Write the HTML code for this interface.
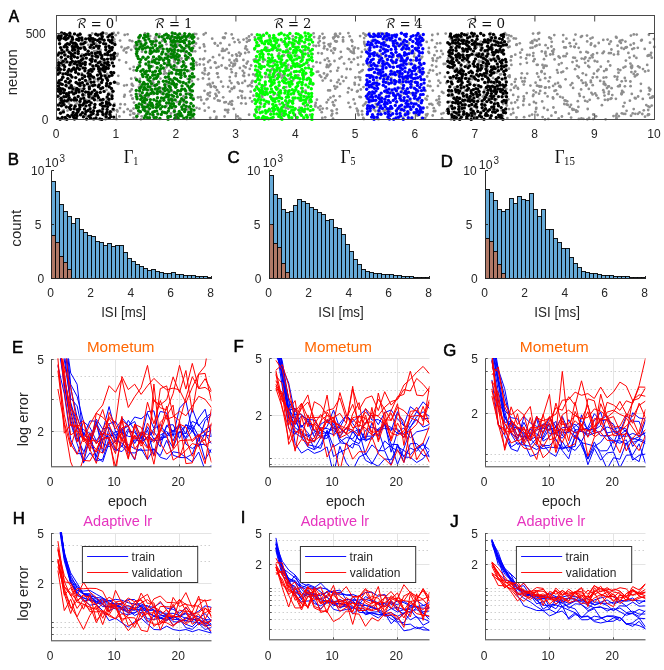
<!DOCTYPE html>
<html><head><meta charset="utf-8"><title>Figure</title>
<style>html,body{margin:0;padding:0;background:#fff;width:664px;height:670px;overflow:hidden}</style>
</head><body><svg width="664" height="670" viewBox="0 0 664 670" style="display:block"><g><g fill="#8e8e8e"><circle cx="430.3" cy="86.2" r="1.38"/><circle cx="593.0" cy="54.5" r="1.38"/><circle cx="520.4" cy="64.1" r="1.38"/><circle cx="191.2" cy="90.8" r="1.38"/><circle cx="236.0" cy="73.4" r="1.38"/><circle cx="578.9" cy="67.0" r="1.38"/><circle cx="59.6" cy="73.0" r="1.38"/><circle cx="547.6" cy="109.9" r="1.38"/><circle cx="533.1" cy="33.6" r="1.38"/><circle cx="336.3" cy="35.7" r="1.38"/><circle cx="237.7" cy="116.3" r="1.38"/><circle cx="223.0" cy="37.7" r="1.38"/><circle cx="208.9" cy="73.4" r="1.38"/><circle cx="322.7" cy="108.6" r="1.38"/><circle cx="358.2" cy="48.4" r="1.38"/><circle cx="387.5" cy="82.0" r="1.38"/><circle cx="651.8" cy="57.7" r="1.38"/><circle cx="530.5" cy="47.8" r="1.38"/><circle cx="428.6" cy="72.9" r="1.38"/><circle cx="647.9" cy="115.2" r="1.38"/><circle cx="185.3" cy="48.2" r="1.38"/><circle cx="152.3" cy="59.4" r="1.38"/><circle cx="422.8" cy="40.6" r="1.38"/><circle cx="82.8" cy="96.1" r="1.38"/><circle cx="77.8" cy="51.5" r="1.38"/><circle cx="364.4" cy="43.8" r="1.38"/><circle cx="335.3" cy="88.7" r="1.38"/><circle cx="605.0" cy="84.0" r="1.38"/><circle cx="432.8" cy="90.6" r="1.38"/><circle cx="363.9" cy="119.0" r="1.38"/><circle cx="353.6" cy="99.4" r="1.38"/><circle cx="204.5" cy="90.8" r="1.38"/><circle cx="63.6" cy="110.1" r="1.38"/><circle cx="171.6" cy="53.2" r="1.38"/><circle cx="470.3" cy="82.5" r="1.38"/><circle cx="176.5" cy="70.3" r="1.38"/><circle cx="277.5" cy="94.8" r="1.38"/><circle cx="58.7" cy="88.3" r="1.38"/><circle cx="552.9" cy="54.2" r="1.38"/><circle cx="148.9" cy="78.8" r="1.38"/><circle cx="216.5" cy="67.8" r="1.38"/><circle cx="582.9" cy="82.9" r="1.38"/><circle cx="361.4" cy="71.2" r="1.38"/><circle cx="563.1" cy="41.7" r="1.38"/><circle cx="439.1" cy="96.3" r="1.38"/><circle cx="500.1" cy="74.5" r="1.38"/><circle cx="111.2" cy="59.9" r="1.38"/><circle cx="380.1" cy="112.0" r="1.38"/><circle cx="360.1" cy="36.1" r="1.38"/><circle cx="577.6" cy="76.3" r="1.38"/><circle cx="272.5" cy="98.2" r="1.38"/><circle cx="414.2" cy="53.6" r="1.38"/><circle cx="91.9" cy="48.8" r="1.38"/><circle cx="288.3" cy="64.8" r="1.38"/><circle cx="249.7" cy="40.1" r="1.38"/><circle cx="146.3" cy="111.8" r="1.38"/><circle cx="544.7" cy="73.8" r="1.38"/><circle cx="283.4" cy="55.1" r="1.38"/><circle cx="641.8" cy="40.0" r="1.38"/><circle cx="409.3" cy="63.9" r="1.38"/><circle cx="418.3" cy="67.3" r="1.38"/><circle cx="438.0" cy="85.9" r="1.38"/><circle cx="461.0" cy="70.0" r="1.38"/><circle cx="146.7" cy="71.4" r="1.38"/><circle cx="319.8" cy="41.1" r="1.38"/><circle cx="199.8" cy="47.8" r="1.38"/><circle cx="297.2" cy="55.6" r="1.38"/><circle cx="114.3" cy="39.4" r="1.38"/><circle cx="635.3" cy="113.8" r="1.38"/><circle cx="185.1" cy="52.8" r="1.38"/><circle cx="458.2" cy="79.3" r="1.38"/><circle cx="236.2" cy="54.3" r="1.38"/><circle cx="579.2" cy="93.8" r="1.38"/><circle cx="452.5" cy="79.0" r="1.38"/><circle cx="135.2" cy="48.0" r="1.38"/><circle cx="561.9" cy="116.5" r="1.38"/><circle cx="621.6" cy="94.3" r="1.38"/><circle cx="597.0" cy="77.2" r="1.38"/><circle cx="397.2" cy="45.7" r="1.38"/><circle cx="143.5" cy="96.1" r="1.38"/><circle cx="171.6" cy="48.2" r="1.38"/><circle cx="611.4" cy="98.3" r="1.38"/><circle cx="386.8" cy="93.2" r="1.38"/><circle cx="164.5" cy="71.5" r="1.38"/><circle cx="585.2" cy="62.8" r="1.38"/><circle cx="440.2" cy="43.2" r="1.38"/><circle cx="397.2" cy="43.3" r="1.38"/><circle cx="281.5" cy="97.8" r="1.38"/><circle cx="302.3" cy="54.9" r="1.38"/><circle cx="199.7" cy="64.5" r="1.38"/><circle cx="79.3" cy="86.0" r="1.38"/><circle cx="580.5" cy="52.2" r="1.38"/><circle cx="336.2" cy="41.7" r="1.38"/><circle cx="384.0" cy="78.0" r="1.38"/><circle cx="249.2" cy="40.1" r="1.38"/><circle cx="505.8" cy="108.4" r="1.38"/><circle cx="71.6" cy="105.1" r="1.38"/><circle cx="279.1" cy="53.3" r="1.38"/><circle cx="74.6" cy="93.0" r="1.38"/><circle cx="130.0" cy="68.8" r="1.38"/><circle cx="634.9" cy="76.4" r="1.38"/><circle cx="449.8" cy="106.9" r="1.38"/><circle cx="312.6" cy="54.1" r="1.38"/><circle cx="369.7" cy="55.2" r="1.38"/><circle cx="578.4" cy="106.9" r="1.38"/><circle cx="262.3" cy="97.0" r="1.38"/><circle cx="409.5" cy="50.1" r="1.38"/><circle cx="465.3" cy="40.4" r="1.38"/><circle cx="269.0" cy="44.1" r="1.38"/><circle cx="366.9" cy="76.0" r="1.38"/><circle cx="514.1" cy="87.7" r="1.38"/><circle cx="600.2" cy="80.9" r="1.38"/><circle cx="146.8" cy="104.2" r="1.38"/><circle cx="614.7" cy="76.5" r="1.38"/><circle cx="59.6" cy="99.5" r="1.38"/><circle cx="506.8" cy="105.5" r="1.38"/><circle cx="541.2" cy="86.5" r="1.38"/><circle cx="138.3" cy="114.0" r="1.38"/><circle cx="307.0" cy="78.7" r="1.38"/><circle cx="544.0" cy="59.2" r="1.38"/><circle cx="65.0" cy="63.0" r="1.38"/><circle cx="432.3" cy="35.0" r="1.38"/><circle cx="530.7" cy="42.7" r="1.38"/><circle cx="363.3" cy="64.6" r="1.38"/><circle cx="490.6" cy="41.7" r="1.38"/><circle cx="191.9" cy="81.0" r="1.38"/><circle cx="175.2" cy="50.3" r="1.38"/><circle cx="273.6" cy="94.8" r="1.38"/><circle cx="163.8" cy="73.9" r="1.38"/><circle cx="263.4" cy="34.6" r="1.38"/><circle cx="623.5" cy="67.6" r="1.38"/><circle cx="399.4" cy="75.6" r="1.38"/><circle cx="259.9" cy="51.3" r="1.38"/><circle cx="218.9" cy="92.4" r="1.38"/><circle cx="625.8" cy="47.5" r="1.38"/><circle cx="322.3" cy="117.9" r="1.38"/><circle cx="642.8" cy="98.9" r="1.38"/><circle cx="364.8" cy="104.1" r="1.38"/><circle cx="368.2" cy="97.2" r="1.38"/><circle cx="592.6" cy="37.6" r="1.38"/><circle cx="500.7" cy="117.4" r="1.38"/><circle cx="403.7" cy="93.6" r="1.38"/><circle cx="311.6" cy="69.7" r="1.38"/><circle cx="581.7" cy="58.6" r="1.38"/><circle cx="302.7" cy="52.4" r="1.38"/><circle cx="608.3" cy="86.3" r="1.38"/><circle cx="97.6" cy="100.4" r="1.38"/><circle cx="313.6" cy="45.6" r="1.38"/><circle cx="367.2" cy="108.9" r="1.38"/><circle cx="625.2" cy="113.9" r="1.38"/><circle cx="206.6" cy="99.4" r="1.38"/><circle cx="538.5" cy="76.8" r="1.38"/><circle cx="461.0" cy="37.8" r="1.38"/><circle cx="485.3" cy="56.3" r="1.38"/><circle cx="433.0" cy="70.6" r="1.38"/><circle cx="637.5" cy="74.3" r="1.38"/><circle cx="255.4" cy="59.4" r="1.38"/><circle cx="294.7" cy="65.2" r="1.38"/><circle cx="177.8" cy="90.4" r="1.38"/><circle cx="86.8" cy="111.5" r="1.38"/><circle cx="183.8" cy="102.1" r="1.38"/><circle cx="603.9" cy="51.7" r="1.38"/><circle cx="558.9" cy="64.5" r="1.38"/><circle cx="123.7" cy="50.4" r="1.38"/><circle cx="417.6" cy="115.6" r="1.38"/><circle cx="343.1" cy="41.4" r="1.38"/><circle cx="412.1" cy="86.4" r="1.38"/><circle cx="450.7" cy="39.2" r="1.38"/><circle cx="239.9" cy="68.0" r="1.38"/><circle cx="631.4" cy="72.1" r="1.38"/><circle cx="335.1" cy="48.6" r="1.38"/><circle cx="432.1" cy="65.3" r="1.38"/><circle cx="436.4" cy="61.0" r="1.38"/><circle cx="166.5" cy="105.8" r="1.38"/><circle cx="93.5" cy="67.1" r="1.38"/><circle cx="302.6" cy="88.6" r="1.38"/><circle cx="513.4" cy="112.9" r="1.38"/><circle cx="544.0" cy="108.0" r="1.38"/><circle cx="493.0" cy="77.9" r="1.38"/><circle cx="124.2" cy="96.7" r="1.38"/><circle cx="602.7" cy="53.2" r="1.38"/><circle cx="536.1" cy="108.9" r="1.38"/><circle cx="581.4" cy="118.3" r="1.38"/><circle cx="369.4" cy="33.1" r="1.38"/><circle cx="604.0" cy="92.4" r="1.38"/><circle cx="84.4" cy="75.3" r="1.38"/><circle cx="74.6" cy="101.3" r="1.38"/><circle cx="68.6" cy="101.4" r="1.38"/><circle cx="207.7" cy="84.6" r="1.38"/><circle cx="205.1" cy="51.1" r="1.38"/><circle cx="168.6" cy="116.1" r="1.38"/><circle cx="395.6" cy="46.9" r="1.38"/><circle cx="79.8" cy="33.7" r="1.38"/><circle cx="409.6" cy="71.0" r="1.38"/><circle cx="155.8" cy="88.3" r="1.38"/><circle cx="461.9" cy="99.2" r="1.38"/><circle cx="69.1" cy="103.6" r="1.38"/><circle cx="242.2" cy="91.5" r="1.38"/><circle cx="617.6" cy="45.7" r="1.38"/><circle cx="378.5" cy="119.2" r="1.38"/><circle cx="541.8" cy="51.4" r="1.38"/><circle cx="450.0" cy="61.7" r="1.38"/><circle cx="421.7" cy="117.9" r="1.38"/><circle cx="170.9" cy="113.5" r="1.38"/><circle cx="400.0" cy="55.8" r="1.38"/><circle cx="80.2" cy="61.2" r="1.38"/><circle cx="535.9" cy="92.3" r="1.38"/><circle cx="630.6" cy="44.9" r="1.38"/><circle cx="567.2" cy="101.3" r="1.38"/><circle cx="86.8" cy="82.5" r="1.38"/><circle cx="259.0" cy="109.5" r="1.38"/><circle cx="246.7" cy="63.5" r="1.38"/><circle cx="123.9" cy="112.0" r="1.38"/><circle cx="431.2" cy="103.9" r="1.38"/><circle cx="533.4" cy="53.1" r="1.38"/><circle cx="244.1" cy="76.1" r="1.38"/><circle cx="572.5" cy="62.1" r="1.38"/><circle cx="533.2" cy="55.9" r="1.38"/><circle cx="133.7" cy="66.9" r="1.38"/><circle cx="515.1" cy="102.4" r="1.38"/><circle cx="584.3" cy="59.0" r="1.38"/><circle cx="174.5" cy="109.5" r="1.38"/><circle cx="399.5" cy="96.1" r="1.38"/><circle cx="438.5" cy="80.7" r="1.38"/><circle cx="420.9" cy="109.6" r="1.38"/><circle cx="114.1" cy="110.3" r="1.38"/><circle cx="451.9" cy="63.0" r="1.38"/><circle cx="434.4" cy="55.2" r="1.38"/><circle cx="549.2" cy="87.4" r="1.38"/><circle cx="537.0" cy="85.7" r="1.38"/><circle cx="252.1" cy="101.5" r="1.38"/><circle cx="488.3" cy="74.3" r="1.38"/><circle cx="575.1" cy="69.2" r="1.38"/><circle cx="590.5" cy="38.6" r="1.38"/><circle cx="153.1" cy="116.0" r="1.38"/><circle cx="72.5" cy="40.7" r="1.38"/><circle cx="445.7" cy="33.6" r="1.38"/><circle cx="184.9" cy="89.5" r="1.38"/><circle cx="393.6" cy="56.6" r="1.38"/><circle cx="621.5" cy="48.0" r="1.38"/><circle cx="283.3" cy="63.1" r="1.38"/><circle cx="207.7" cy="94.5" r="1.38"/><circle cx="329.5" cy="65.5" r="1.38"/><circle cx="449.5" cy="43.5" r="1.38"/><circle cx="117.0" cy="110.2" r="1.38"/><circle cx="284.1" cy="77.9" r="1.38"/><circle cx="136.5" cy="117.5" r="1.38"/><circle cx="452.6" cy="46.3" r="1.38"/><circle cx="553.2" cy="52.0" r="1.38"/><circle cx="281.9" cy="115.5" r="1.38"/><circle cx="278.8" cy="54.9" r="1.38"/><circle cx="379.1" cy="59.6" r="1.38"/><circle cx="185.1" cy="108.6" r="1.38"/><circle cx="204.5" cy="74.0" r="1.38"/><circle cx="253.8" cy="59.8" r="1.38"/><circle cx="330.0" cy="90.4" r="1.38"/><circle cx="105.3" cy="75.8" r="1.38"/><circle cx="506.6" cy="34.9" r="1.38"/><circle cx="402.8" cy="64.4" r="1.38"/><circle cx="235.7" cy="76.0" r="1.38"/><circle cx="102.9" cy="113.8" r="1.38"/><circle cx="512.9" cy="109.0" r="1.38"/><circle cx="134.9" cy="45.8" r="1.38"/><circle cx="136.2" cy="55.1" r="1.38"/><circle cx="134.6" cy="47.1" r="1.38"/><circle cx="105.1" cy="69.4" r="1.38"/><circle cx="598.5" cy="69.6" r="1.38"/><circle cx="217.5" cy="73.5" r="1.38"/><circle cx="239.7" cy="55.8" r="1.38"/><circle cx="554.5" cy="90.9" r="1.38"/><circle cx="427.2" cy="76.5" r="1.38"/><circle cx="168.4" cy="78.8" r="1.38"/><circle cx="316.5" cy="62.2" r="1.38"/><circle cx="585.1" cy="100.8" r="1.38"/><circle cx="281.0" cy="117.3" r="1.38"/><circle cx="481.6" cy="111.8" r="1.38"/><circle cx="114.4" cy="104.0" r="1.38"/><circle cx="491.4" cy="45.2" r="1.38"/><circle cx="520.8" cy="57.4" r="1.38"/><circle cx="550.3" cy="54.5" r="1.38"/><circle cx="459.7" cy="81.0" r="1.38"/><circle cx="278.2" cy="110.6" r="1.38"/><circle cx="94.9" cy="79.2" r="1.38"/><circle cx="366.7" cy="44.7" r="1.38"/><circle cx="509.5" cy="75.4" r="1.38"/><circle cx="170.6" cy="64.7" r="1.38"/><circle cx="215.7" cy="87.1" r="1.38"/><circle cx="377.1" cy="106.5" r="1.38"/><circle cx="504.0" cy="65.2" r="1.38"/><circle cx="592.7" cy="77.5" r="1.38"/><circle cx="131.7" cy="89.5" r="1.38"/><circle cx="166.7" cy="97.1" r="1.38"/><circle cx="534.6" cy="59.2" r="1.38"/><circle cx="441.9" cy="91.9" r="1.38"/><circle cx="487.6" cy="69.6" r="1.38"/><circle cx="652.6" cy="97.0" r="1.38"/><circle cx="618.1" cy="54.2" r="1.38"/><circle cx="560.6" cy="87.0" r="1.38"/><circle cx="521.2" cy="78.0" r="1.38"/><circle cx="292.7" cy="39.1" r="1.38"/><circle cx="440.0" cy="57.2" r="1.38"/><circle cx="166.8" cy="55.7" r="1.38"/><circle cx="510.7" cy="90.1" r="1.38"/><circle cx="509.6" cy="46.7" r="1.38"/><circle cx="487.8" cy="86.1" r="1.38"/><circle cx="322.5" cy="33.8" r="1.38"/><circle cx="282.7" cy="41.9" r="1.38"/><circle cx="307.5" cy="62.4" r="1.38"/><circle cx="76.4" cy="47.4" r="1.38"/><circle cx="561.4" cy="72.3" r="1.38"/><circle cx="380.8" cy="56.0" r="1.38"/><circle cx="288.2" cy="108.7" r="1.38"/><circle cx="384.2" cy="33.8" r="1.38"/><circle cx="488.0" cy="50.1" r="1.38"/><circle cx="284.6" cy="107.2" r="1.38"/><circle cx="553.2" cy="98.5" r="1.38"/><circle cx="606.3" cy="69.7" r="1.38"/><circle cx="288.2" cy="53.4" r="1.38"/><circle cx="138.9" cy="106.6" r="1.38"/><circle cx="511.2" cy="36.2" r="1.38"/><circle cx="650.3" cy="89.5" r="1.38"/><circle cx="145.0" cy="33.3" r="1.38"/><circle cx="482.7" cy="54.3" r="1.38"/><circle cx="550.0" cy="77.4" r="1.38"/><circle cx="607.0" cy="88.1" r="1.38"/><circle cx="130.3" cy="111.1" r="1.38"/><circle cx="111.4" cy="111.9" r="1.38"/><circle cx="647.2" cy="64.9" r="1.38"/><circle cx="126.3" cy="52.5" r="1.38"/><circle cx="162.2" cy="40.8" r="1.38"/><circle cx="400.3" cy="87.9" r="1.38"/><circle cx="323.4" cy="38.2" r="1.38"/><circle cx="505.2" cy="93.8" r="1.38"/><circle cx="170.5" cy="38.0" r="1.38"/><circle cx="603.3" cy="39.9" r="1.38"/><circle cx="186.4" cy="106.1" r="1.38"/><circle cx="516.4" cy="44.9" r="1.38"/><circle cx="96.9" cy="58.5" r="1.38"/><circle cx="339.6" cy="58.6" r="1.38"/><circle cx="76.0" cy="46.7" r="1.38"/><circle cx="244.2" cy="73.0" r="1.38"/><circle cx="243.2" cy="75.6" r="1.38"/><circle cx="486.9" cy="87.7" r="1.38"/><circle cx="328.6" cy="44.5" r="1.38"/><circle cx="90.5" cy="41.4" r="1.38"/><circle cx="651.7" cy="105.6" r="1.38"/><circle cx="587.9" cy="52.6" r="1.38"/><circle cx="604.5" cy="95.6" r="1.38"/><circle cx="204.0" cy="103.6" r="1.38"/><circle cx="292.2" cy="102.4" r="1.38"/><circle cx="192.4" cy="69.8" r="1.38"/><circle cx="131.2" cy="95.3" r="1.38"/><circle cx="76.2" cy="98.5" r="1.38"/><circle cx="357.5" cy="111.0" r="1.38"/><circle cx="130.1" cy="91.4" r="1.38"/><circle cx="161.9" cy="52.4" r="1.38"/><circle cx="571.1" cy="117.6" r="1.38"/><circle cx="346.1" cy="77.7" r="1.38"/><circle cx="166.4" cy="67.3" r="1.38"/><circle cx="457.1" cy="115.2" r="1.38"/><circle cx="215.5" cy="94.0" r="1.38"/><circle cx="371.6" cy="40.9" r="1.38"/><circle cx="225.7" cy="33.3" r="1.38"/><circle cx="365.2" cy="45.8" r="1.38"/><circle cx="432.4" cy="104.8" r="1.38"/><circle cx="377.2" cy="53.3" r="1.38"/><circle cx="293.1" cy="80.4" r="1.38"/><circle cx="529.4" cy="104.7" r="1.38"/><circle cx="578.8" cy="77.8" r="1.38"/><circle cx="163.8" cy="39.5" r="1.38"/><circle cx="138.0" cy="43.5" r="1.38"/><circle cx="124.2" cy="85.6" r="1.38"/><circle cx="642.3" cy="114.0" r="1.38"/><circle cx="619.6" cy="41.5" r="1.38"/><circle cx="194.4" cy="34.0" r="1.38"/><circle cx="636.5" cy="75.2" r="1.38"/><circle cx="180.8" cy="100.0" r="1.38"/><circle cx="359.4" cy="72.4" r="1.38"/><circle cx="353.9" cy="59.2" r="1.38"/><circle cx="603.6" cy="77.7" r="1.38"/><circle cx="80.7" cy="88.9" r="1.38"/><circle cx="245.1" cy="98.0" r="1.38"/><circle cx="415.3" cy="93.8" r="1.38"/><circle cx="96.2" cy="115.2" r="1.38"/><circle cx="198.0" cy="97.4" r="1.38"/><circle cx="334.6" cy="36.9" r="1.38"/><circle cx="583.3" cy="118.8" r="1.38"/><circle cx="511.6" cy="56.5" r="1.38"/><circle cx="552.2" cy="51.1" r="1.38"/><circle cx="511.6" cy="84.4" r="1.38"/><circle cx="479.7" cy="67.9" r="1.38"/><circle cx="564.6" cy="100.4" r="1.38"/><circle cx="464.0" cy="61.6" r="1.38"/><circle cx="496.4" cy="58.2" r="1.38"/><circle cx="236.9" cy="55.8" r="1.38"/><circle cx="156.7" cy="76.9" r="1.38"/><circle cx="508.9" cy="35.4" r="1.38"/><circle cx="155.7" cy="44.4" r="1.38"/><circle cx="606.3" cy="69.9" r="1.38"/><circle cx="413.3" cy="60.4" r="1.38"/><circle cx="253.5" cy="95.7" r="1.38"/><circle cx="616.6" cy="37.7" r="1.38"/><circle cx="149.3" cy="63.6" r="1.38"/><circle cx="364.2" cy="41.9" r="1.38"/><circle cx="111.2" cy="94.5" r="1.38"/><circle cx="633.8" cy="34.4" r="1.38"/><circle cx="400.6" cy="110.4" r="1.38"/><circle cx="537.1" cy="73.5" r="1.38"/><circle cx="225.1" cy="109.9" r="1.38"/><circle cx="536.0" cy="103.1" r="1.38"/><circle cx="476.8" cy="53.3" r="1.38"/><circle cx="441.4" cy="113.8" r="1.38"/><circle cx="624.9" cy="86.3" r="1.38"/><circle cx="315.7" cy="102.9" r="1.38"/><circle cx="304.7" cy="45.8" r="1.38"/><circle cx="470.4" cy="112.4" r="1.38"/><circle cx="555.9" cy="90.3" r="1.38"/><circle cx="256.9" cy="45.3" r="1.38"/><circle cx="457.0" cy="60.0" r="1.38"/><circle cx="181.5" cy="58.5" r="1.38"/><circle cx="386.4" cy="33.6" r="1.38"/><circle cx="516.5" cy="117.5" r="1.38"/><circle cx="95.6" cy="61.9" r="1.38"/><circle cx="491.7" cy="54.9" r="1.38"/><circle cx="65.7" cy="54.7" r="1.38"/><circle cx="629.6" cy="57.6" r="1.38"/><circle cx="336.8" cy="113.2" r="1.38"/><circle cx="301.1" cy="112.2" r="1.38"/><circle cx="487.3" cy="52.5" r="1.38"/><circle cx="369.4" cy="66.5" r="1.38"/><circle cx="493.5" cy="96.7" r="1.38"/><circle cx="107.2" cy="118.7" r="1.38"/><circle cx="393.0" cy="73.3" r="1.38"/><circle cx="390.2" cy="111.7" r="1.38"/><circle cx="613.9" cy="54.6" r="1.38"/><circle cx="80.2" cy="90.0" r="1.38"/><circle cx="327.3" cy="49.5" r="1.38"/><circle cx="433.9" cy="111.2" r="1.38"/><circle cx="385.8" cy="76.7" r="1.38"/><circle cx="100.8" cy="110.9" r="1.38"/><circle cx="411.3" cy="51.9" r="1.38"/><circle cx="189.4" cy="71.0" r="1.38"/><circle cx="173.4" cy="99.2" r="1.38"/><circle cx="582.0" cy="36.1" r="1.38"/><circle cx="174.8" cy="60.4" r="1.38"/><circle cx="328.2" cy="90.4" r="1.38"/><circle cx="505.2" cy="45.4" r="1.38"/><circle cx="479.5" cy="86.6" r="1.38"/><circle cx="387.5" cy="37.8" r="1.38"/><circle cx="539.1" cy="93.7" r="1.38"/><circle cx="335.1" cy="34.2" r="1.38"/><circle cx="427.5" cy="114.1" r="1.38"/><circle cx="546.2" cy="55.8" r="1.38"/><circle cx="462.0" cy="94.2" r="1.38"/><circle cx="440.3" cy="82.8" r="1.38"/><circle cx="299.4" cy="64.4" r="1.38"/><circle cx="390.4" cy="115.5" r="1.38"/><circle cx="293.4" cy="100.1" r="1.38"/><circle cx="501.6" cy="110.5" r="1.38"/><circle cx="284.0" cy="55.4" r="1.38"/><circle cx="335.5" cy="100.3" r="1.38"/><circle cx="508.3" cy="76.3" r="1.38"/><circle cx="357.7" cy="91.0" r="1.38"/><circle cx="258.6" cy="99.0" r="1.38"/><circle cx="550.9" cy="38.5" r="1.38"/><circle cx="284.3" cy="75.5" r="1.38"/><circle cx="561.6" cy="63.1" r="1.38"/><circle cx="526.1" cy="58.5" r="1.38"/><circle cx="324.0" cy="48.3" r="1.38"/><circle cx="482.8" cy="96.7" r="1.38"/><circle cx="77.1" cy="112.7" r="1.38"/><circle cx="289.6" cy="79.0" r="1.38"/><circle cx="571.0" cy="104.8" r="1.38"/><circle cx="403.1" cy="117.7" r="1.38"/><circle cx="390.1" cy="39.8" r="1.38"/><circle cx="454.0" cy="65.2" r="1.38"/><circle cx="461.7" cy="83.6" r="1.38"/><circle cx="405.5" cy="107.7" r="1.38"/><circle cx="308.0" cy="53.5" r="1.38"/><circle cx="166.2" cy="73.3" r="1.38"/><circle cx="231.5" cy="104.4" r="1.38"/><circle cx="231.7" cy="34.4" r="1.38"/><circle cx="314.1" cy="37.1" r="1.38"/><circle cx="653.9" cy="39.1" r="1.38"/><circle cx="267.3" cy="47.9" r="1.38"/><circle cx="324.0" cy="73.4" r="1.38"/><circle cx="278.7" cy="93.5" r="1.38"/><circle cx="404.2" cy="63.0" r="1.38"/><circle cx="623.3" cy="106.4" r="1.38"/><circle cx="588.2" cy="66.0" r="1.38"/><circle cx="282.0" cy="113.8" r="1.38"/><circle cx="216.1" cy="118.3" r="1.38"/><circle cx="585.4" cy="57.5" r="1.38"/><circle cx="351.8" cy="89.8" r="1.38"/><circle cx="466.5" cy="59.1" r="1.38"/><circle cx="100.3" cy="51.9" r="1.38"/><circle cx="574.7" cy="47.1" r="1.38"/><circle cx="243.7" cy="66.1" r="1.38"/><circle cx="352.2" cy="46.1" r="1.38"/><circle cx="174.9" cy="62.4" r="1.38"/><circle cx="307.8" cy="39.1" r="1.38"/><circle cx="551.7" cy="41.8" r="1.38"/><circle cx="551.4" cy="115.7" r="1.38"/><circle cx="339.8" cy="96.3" r="1.38"/><circle cx="515.7" cy="85.8" r="1.38"/><circle cx="330.4" cy="97.6" r="1.38"/><circle cx="279.8" cy="104.2" r="1.38"/><circle cx="382.9" cy="43.8" r="1.38"/><circle cx="176.9" cy="117.3" r="1.38"/><circle cx="245.8" cy="103.7" r="1.38"/><circle cx="479.0" cy="53.6" r="1.38"/><circle cx="517.3" cy="100.1" r="1.38"/><circle cx="90.4" cy="97.1" r="1.38"/><circle cx="494.7" cy="35.7" r="1.38"/><circle cx="545.3" cy="53.4" r="1.38"/><circle cx="322.7" cy="80.6" r="1.38"/><circle cx="93.8" cy="107.7" r="1.38"/><circle cx="464.9" cy="96.2" r="1.38"/><circle cx="203.7" cy="34.5" r="1.38"/><circle cx="441.2" cy="50.9" r="1.38"/><circle cx="281.7" cy="113.4" r="1.38"/><circle cx="437.5" cy="58.2" r="1.38"/><circle cx="210.9" cy="86.9" r="1.38"/><circle cx="341.5" cy="57.1" r="1.38"/><circle cx="370.3" cy="93.9" r="1.38"/><circle cx="433.8" cy="108.2" r="1.38"/><circle cx="178.0" cy="117.8" r="1.38"/><circle cx="631.8" cy="93.9" r="1.38"/><circle cx="229.4" cy="44.9" r="1.38"/><circle cx="239.5" cy="42.3" r="1.38"/><circle cx="209.8" cy="60.3" r="1.38"/><circle cx="96.9" cy="54.7" r="1.38"/><circle cx="309.4" cy="102.6" r="1.38"/><circle cx="518.1" cy="88.8" r="1.38"/><circle cx="480.8" cy="41.6" r="1.38"/><circle cx="173.5" cy="34.0" r="1.38"/><circle cx="138.4" cy="81.1" r="1.38"/><circle cx="248.7" cy="52.2" r="1.38"/><circle cx="515.9" cy="38.6" r="1.38"/><circle cx="348.4" cy="33.1" r="1.38"/><circle cx="608.6" cy="93.9" r="1.38"/><circle cx="449.0" cy="62.8" r="1.38"/><circle cx="427.8" cy="85.7" r="1.38"/><circle cx="515.6" cy="79.2" r="1.38"/><circle cx="505.2" cy="79.5" r="1.38"/><circle cx="262.1" cy="95.4" r="1.38"/><circle cx="210.2" cy="117.8" r="1.38"/><circle cx="318.2" cy="53.1" r="1.38"/><circle cx="349.1" cy="59.2" r="1.38"/><circle cx="141.3" cy="46.6" r="1.38"/><circle cx="320.4" cy="106.2" r="1.38"/><circle cx="439.1" cy="99.0" r="1.38"/><circle cx="137.7" cy="67.8" r="1.38"/><circle cx="139.0" cy="38.3" r="1.38"/><circle cx="160.4" cy="78.6" r="1.38"/><circle cx="225.9" cy="102.1" r="1.38"/><circle cx="631.6" cy="68.0" r="1.38"/><circle cx="71.9" cy="36.5" r="1.38"/><circle cx="166.4" cy="44.3" r="1.38"/><circle cx="155.2" cy="41.6" r="1.38"/><circle cx="340.2" cy="83.9" r="1.38"/><circle cx="65.5" cy="96.8" r="1.38"/><circle cx="330.5" cy="44.0" r="1.38"/><circle cx="153.9" cy="51.2" r="1.38"/><circle cx="217.7" cy="45.7" r="1.38"/><circle cx="530.4" cy="85.6" r="1.38"/><circle cx="166.6" cy="94.7" r="1.38"/><circle cx="425.5" cy="98.7" r="1.38"/><circle cx="299.5" cy="44.0" r="1.38"/><circle cx="306.2" cy="39.8" r="1.38"/><circle cx="545.0" cy="87.7" r="1.38"/><circle cx="152.7" cy="43.7" r="1.38"/><circle cx="608.9" cy="86.4" r="1.38"/><circle cx="590.8" cy="80.7" r="1.38"/><circle cx="456.2" cy="70.4" r="1.38"/><circle cx="86.1" cy="100.3" r="1.38"/><circle cx="453.2" cy="96.3" r="1.38"/><circle cx="415.5" cy="96.4" r="1.38"/><circle cx="518.3" cy="97.0" r="1.38"/><circle cx="184.4" cy="74.8" r="1.38"/><circle cx="626.6" cy="110.8" r="1.38"/><circle cx="586.4" cy="51.9" r="1.38"/><circle cx="124.9" cy="104.4" r="1.38"/><circle cx="245.0" cy="81.0" r="1.38"/><circle cx="75.9" cy="63.9" r="1.38"/><circle cx="553.4" cy="107.5" r="1.38"/><circle cx="603.7" cy="84.0" r="1.38"/><circle cx="648.4" cy="70.7" r="1.38"/><circle cx="422.4" cy="71.8" r="1.38"/><circle cx="454.8" cy="42.1" r="1.38"/><circle cx="462.2" cy="51.5" r="1.38"/><circle cx="397.4" cy="109.0" r="1.38"/><circle cx="626.0" cy="47.3" r="1.38"/><circle cx="420.0" cy="71.9" r="1.38"/><circle cx="257.3" cy="60.7" r="1.38"/><circle cx="363.2" cy="105.6" r="1.38"/><circle cx="67.7" cy="78.6" r="1.38"/><circle cx="489.5" cy="58.8" r="1.38"/><circle cx="471.5" cy="50.4" r="1.38"/><circle cx="308.3" cy="49.7" r="1.38"/><circle cx="565.7" cy="100.7" r="1.38"/><circle cx="508.3" cy="47.3" r="1.38"/><circle cx="257.8" cy="70.2" r="1.38"/><circle cx="102.8" cy="61.5" r="1.38"/><circle cx="135.6" cy="45.7" r="1.38"/><circle cx="166.7" cy="84.4" r="1.38"/><circle cx="238.2" cy="39.8" r="1.38"/><circle cx="324.1" cy="43.1" r="1.38"/><circle cx="611.4" cy="49.5" r="1.38"/><circle cx="223.0" cy="86.6" r="1.38"/><circle cx="593.9" cy="73.7" r="1.38"/><circle cx="463.4" cy="104.5" r="1.38"/><circle cx="566.9" cy="53.7" r="1.38"/><circle cx="297.6" cy="42.3" r="1.38"/><circle cx="58.5" cy="105.6" r="1.38"/><circle cx="527.1" cy="55.0" r="1.38"/><circle cx="203.3" cy="59.3" r="1.38"/><circle cx="141.7" cy="116.3" r="1.38"/><circle cx="534.6" cy="40.0" r="1.38"/><circle cx="466.9" cy="78.0" r="1.38"/><circle cx="183.5" cy="96.2" r="1.38"/><circle cx="216.5" cy="116.9" r="1.38"/><circle cx="618.2" cy="51.7" r="1.38"/><circle cx="217.1" cy="90.2" r="1.38"/><circle cx="476.5" cy="75.0" r="1.38"/><circle cx="134.0" cy="102.6" r="1.38"/><circle cx="543.9" cy="66.9" r="1.38"/><circle cx="126.8" cy="85.1" r="1.38"/><circle cx="365.1" cy="49.6" r="1.38"/><circle cx="77.6" cy="61.8" r="1.38"/><circle cx="385.4" cy="57.0" r="1.38"/><circle cx="562.8" cy="97.7" r="1.38"/><circle cx="107.0" cy="114.0" r="1.38"/><circle cx="220.5" cy="43.2" r="1.38"/><circle cx="513.8" cy="38.4" r="1.38"/><circle cx="420.1" cy="63.7" r="1.38"/><circle cx="243.6" cy="39.6" r="1.38"/><circle cx="432.6" cy="58.3" r="1.38"/><circle cx="328.4" cy="67.0" r="1.38"/><circle cx="572.2" cy="83.2" r="1.38"/><circle cx="231.7" cy="88.7" r="1.38"/><circle cx="509.6" cy="77.1" r="1.38"/><circle cx="436.6" cy="100.2" r="1.38"/><circle cx="499.3" cy="82.4" r="1.38"/><circle cx="282.7" cy="75.5" r="1.38"/><circle cx="490.0" cy="116.8" r="1.38"/><circle cx="474.2" cy="85.4" r="1.38"/><circle cx="288.2" cy="94.8" r="1.38"/><circle cx="72.3" cy="64.5" r="1.38"/><circle cx="632.3" cy="49.1" r="1.38"/><circle cx="483.2" cy="66.2" r="1.38"/><circle cx="178.9" cy="62.0" r="1.38"/><circle cx="493.5" cy="66.3" r="1.38"/><circle cx="223.2" cy="97.3" r="1.38"/><circle cx="337.1" cy="86.9" r="1.38"/><circle cx="570.7" cy="46.3" r="1.38"/><circle cx="324.4" cy="37.5" r="1.38"/><circle cx="228.7" cy="103.8" r="1.38"/><circle cx="239.2" cy="118.6" r="1.38"/><circle cx="102.6" cy="36.2" r="1.38"/><circle cx="187.8" cy="45.0" r="1.38"/><circle cx="218.6" cy="66.8" r="1.38"/><circle cx="159.9" cy="48.7" r="1.38"/><circle cx="94.2" cy="68.0" r="1.38"/><circle cx="335.0" cy="41.1" r="1.38"/><circle cx="184.7" cy="98.4" r="1.38"/><circle cx="498.3" cy="81.0" r="1.38"/><circle cx="608.2" cy="61.4" r="1.38"/><circle cx="219.7" cy="100.8" r="1.38"/><circle cx="398.7" cy="57.5" r="1.38"/><circle cx="359.5" cy="96.8" r="1.38"/><circle cx="101.4" cy="58.0" r="1.38"/><circle cx="131.2" cy="49.8" r="1.38"/><circle cx="585.6" cy="82.7" r="1.38"/><circle cx="340.0" cy="33.7" r="1.38"/><circle cx="537.7" cy="64.8" r="1.38"/><circle cx="96.3" cy="53.9" r="1.38"/><circle cx="412.2" cy="117.7" r="1.38"/><circle cx="574.0" cy="109.7" r="1.38"/><circle cx="575.0" cy="57.8" r="1.38"/><circle cx="59.9" cy="37.8" r="1.38"/><circle cx="368.5" cy="65.1" r="1.38"/><circle cx="277.2" cy="40.4" r="1.38"/><circle cx="511.0" cy="114.4" r="1.38"/><circle cx="100.3" cy="42.2" r="1.38"/><circle cx="214.9" cy="43.5" r="1.38"/><circle cx="542.5" cy="65.0" r="1.38"/><circle cx="337.3" cy="82.3" r="1.38"/><circle cx="327.5" cy="58.4" r="1.38"/><circle cx="635.7" cy="98.4" r="1.38"/><circle cx="247.8" cy="61.6" r="1.38"/><circle cx="81.4" cy="59.3" r="1.38"/><circle cx="291.0" cy="72.7" r="1.38"/><circle cx="148.2" cy="97.0" r="1.38"/><circle cx="105.5" cy="119.3" r="1.38"/><circle cx="396.1" cy="102.5" r="1.38"/><circle cx="626.7" cy="47.2" r="1.38"/><circle cx="403.0" cy="101.1" r="1.38"/><circle cx="443.5" cy="113.1" r="1.38"/><circle cx="250.0" cy="98.1" r="1.38"/><circle cx="398.0" cy="74.5" r="1.38"/><circle cx="506.3" cy="68.7" r="1.38"/><circle cx="408.9" cy="43.5" r="1.38"/><circle cx="536.6" cy="45.4" r="1.38"/><circle cx="385.7" cy="35.5" r="1.38"/><circle cx="175.0" cy="42.9" r="1.38"/><circle cx="405.0" cy="80.5" r="1.38"/><circle cx="350.1" cy="107.2" r="1.38"/><circle cx="155.7" cy="36.7" r="1.38"/><circle cx="426.8" cy="99.7" r="1.38"/><circle cx="545.0" cy="65.6" r="1.38"/><circle cx="137.3" cy="96.6" r="1.38"/><circle cx="382.4" cy="48.7" r="1.38"/><circle cx="495.2" cy="102.1" r="1.38"/><circle cx="297.5" cy="83.0" r="1.38"/><circle cx="218.0" cy="100.5" r="1.38"/><circle cx="279.1" cy="44.9" r="1.38"/><circle cx="380.4" cy="65.8" r="1.38"/><circle cx="467.1" cy="64.8" r="1.38"/><circle cx="390.9" cy="92.2" r="1.38"/><circle cx="120.5" cy="104.2" r="1.38"/><circle cx="545.6" cy="45.2" r="1.38"/><circle cx="609.0" cy="53.2" r="1.38"/><circle cx="117.1" cy="55.8" r="1.38"/><circle cx="205.7" cy="33.1" r="1.38"/><circle cx="160.4" cy="71.0" r="1.38"/><circle cx="564.3" cy="104.0" r="1.38"/><circle cx="600.8" cy="66.7" r="1.38"/><circle cx="83.0" cy="94.6" r="1.38"/><circle cx="255.3" cy="75.0" r="1.38"/><circle cx="171.6" cy="79.7" r="1.38"/><circle cx="337.3" cy="70.7" r="1.38"/><circle cx="607.6" cy="39.6" r="1.38"/><circle cx="98.5" cy="49.3" r="1.38"/><circle cx="158.9" cy="83.5" r="1.38"/><circle cx="347.7" cy="48.7" r="1.38"/><circle cx="369.9" cy="44.9" r="1.38"/><circle cx="502.3" cy="52.4" r="1.38"/><circle cx="318.2" cy="71.7" r="1.38"/><circle cx="140.9" cy="41.6" r="1.38"/><circle cx="268.0" cy="76.9" r="1.38"/><circle cx="643.8" cy="110.3" r="1.38"/><circle cx="505.4" cy="95.9" r="1.38"/><circle cx="126.1" cy="62.5" r="1.38"/><circle cx="539.8" cy="86.6" r="1.38"/><circle cx="242.4" cy="82.9" r="1.38"/><circle cx="523.8" cy="84.6" r="1.38"/><circle cx="64.1" cy="102.9" r="1.38"/><circle cx="577.5" cy="111.4" r="1.38"/><circle cx="153.6" cy="115.2" r="1.38"/><circle cx="329.0" cy="61.2" r="1.38"/><circle cx="452.2" cy="91.4" r="1.38"/><circle cx="360.2" cy="79.9" r="1.38"/><circle cx="155.4" cy="38.4" r="1.38"/><circle cx="139.7" cy="65.2" r="1.38"/><circle cx="226.7" cy="49.2" r="1.38"/><circle cx="87.8" cy="53.4" r="1.38"/><circle cx="186.0" cy="36.8" r="1.38"/><circle cx="134.3" cy="113.7" r="1.38"/><circle cx="334.4" cy="86.2" r="1.38"/><circle cx="269.7" cy="37.2" r="1.38"/><circle cx="407.4" cy="79.2" r="1.38"/><circle cx="224.5" cy="37.4" r="1.38"/><circle cx="76.8" cy="103.5" r="1.38"/><circle cx="254.5" cy="114.3" r="1.38"/><circle cx="508.1" cy="41.9" r="1.38"/><circle cx="209.5" cy="83.9" r="1.38"/><circle cx="298.4" cy="75.4" r="1.38"/><circle cx="508.0" cy="38.4" r="1.38"/><circle cx="299.7" cy="100.5" r="1.38"/><circle cx="587.0" cy="35.6" r="1.38"/><circle cx="605.5" cy="85.1" r="1.38"/><circle cx="242.2" cy="98.1" r="1.38"/><circle cx="496.6" cy="99.2" r="1.38"/><circle cx="207.9" cy="74.6" r="1.38"/><circle cx="139.9" cy="79.0" r="1.38"/><circle cx="318.4" cy="42.7" r="1.38"/><circle cx="416.8" cy="115.1" r="1.38"/><circle cx="616.0" cy="115.7" r="1.38"/><circle cx="143.7" cy="106.3" r="1.38"/><circle cx="482.5" cy="67.0" r="1.38"/><circle cx="340.8" cy="51.8" r="1.38"/><circle cx="135.3" cy="77.9" r="1.38"/><circle cx="638.1" cy="66.3" r="1.38"/><circle cx="472.6" cy="63.8" r="1.38"/><circle cx="133.6" cy="117.8" r="1.38"/><circle cx="598.1" cy="98.2" r="1.38"/><circle cx="118.2" cy="33.0" r="1.38"/><circle cx="111.9" cy="90.8" r="1.38"/><circle cx="254.8" cy="37.5" r="1.38"/><circle cx="617.4" cy="76.8" r="1.38"/><circle cx="76.2" cy="100.2" r="1.38"/><circle cx="605.6" cy="119.3" r="1.38"/><circle cx="422.2" cy="100.6" r="1.38"/><circle cx="96.6" cy="91.6" r="1.38"/><circle cx="396.5" cy="81.4" r="1.38"/><circle cx="330.9" cy="80.7" r="1.38"/><circle cx="393.8" cy="72.0" r="1.38"/><circle cx="497.3" cy="78.4" r="1.38"/><circle cx="462.3" cy="116.7" r="1.38"/><circle cx="652.8" cy="96.4" r="1.38"/><circle cx="150.2" cy="36.1" r="1.38"/><circle cx="542.6" cy="117.1" r="1.38"/><circle cx="302.3" cy="55.9" r="1.38"/><circle cx="524.9" cy="78.2" r="1.38"/><circle cx="589.8" cy="58.2" r="1.38"/><circle cx="649.7" cy="90.7" r="1.38"/><circle cx="215.6" cy="87.4" r="1.38"/><circle cx="327.4" cy="74.7" r="1.38"/><circle cx="620.3" cy="40.7" r="1.38"/><circle cx="622.1" cy="91.0" r="1.38"/><circle cx="279.5" cy="112.1" r="1.38"/><circle cx="618.7" cy="116.2" r="1.38"/><circle cx="299.2" cy="43.1" r="1.38"/><circle cx="280.6" cy="92.3" r="1.38"/><circle cx="509.0" cy="109.1" r="1.38"/><circle cx="338.3" cy="67.8" r="1.38"/><circle cx="324.5" cy="46.3" r="1.38"/><circle cx="287.4" cy="67.5" r="1.38"/><circle cx="315.3" cy="106.4" r="1.38"/><circle cx="140.1" cy="84.3" r="1.38"/><circle cx="93.0" cy="96.4" r="1.38"/><circle cx="507.4" cy="118.1" r="1.38"/><circle cx="394.1" cy="35.8" r="1.38"/><circle cx="458.3" cy="79.7" r="1.38"/><circle cx="536.3" cy="107.8" r="1.38"/><circle cx="194.1" cy="42.8" r="1.38"/><circle cx="196.3" cy="34.1" r="1.38"/><circle cx="222.7" cy="48.8" r="1.38"/><circle cx="238.2" cy="97.5" r="1.38"/><circle cx="511.4" cy="103.0" r="1.38"/><circle cx="280.3" cy="74.0" r="1.38"/><circle cx="249.8" cy="68.9" r="1.38"/><circle cx="437.0" cy="43.4" r="1.38"/><circle cx="168.1" cy="35.7" r="1.38"/><circle cx="120.1" cy="40.6" r="1.38"/><circle cx="473.4" cy="89.9" r="1.38"/><circle cx="508.9" cy="68.7" r="1.38"/><circle cx="233.7" cy="108.8" r="1.38"/><circle cx="436.9" cy="74.5" r="1.38"/><circle cx="76.9" cy="113.4" r="1.38"/><circle cx="298.3" cy="109.9" r="1.38"/><circle cx="402.1" cy="108.9" r="1.38"/><circle cx="208.0" cy="93.4" r="1.38"/><circle cx="264.7" cy="92.7" r="1.38"/><circle cx="421.0" cy="58.4" r="1.38"/><circle cx="409.3" cy="112.9" r="1.38"/><circle cx="148.7" cy="109.9" r="1.38"/><circle cx="479.0" cy="62.6" r="1.38"/><circle cx="104.4" cy="61.2" r="1.38"/><circle cx="636.4" cy="57.9" r="1.38"/><circle cx="177.5" cy="57.1" r="1.38"/><circle cx="208.1" cy="62.0" r="1.38"/><circle cx="176.3" cy="71.6" r="1.38"/><circle cx="649.4" cy="55.2" r="1.38"/><circle cx="227.9" cy="112.4" r="1.38"/><circle cx="418.5" cy="101.1" r="1.38"/><circle cx="648.9" cy="55.2" r="1.38"/><circle cx="624.6" cy="102.8" r="1.38"/><circle cx="81.8" cy="73.5" r="1.38"/><circle cx="368.2" cy="96.9" r="1.38"/><circle cx="416.1" cy="82.1" r="1.38"/><circle cx="476.5" cy="47.2" r="1.38"/><circle cx="257.4" cy="62.2" r="1.38"/><circle cx="252.6" cy="80.9" r="1.38"/><circle cx="59.1" cy="95.8" r="1.38"/><circle cx="77.6" cy="49.7" r="1.38"/><circle cx="385.4" cy="62.6" r="1.38"/><circle cx="101.9" cy="81.4" r="1.38"/><circle cx="177.6" cy="44.2" r="1.38"/><circle cx="255.8" cy="59.5" r="1.38"/><circle cx="98.6" cy="34.5" r="1.38"/><circle cx="75.0" cy="61.9" r="1.38"/><circle cx="610.8" cy="41.5" r="1.38"/><circle cx="316.8" cy="71.8" r="1.38"/><circle cx="179.0" cy="58.0" r="1.38"/><circle cx="480.2" cy="46.5" r="1.38"/><circle cx="62.1" cy="111.7" r="1.38"/><circle cx="203.0" cy="78.4" r="1.38"/><circle cx="631.0" cy="67.0" r="1.38"/><circle cx="593.3" cy="114.5" r="1.38"/><circle cx="436.8" cy="51.1" r="1.38"/><circle cx="112.2" cy="57.5" r="1.38"/><circle cx="246.7" cy="38.4" r="1.38"/><circle cx="73.2" cy="87.3" r="1.38"/><circle cx="187.6" cy="78.8" r="1.38"/><circle cx="71.7" cy="40.5" r="1.38"/><circle cx="131.9" cy="83.8" r="1.38"/><circle cx="435.2" cy="47.2" r="1.38"/><circle cx="116.6" cy="83.0" r="1.38"/><circle cx="149.6" cy="90.2" r="1.38"/><circle cx="596.4" cy="95.5" r="1.38"/><circle cx="257.1" cy="101.0" r="1.38"/><circle cx="255.6" cy="82.1" r="1.38"/><circle cx="108.3" cy="105.5" r="1.38"/><circle cx="532.5" cy="47.7" r="1.38"/><circle cx="461.0" cy="35.0" r="1.38"/><circle cx="383.7" cy="111.1" r="1.38"/><circle cx="426.0" cy="114.7" r="1.38"/><circle cx="116.5" cy="119.2" r="1.38"/><circle cx="212.2" cy="38.7" r="1.38"/><circle cx="405.5" cy="113.1" r="1.38"/><circle cx="625.9" cy="60.6" r="1.38"/><circle cx="545.1" cy="93.2" r="1.38"/><circle cx="439.7" cy="102.3" r="1.38"/><circle cx="366.8" cy="98.2" r="1.38"/><circle cx="65.5" cy="59.7" r="1.38"/><circle cx="589.1" cy="117.9" r="1.38"/><circle cx="96.5" cy="44.5" r="1.38"/><circle cx="133.7" cy="70.3" r="1.38"/><circle cx="471.0" cy="99.1" r="1.38"/><circle cx="542.2" cy="101.4" r="1.38"/><circle cx="526.9" cy="62.8" r="1.38"/><circle cx="327.0" cy="65.0" r="1.38"/><circle cx="162.4" cy="91.9" r="1.38"/><circle cx="77.6" cy="90.6" r="1.38"/><circle cx="565.6" cy="79.3" r="1.38"/><circle cx="641.2" cy="40.6" r="1.38"/><circle cx="202.5" cy="72.8" r="1.38"/><circle cx="574.4" cy="46.7" r="1.38"/><circle cx="297.2" cy="64.0" r="1.38"/><circle cx="242.7" cy="70.8" r="1.38"/><circle cx="358.6" cy="77.1" r="1.38"/><circle cx="61.4" cy="60.5" r="1.38"/><circle cx="321.2" cy="76.9" r="1.38"/><circle cx="175.8" cy="56.6" r="1.38"/><circle cx="482.5" cy="103.7" r="1.38"/><circle cx="357.0" cy="91.6" r="1.38"/><circle cx="576.1" cy="43.8" r="1.38"/><circle cx="592.7" cy="85.2" r="1.38"/><circle cx="245.9" cy="46.4" r="1.38"/><circle cx="224.2" cy="38.2" r="1.38"/><circle cx="618.1" cy="69.4" r="1.38"/><circle cx="357.9" cy="110.7" r="1.38"/><circle cx="114.2" cy="53.9" r="1.38"/><circle cx="83.9" cy="61.8" r="1.38"/><circle cx="648.8" cy="94.3" r="1.38"/><circle cx="402.8" cy="44.7" r="1.38"/><circle cx="89.1" cy="77.7" r="1.38"/><circle cx="362.2" cy="114.6" r="1.38"/><circle cx="358.0" cy="113.6" r="1.38"/><circle cx="316.9" cy="99.7" r="1.38"/><circle cx="625.4" cy="66.6" r="1.38"/><circle cx="623.9" cy="48.9" r="1.38"/><circle cx="131.2" cy="110.9" r="1.38"/><circle cx="147.2" cy="117.6" r="1.38"/><circle cx="300.2" cy="65.5" r="1.38"/><circle cx="555.2" cy="84.0" r="1.38"/><circle cx="429.5" cy="81.2" r="1.38"/><circle cx="492.9" cy="48.4" r="1.38"/><circle cx="401.0" cy="39.9" r="1.38"/><circle cx="182.1" cy="35.7" r="1.38"/><circle cx="545.5" cy="52.0" r="1.38"/><circle cx="64.9" cy="119.2" r="1.38"/><circle cx="474.2" cy="106.5" r="1.38"/><circle cx="172.7" cy="68.6" r="1.38"/><circle cx="338.2" cy="36.7" r="1.38"/><circle cx="639.6" cy="112.4" r="1.38"/><circle cx="378.8" cy="74.9" r="1.38"/><circle cx="90.6" cy="85.1" r="1.38"/><circle cx="312.9" cy="84.2" r="1.38"/><circle cx="451.3" cy="96.2" r="1.38"/><circle cx="90.4" cy="96.0" r="1.38"/><circle cx="207.6" cy="98.8" r="1.38"/><circle cx="67.5" cy="110.6" r="1.38"/><circle cx="379.5" cy="71.5" r="1.38"/><circle cx="284.6" cy="80.9" r="1.38"/><circle cx="357.7" cy="57.7" r="1.38"/><circle cx="233.4" cy="64.0" r="1.38"/><circle cx="449.3" cy="36.9" r="1.38"/><circle cx="160.0" cy="90.1" r="1.38"/><circle cx="598.7" cy="43.0" r="1.38"/><circle cx="630.6" cy="86.2" r="1.38"/><circle cx="351.3" cy="62.2" r="1.38"/><circle cx="334.8" cy="49.7" r="1.38"/><circle cx="570.6" cy="85.1" r="1.38"/><circle cx="229.8" cy="80.8" r="1.38"/><circle cx="536.8" cy="64.8" r="1.38"/><circle cx="228.3" cy="109.9" r="1.38"/><circle cx="487.0" cy="73.4" r="1.38"/><circle cx="256.2" cy="111.3" r="1.38"/><circle cx="416.9" cy="100.0" r="1.38"/><circle cx="610.2" cy="65.5" r="1.38"/><circle cx="89.0" cy="35.2" r="1.38"/><circle cx="539.2" cy="32.9" r="1.38"/><circle cx="380.5" cy="96.9" r="1.38"/><circle cx="283.2" cy="106.8" r="1.38"/><circle cx="266.0" cy="74.6" r="1.38"/><circle cx="98.0" cy="81.2" r="1.38"/><circle cx="211.0" cy="86.6" r="1.38"/><circle cx="429.1" cy="52.9" r="1.38"/><circle cx="114.9" cy="58.0" r="1.38"/><circle cx="456.8" cy="70.8" r="1.38"/><circle cx="631.9" cy="65.6" r="1.38"/><circle cx="643.0" cy="69.1" r="1.38"/><circle cx="588.3" cy="60.8" r="1.38"/><circle cx="538.9" cy="39.1" r="1.38"/><circle cx="162.9" cy="37.5" r="1.38"/><circle cx="636.7" cy="34.6" r="1.38"/><circle cx="177.7" cy="45.0" r="1.38"/><circle cx="576.2" cy="110.4" r="1.38"/><circle cx="581.5" cy="80.4" r="1.38"/><circle cx="428.4" cy="51.8" r="1.38"/><circle cx="368.2" cy="94.0" r="1.38"/><circle cx="176.4" cy="66.9" r="1.38"/><circle cx="367.1" cy="114.7" r="1.38"/><circle cx="230.3" cy="101.9" r="1.38"/><circle cx="131.8" cy="84.8" r="1.38"/><circle cx="133.2" cy="113.4" r="1.38"/><circle cx="535.6" cy="82.7" r="1.38"/><circle cx="608.1" cy="99.6" r="1.38"/><circle cx="141.3" cy="44.8" r="1.38"/><circle cx="64.4" cy="91.9" r="1.38"/><circle cx="214.2" cy="86.5" r="1.38"/><circle cx="136.9" cy="50.0" r="1.38"/><circle cx="169.3" cy="71.0" r="1.38"/><circle cx="405.3" cy="115.2" r="1.38"/><circle cx="309.0" cy="100.6" r="1.38"/><circle cx="313.2" cy="66.6" r="1.38"/><circle cx="179.5" cy="102.2" r="1.38"/><circle cx="453.9" cy="98.0" r="1.38"/><circle cx="229.6" cy="65.5" r="1.38"/><circle cx="295.2" cy="76.6" r="1.38"/><circle cx="333.6" cy="96.2" r="1.38"/><circle cx="597.3" cy="71.0" r="1.38"/><circle cx="203.8" cy="64.6" r="1.38"/><circle cx="486.3" cy="116.1" r="1.38"/><circle cx="241.5" cy="95.8" r="1.38"/><circle cx="591.4" cy="92.8" r="1.38"/><circle cx="292.2" cy="43.3" r="1.38"/><circle cx="358.6" cy="115.1" r="1.38"/><circle cx="581.1" cy="89.4" r="1.38"/><circle cx="458.8" cy="102.6" r="1.38"/><circle cx="112.9" cy="59.3" r="1.38"/><circle cx="138.3" cy="49.2" r="1.38"/><circle cx="649.0" cy="114.5" r="1.38"/><circle cx="73.9" cy="44.7" r="1.38"/><circle cx="236.4" cy="59.2" r="1.38"/><circle cx="629.9" cy="100.7" r="1.38"/><circle cx="65.5" cy="40.1" r="1.38"/><circle cx="153.0" cy="94.1" r="1.38"/><circle cx="184.1" cy="51.2" r="1.38"/><circle cx="108.2" cy="113.0" r="1.38"/><circle cx="338.7" cy="80.0" r="1.38"/><circle cx="410.8" cy="75.7" r="1.38"/><circle cx="246.9" cy="41.8" r="1.38"/><circle cx="121.5" cy="47.0" r="1.38"/><circle cx="541.5" cy="72.1" r="1.38"/><circle cx="537.6" cy="115.0" r="1.38"/><circle cx="392.6" cy="82.2" r="1.38"/><circle cx="138.9" cy="87.0" r="1.38"/><circle cx="380.6" cy="33.2" r="1.38"/><circle cx="433.0" cy="60.5" r="1.38"/><circle cx="312.6" cy="84.4" r="1.38"/><circle cx="573.1" cy="87.9" r="1.38"/><circle cx="289.7" cy="53.0" r="1.38"/><circle cx="362.0" cy="111.2" r="1.38"/><circle cx="124.8" cy="48.7" r="1.38"/><circle cx="393.5" cy="61.4" r="1.38"/><circle cx="514.8" cy="81.8" r="1.38"/><circle cx="493.8" cy="57.9" r="1.38"/><circle cx="210.2" cy="85.0" r="1.38"/><circle cx="649.6" cy="107.1" r="1.38"/><circle cx="487.0" cy="83.4" r="1.38"/><circle cx="309.9" cy="115.0" r="1.38"/><circle cx="304.6" cy="112.0" r="1.38"/><circle cx="522.5" cy="81.5" r="1.38"/><circle cx="161.6" cy="48.0" r="1.38"/><circle cx="439.0" cy="101.8" r="1.38"/><circle cx="486.4" cy="76.1" r="1.38"/><circle cx="365.3" cy="34.7" r="1.38"/><circle cx="578.7" cy="47.8" r="1.38"/><circle cx="336.7" cy="41.3" r="1.38"/><circle cx="334.5" cy="61.0" r="1.38"/><circle cx="226.7" cy="68.4" r="1.38"/><circle cx="606.3" cy="69.1" r="1.38"/><circle cx="245.6" cy="67.4" r="1.38"/><circle cx="472.3" cy="79.2" r="1.38"/><circle cx="301.3" cy="88.2" r="1.38"/><circle cx="615.9" cy="98.8" r="1.38"/><circle cx="623.4" cy="113.8" r="1.38"/><circle cx="74.5" cy="87.5" r="1.38"/><circle cx="651.2" cy="52.8" r="1.38"/><circle cx="418.3" cy="71.6" r="1.38"/><circle cx="100.7" cy="105.3" r="1.38"/><circle cx="353.7" cy="48.9" r="1.38"/><circle cx="86.1" cy="115.9" r="1.38"/><circle cx="384.7" cy="38.8" r="1.38"/><circle cx="167.4" cy="63.0" r="1.38"/><circle cx="276.5" cy="71.3" r="1.38"/><circle cx="238.7" cy="83.7" r="1.38"/><circle cx="416.6" cy="48.0" r="1.38"/><circle cx="548.3" cy="118.9" r="1.38"/><circle cx="616.5" cy="118.1" r="1.38"/><circle cx="253.2" cy="74.4" r="1.38"/><circle cx="397.2" cy="93.8" r="1.38"/><circle cx="60.0" cy="84.7" r="1.38"/><circle cx="279.1" cy="73.0" r="1.38"/><circle cx="631.0" cy="115.7" r="1.38"/><circle cx="127.6" cy="34.3" r="1.38"/><circle cx="576.7" cy="60.8" r="1.38"/><circle cx="446.7" cy="110.9" r="1.38"/><circle cx="232.2" cy="55.5" r="1.38"/><circle cx="521.8" cy="73.3" r="1.38"/><circle cx="229.5" cy="60.0" r="1.38"/><circle cx="591.6" cy="55.6" r="1.38"/><circle cx="106.0" cy="33.6" r="1.38"/><circle cx="127.7" cy="109.2" r="1.38"/><circle cx="505.0" cy="33.2" r="1.38"/><circle cx="325.1" cy="78.2" r="1.38"/><circle cx="144.7" cy="102.1" r="1.38"/><circle cx="363.5" cy="87.1" r="1.38"/><circle cx="234.1" cy="87.9" r="1.38"/><circle cx="385.0" cy="41.9" r="1.38"/><circle cx="501.2" cy="74.1" r="1.38"/><circle cx="568.9" cy="113.7" r="1.38"/><circle cx="91.8" cy="57.5" r="1.38"/><circle cx="410.7" cy="76.4" r="1.38"/><circle cx="644.7" cy="48.9" r="1.38"/><circle cx="331.5" cy="115.5" r="1.38"/><circle cx="516.7" cy="44.5" r="1.38"/><circle cx="114.7" cy="42.1" r="1.38"/><circle cx="578.9" cy="118.8" r="1.38"/><circle cx="404.6" cy="78.2" r="1.38"/><circle cx="587.7" cy="109.0" r="1.38"/><circle cx="527.2" cy="73.6" r="1.38"/><circle cx="576.3" cy="111.8" r="1.38"/><circle cx="90.8" cy="42.6" r="1.38"/><circle cx="484.4" cy="103.6" r="1.38"/><circle cx="174.3" cy="61.6" r="1.38"/><circle cx="215.5" cy="62.9" r="1.38"/><circle cx="250.7" cy="91.7" r="1.38"/><circle cx="410.1" cy="100.9" r="1.38"/><circle cx="432.0" cy="40.2" r="1.38"/><circle cx="613.5" cy="116.1" r="1.38"/><circle cx="64.1" cy="97.5" r="1.38"/><circle cx="172.2" cy="91.2" r="1.38"/><circle cx="273.0" cy="68.9" r="1.38"/><circle cx="545.7" cy="87.5" r="1.38"/><circle cx="385.3" cy="109.8" r="1.38"/><circle cx="362.7" cy="70.1" r="1.38"/><circle cx="511.1" cy="56.7" r="1.38"/><circle cx="448.2" cy="58.4" r="1.38"/><circle cx="229.8" cy="77.1" r="1.38"/><circle cx="108.6" cy="92.9" r="1.38"/><circle cx="333.0" cy="118.6" r="1.38"/><circle cx="582.8" cy="73.3" r="1.38"/><circle cx="414.2" cy="65.0" r="1.38"/><circle cx="88.4" cy="81.3" r="1.38"/><circle cx="319.7" cy="36.4" r="1.38"/><circle cx="286.5" cy="102.0" r="1.38"/><circle cx="404.8" cy="48.9" r="1.38"/><circle cx="407.6" cy="57.2" r="1.38"/><circle cx="625.4" cy="41.6" r="1.38"/><circle cx="258.7" cy="39.4" r="1.38"/><circle cx="300.5" cy="99.0" r="1.38"/><circle cx="423.4" cy="39.6" r="1.38"/><circle cx="586.6" cy="84.6" r="1.38"/><circle cx="478.8" cy="60.6" r="1.38"/><circle cx="338.1" cy="36.9" r="1.38"/><circle cx="543.6" cy="67.9" r="1.38"/><circle cx="346.7" cy="69.0" r="1.38"/><circle cx="632.7" cy="113.4" r="1.38"/><circle cx="225.4" cy="67.8" r="1.38"/><circle cx="132.7" cy="98.6" r="1.38"/><circle cx="553.1" cy="85.9" r="1.38"/><circle cx="234.3" cy="86.8" r="1.38"/><circle cx="563.2" cy="35.1" r="1.38"/><circle cx="420.9" cy="64.2" r="1.38"/><circle cx="360.9" cy="56.7" r="1.38"/><circle cx="108.5" cy="104.5" r="1.38"/><circle cx="526.7" cy="93.1" r="1.38"/><circle cx="95.9" cy="43.5" r="1.38"/><circle cx="633.7" cy="109.1" r="1.38"/><circle cx="580.9" cy="36.9" r="1.38"/><circle cx="237.7" cy="82.5" r="1.38"/><circle cx="133.0" cy="85.7" r="1.38"/><circle cx="586.1" cy="74.9" r="1.38"/><circle cx="343.5" cy="81.1" r="1.38"/><circle cx="131.2" cy="78.7" r="1.38"/><circle cx="354.6" cy="82.8" r="1.38"/><circle cx="204.1" cy="58.7" r="1.38"/><circle cx="300.4" cy="95.6" r="1.38"/><circle cx="439.4" cy="105.1" r="1.38"/><circle cx="603.9" cy="81.8" r="1.38"/><circle cx="535.5" cy="111.8" r="1.38"/><circle cx="152.8" cy="80.7" r="1.38"/><circle cx="341.9" cy="76.7" r="1.38"/><circle cx="350.7" cy="51.5" r="1.38"/><circle cx="648.2" cy="110.0" r="1.38"/><circle cx="108.5" cy="85.1" r="1.38"/><circle cx="361.9" cy="51.9" r="1.38"/><circle cx="603.3" cy="90.2" r="1.38"/><circle cx="295.0" cy="47.0" r="1.38"/><circle cx="213.0" cy="57.2" r="1.38"/><circle cx="388.9" cy="115.9" r="1.38"/><circle cx="247.9" cy="86.1" r="1.38"/><circle cx="610.9" cy="53.1" r="1.38"/><circle cx="107.2" cy="73.9" r="1.38"/><circle cx="180.1" cy="61.2" r="1.38"/><circle cx="106.7" cy="33.7" r="1.38"/><circle cx="482.2" cy="61.0" r="1.38"/><circle cx="231.8" cy="72.2" r="1.38"/><circle cx="594.8" cy="46.2" r="1.38"/><circle cx="590.9" cy="82.2" r="1.38"/><circle cx="616.5" cy="118.6" r="1.38"/><circle cx="209.7" cy="95.9" r="1.38"/><circle cx="56.9" cy="68.0" r="1.38"/><circle cx="288.3" cy="37.3" r="1.38"/><circle cx="632.1" cy="66.9" r="1.38"/><circle cx="513.2" cy="94.9" r="1.38"/><circle cx="92.2" cy="33.4" r="1.38"/><circle cx="476.6" cy="84.8" r="1.38"/><circle cx="604.9" cy="99.8" r="1.38"/><circle cx="635.2" cy="71.6" r="1.38"/><circle cx="484.7" cy="89.7" r="1.38"/><circle cx="572.6" cy="109.8" r="1.38"/><circle cx="559.8" cy="57.7" r="1.38"/><circle cx="270.8" cy="59.6" r="1.38"/><circle cx="115.7" cy="35.2" r="1.38"/><circle cx="491.5" cy="107.6" r="1.38"/><circle cx="138.4" cy="40.6" r="1.38"/><circle cx="286.3" cy="50.4" r="1.38"/><circle cx="652.0" cy="97.6" r="1.38"/><circle cx="391.3" cy="78.0" r="1.38"/><circle cx="368.5" cy="64.9" r="1.38"/><circle cx="623.3" cy="92.2" r="1.38"/><circle cx="226.4" cy="110.2" r="1.38"/><circle cx="654.2" cy="47.0" r="1.38"/><circle cx="601.9" cy="105.2" r="1.38"/><circle cx="274.1" cy="77.0" r="1.38"/><circle cx="252.2" cy="81.6" r="1.38"/><circle cx="132.2" cy="41.2" r="1.38"/><circle cx="604.1" cy="71.1" r="1.38"/><circle cx="167.6" cy="82.7" r="1.38"/><circle cx="61.9" cy="34.8" r="1.38"/><circle cx="588.8" cy="88.9" r="1.38"/><circle cx="414.2" cy="56.5" r="1.38"/><circle cx="458.3" cy="99.2" r="1.38"/><circle cx="494.9" cy="53.9" r="1.38"/><circle cx="82.0" cy="54.4" r="1.38"/><circle cx="111.4" cy="47.7" r="1.38"/><circle cx="355.4" cy="77.5" r="1.38"/><circle cx="86.6" cy="100.2" r="1.38"/><circle cx="358.1" cy="64.7" r="1.38"/><circle cx="496.8" cy="40.6" r="1.38"/><circle cx="449.6" cy="92.6" r="1.38"/><circle cx="425.3" cy="117.8" r="1.38"/><circle cx="84.3" cy="103.5" r="1.38"/><circle cx="198.0" cy="38.6" r="1.38"/><circle cx="593.2" cy="119.0" r="1.38"/><circle cx="130.2" cy="114.8" r="1.38"/><circle cx="375.4" cy="111.0" r="1.38"/><circle cx="86.4" cy="42.2" r="1.38"/><circle cx="618.1" cy="86.3" r="1.38"/><circle cx="159.1" cy="59.6" r="1.38"/><circle cx="301.7" cy="58.3" r="1.38"/><circle cx="383.5" cy="81.9" r="1.38"/><circle cx="486.3" cy="56.0" r="1.38"/><circle cx="617.1" cy="79.5" r="1.38"/><circle cx="496.8" cy="72.5" r="1.38"/><circle cx="264.2" cy="92.9" r="1.38"/><circle cx="101.6" cy="119.3" r="1.38"/><circle cx="479.5" cy="68.1" r="1.38"/><circle cx="638.1" cy="96.5" r="1.38"/><circle cx="66.7" cy="95.7" r="1.38"/><circle cx="519.8" cy="43.3" r="1.38"/><circle cx="161.8" cy="88.1" r="1.38"/><circle cx="331.6" cy="110.6" r="1.38"/><circle cx="369.0" cy="64.9" r="1.38"/><circle cx="423.9" cy="72.8" r="1.38"/><circle cx="648.2" cy="114.5" r="1.38"/><circle cx="467.6" cy="89.3" r="1.38"/><circle cx="291.1" cy="66.5" r="1.38"/><circle cx="484.1" cy="95.3" r="1.38"/><circle cx="335.6" cy="34.0" r="1.38"/><circle cx="303.5" cy="50.3" r="1.38"/><circle cx="275.2" cy="75.8" r="1.38"/><circle cx="351.6" cy="40.2" r="1.38"/><circle cx="224.6" cy="116.5" r="1.38"/><circle cx="201.3" cy="100.0" r="1.38"/><circle cx="145.3" cy="40.2" r="1.38"/><circle cx="319.8" cy="75.4" r="1.38"/><circle cx="231.9" cy="104.7" r="1.38"/><circle cx="557.0" cy="70.1" r="1.38"/><circle cx="563.5" cy="56.2" r="1.38"/><circle cx="262.1" cy="67.2" r="1.38"/><circle cx="426.7" cy="115.5" r="1.38"/><circle cx="596.1" cy="116.3" r="1.38"/><circle cx="271.3" cy="84.2" r="1.38"/><circle cx="388.2" cy="118.1" r="1.38"/><circle cx="321.7" cy="112.2" r="1.38"/><circle cx="445.4" cy="63.8" r="1.38"/><circle cx="630.4" cy="81.5" r="1.38"/><circle cx="139.4" cy="112.1" r="1.38"/><circle cx="633.8" cy="43.5" r="1.38"/><circle cx="454.6" cy="87.6" r="1.38"/><circle cx="532.4" cy="43.0" r="1.38"/><circle cx="436.3" cy="66.7" r="1.38"/><circle cx="576.9" cy="65.7" r="1.38"/><circle cx="251.6" cy="82.8" r="1.38"/><circle cx="479.9" cy="61.3" r="1.38"/><circle cx="214.4" cy="98.4" r="1.38"/><circle cx="360.7" cy="97.2" r="1.38"/><circle cx="464.0" cy="43.7" r="1.38"/><circle cx="176.8" cy="101.8" r="1.38"/><circle cx="93.1" cy="86.0" r="1.38"/><circle cx="529.5" cy="55.0" r="1.38"/><circle cx="540.2" cy="90.9" r="1.38"/><circle cx="454.6" cy="87.8" r="1.38"/><circle cx="248.7" cy="40.7" r="1.38"/><circle cx="450.1" cy="101.6" r="1.38"/><circle cx="106.7" cy="98.6" r="1.38"/><circle cx="452.7" cy="42.6" r="1.38"/><circle cx="401.1" cy="95.6" r="1.38"/><circle cx="425.6" cy="90.8" r="1.38"/><circle cx="323.8" cy="43.1" r="1.38"/><circle cx="191.1" cy="91.7" r="1.38"/><circle cx="490.6" cy="33.1" r="1.38"/><circle cx="334.0" cy="48.3" r="1.38"/><circle cx="502.2" cy="46.1" r="1.38"/><circle cx="274.3" cy="99.9" r="1.38"/><circle cx="109.0" cy="100.7" r="1.38"/><circle cx="380.9" cy="54.3" r="1.38"/><circle cx="428.9" cy="47.9" r="1.38"/><circle cx="607.7" cy="100.0" r="1.38"/><circle cx="587.4" cy="101.6" r="1.38"/><circle cx="90.7" cy="98.4" r="1.38"/><circle cx="518.1" cy="107.6" r="1.38"/><circle cx="212.8" cy="83.0" r="1.38"/><circle cx="473.4" cy="75.9" r="1.38"/><circle cx="283.4" cy="65.1" r="1.38"/><circle cx="249.1" cy="114.7" r="1.38"/><circle cx="348.5" cy="102.8" r="1.38"/><circle cx="373.8" cy="109.4" r="1.38"/><circle cx="471.8" cy="96.1" r="1.38"/><circle cx="438.0" cy="103.4" r="1.38"/><circle cx="462.1" cy="38.4" r="1.38"/><circle cx="286.2" cy="87.1" r="1.38"/><circle cx="461.5" cy="107.5" r="1.38"/><circle cx="263.0" cy="61.7" r="1.38"/><circle cx="419.8" cy="35.2" r="1.38"/><circle cx="331.3" cy="50.7" r="1.38"/><circle cx="393.1" cy="63.3" r="1.38"/><circle cx="67.0" cy="86.7" r="1.38"/><circle cx="354.8" cy="84.5" r="1.38"/><circle cx="188.0" cy="93.3" r="1.38"/><circle cx="287.2" cy="49.6" r="1.38"/><circle cx="100.6" cy="49.9" r="1.38"/><circle cx="449.3" cy="77.1" r="1.38"/><circle cx="590.8" cy="44.8" r="1.38"/><circle cx="268.5" cy="63.0" r="1.38"/><circle cx="119.3" cy="60.1" r="1.38"/><circle cx="427.4" cy="96.2" r="1.38"/><circle cx="132.5" cy="98.6" r="1.38"/><circle cx="589.7" cy="99.8" r="1.38"/><circle cx="129.7" cy="40.4" r="1.38"/><circle cx="272.9" cy="50.1" r="1.38"/><circle cx="352.3" cy="41.6" r="1.38"/><circle cx="127.0" cy="48.2" r="1.38"/><circle cx="247.1" cy="49.7" r="1.38"/><circle cx="221.1" cy="81.7" r="1.38"/><circle cx="483.1" cy="53.1" r="1.38"/><circle cx="646.3" cy="105.1" r="1.38"/><circle cx="273.5" cy="62.7" r="1.38"/><circle cx="529.4" cy="115.8" r="1.38"/><circle cx="140.4" cy="35.8" r="1.38"/><circle cx="403.3" cy="43.3" r="1.38"/><circle cx="315.3" cy="105.2" r="1.38"/><circle cx="228.8" cy="52.9" r="1.38"/><circle cx="547.9" cy="48.1" r="1.38"/><circle cx="502.9" cy="115.9" r="1.38"/><circle cx="136.6" cy="70.4" r="1.38"/><circle cx="231.4" cy="83.1" r="1.38"/><circle cx="546.6" cy="65.9" r="1.38"/><circle cx="650.0" cy="42.7" r="1.38"/><circle cx="422.2" cy="56.8" r="1.38"/><circle cx="577.8" cy="101.2" r="1.38"/><circle cx="645.1" cy="71.4" r="1.38"/><circle cx="499.3" cy="70.8" r="1.38"/><circle cx="442.0" cy="118.5" r="1.38"/><circle cx="188.8" cy="108.1" r="1.38"/><circle cx="278.0" cy="88.3" r="1.38"/><circle cx="429.4" cy="104.1" r="1.38"/><circle cx="610.5" cy="98.9" r="1.38"/><circle cx="237.0" cy="60.9" r="1.38"/><circle cx="292.8" cy="36.2" r="1.38"/><circle cx="69.8" cy="79.8" r="1.38"/><circle cx="473.1" cy="63.5" r="1.38"/><circle cx="321.8" cy="53.5" r="1.38"/><circle cx="533.5" cy="61.2" r="1.38"/><circle cx="196.2" cy="62.6" r="1.38"/><circle cx="451.0" cy="119.4" r="1.38"/><circle cx="459.0" cy="44.1" r="1.38"/><circle cx="334.2" cy="105.5" r="1.38"/><circle cx="169.3" cy="103.9" r="1.38"/><circle cx="297.4" cy="75.3" r="1.38"/><circle cx="502.0" cy="68.6" r="1.38"/><circle cx="169.6" cy="54.0" r="1.38"/><circle cx="110.3" cy="94.1" r="1.38"/><circle cx="333.2" cy="37.6" r="1.38"/><circle cx="196.7" cy="65.1" r="1.38"/><circle cx="535.2" cy="46.3" r="1.38"/><circle cx="545.2" cy="78.2" r="1.38"/><circle cx="621.8" cy="113.3" r="1.38"/><circle cx="558.7" cy="118.5" r="1.38"/><circle cx="443.7" cy="64.0" r="1.38"/><circle cx="168.4" cy="82.6" r="1.38"/><circle cx="548.7" cy="81.3" r="1.38"/><circle cx="491.9" cy="91.2" r="1.38"/><circle cx="503.1" cy="104.0" r="1.38"/><circle cx="473.6" cy="78.4" r="1.38"/><circle cx="552.9" cy="97.4" r="1.38"/><circle cx="234.6" cy="42.1" r="1.38"/><circle cx="458.6" cy="104.0" r="1.38"/><circle cx="365.8" cy="35.6" r="1.38"/><circle cx="258.5" cy="44.9" r="1.38"/><circle cx="251.9" cy="86.3" r="1.38"/><circle cx="149.5" cy="52.5" r="1.38"/><circle cx="350.4" cy="69.2" r="1.38"/><circle cx="277.0" cy="79.1" r="1.38"/><circle cx="308.6" cy="49.1" r="1.38"/><circle cx="565.8" cy="47.5" r="1.38"/><circle cx="464.0" cy="102.0" r="1.38"/><circle cx="463.3" cy="41.0" r="1.38"/><circle cx="645.0" cy="116.7" r="1.38"/><circle cx="186.8" cy="119.0" r="1.38"/><circle cx="360.2" cy="77.6" r="1.38"/><circle cx="111.8" cy="93.4" r="1.38"/><circle cx="291.4" cy="82.9" r="1.38"/><circle cx="624.8" cy="78.0" r="1.38"/><circle cx="107.9" cy="78.9" r="1.38"/><circle cx="509.6" cy="40.8" r="1.38"/><circle cx="574.0" cy="39.9" r="1.38"/><circle cx="360.8" cy="89.5" r="1.38"/><circle cx="533.5" cy="94.6" r="1.38"/><circle cx="320.2" cy="62.8" r="1.38"/><circle cx="267.8" cy="102.3" r="1.38"/><circle cx="358.9" cy="84.8" r="1.38"/><circle cx="173.0" cy="57.3" r="1.38"/><circle cx="240.4" cy="119.0" r="1.38"/><circle cx="239.1" cy="52.6" r="1.38"/><circle cx="647.6" cy="55.9" r="1.38"/><circle cx="256.9" cy="85.9" r="1.38"/><circle cx="193.4" cy="98.0" r="1.38"/><circle cx="618.5" cy="72.7" r="1.38"/><circle cx="139.4" cy="93.9" r="1.38"/><circle cx="634.0" cy="48.3" r="1.38"/><circle cx="566.8" cy="68.3" r="1.38"/><circle cx="443.4" cy="92.9" r="1.38"/><circle cx="312.3" cy="49.5" r="1.38"/><circle cx="174.4" cy="66.8" r="1.38"/><circle cx="120.0" cy="108.1" r="1.38"/><circle cx="118.5" cy="83.6" r="1.38"/><circle cx="265.3" cy="77.1" r="1.38"/><circle cx="300.0" cy="37.6" r="1.38"/><circle cx="608.9" cy="91.7" r="1.38"/><circle cx="377.2" cy="80.6" r="1.38"/><circle cx="648.9" cy="34.8" r="1.38"/><circle cx="487.6" cy="82.6" r="1.38"/><circle cx="144.0" cy="47.8" r="1.38"/><circle cx="387.5" cy="111.1" r="1.38"/><circle cx="151.8" cy="85.4" r="1.38"/><circle cx="79.9" cy="103.6" r="1.38"/><circle cx="620.9" cy="42.9" r="1.38"/><circle cx="258.5" cy="71.6" r="1.38"/><circle cx="169.9" cy="100.6" r="1.38"/><circle cx="117.4" cy="111.5" r="1.38"/><circle cx="446.5" cy="83.0" r="1.38"/><circle cx="332.3" cy="111.1" r="1.38"/><circle cx="63.5" cy="77.4" r="1.38"/><circle cx="484.2" cy="56.3" r="1.38"/><circle cx="210.0" cy="92.6" r="1.38"/><circle cx="523.3" cy="105.0" r="1.38"/><circle cx="348.7" cy="88.2" r="1.38"/><circle cx="376.8" cy="105.1" r="1.38"/><circle cx="329.9" cy="46.4" r="1.38"/><circle cx="460.7" cy="111.2" r="1.38"/><circle cx="648.5" cy="55.3" r="1.38"/><circle cx="533.6" cy="90.6" r="1.38"/><circle cx="97.8" cy="56.4" r="1.38"/><circle cx="352.4" cy="52.7" r="1.38"/><circle cx="196.6" cy="107.8" r="1.38"/><circle cx="117.7" cy="53.9" r="1.38"/><circle cx="173.2" cy="37.5" r="1.38"/><circle cx="204.9" cy="70.4" r="1.38"/><circle cx="630.4" cy="63.6" r="1.38"/><circle cx="501.9" cy="91.5" r="1.38"/><circle cx="566.6" cy="104.4" r="1.38"/><circle cx="474.4" cy="55.0" r="1.38"/><circle cx="245.3" cy="48.4" r="1.38"/><circle cx="290.4" cy="101.6" r="1.38"/><circle cx="320.0" cy="109.7" r="1.38"/><circle cx="232.0" cy="89.0" r="1.38"/><circle cx="308.5" cy="65.2" r="1.38"/><circle cx="517.7" cy="87.9" r="1.38"/><circle cx="101.8" cy="36.0" r="1.38"/><circle cx="221.9" cy="50.9" r="1.38"/><circle cx="343.0" cy="40.1" r="1.38"/><circle cx="460.9" cy="67.5" r="1.38"/><circle cx="442.8" cy="54.0" r="1.38"/><circle cx="490.0" cy="37.1" r="1.38"/><circle cx="119.4" cy="116.4" r="1.38"/><circle cx="164.6" cy="69.7" r="1.38"/><circle cx="241.3" cy="103.3" r="1.38"/><circle cx="224.9" cy="50.6" r="1.38"/><circle cx="508.3" cy="99.3" r="1.38"/><circle cx="650.5" cy="55.2" r="1.38"/><circle cx="465.0" cy="90.7" r="1.38"/><circle cx="76.3" cy="63.0" r="1.38"/><circle cx="234.5" cy="60.7" r="1.38"/><circle cx="536.7" cy="40.7" r="1.38"/><circle cx="609.3" cy="43.9" r="1.38"/><circle cx="412.3" cy="81.6" r="1.38"/><circle cx="265.1" cy="59.8" r="1.38"/><circle cx="268.9" cy="103.7" r="1.38"/><circle cx="435.3" cy="111.0" r="1.38"/><circle cx="573.3" cy="57.6" r="1.38"/><circle cx="260.3" cy="40.9" r="1.38"/><circle cx="170.5" cy="54.8" r="1.38"/><circle cx="58.2" cy="74.7" r="1.38"/><circle cx="138.7" cy="64.9" r="1.38"/><circle cx="565.5" cy="56.2" r="1.38"/><circle cx="430.0" cy="70.2" r="1.38"/><circle cx="648.9" cy="88.0" r="1.38"/><circle cx="98.0" cy="45.8" r="1.38"/><circle cx="275.4" cy="87.5" r="1.38"/><circle cx="532.3" cy="41.2" r="1.38"/><circle cx="451.9" cy="50.2" r="1.38"/><circle cx="96.4" cy="50.8" r="1.38"/><circle cx="296.6" cy="47.2" r="1.38"/><circle cx="437.8" cy="34.0" r="1.38"/><circle cx="467.8" cy="33.7" r="1.38"/><circle cx="326.6" cy="76.0" r="1.38"/><circle cx="169.0" cy="86.8" r="1.38"/><circle cx="634.1" cy="56.0" r="1.38"/><circle cx="335.5" cy="35.6" r="1.38"/><circle cx="485.5" cy="64.9" r="1.38"/><circle cx="376.3" cy="117.3" r="1.38"/><circle cx="104.8" cy="116.2" r="1.38"/><circle cx="198.0" cy="79.3" r="1.38"/><circle cx="94.2" cy="51.2" r="1.38"/><circle cx="170.6" cy="42.6" r="1.38"/><circle cx="176.2" cy="87.0" r="1.38"/><circle cx="304.6" cy="74.7" r="1.38"/><circle cx="248.9" cy="75.0" r="1.38"/><circle cx="273.3" cy="111.3" r="1.38"/><circle cx="545.0" cy="119.4" r="1.38"/><circle cx="69.3" cy="74.1" r="1.38"/><circle cx="118.3" cy="75.8" r="1.38"/><circle cx="539.6" cy="44.7" r="1.38"/><circle cx="375.8" cy="103.8" r="1.38"/><circle cx="319.0" cy="45.6" r="1.38"/><circle cx="216.4" cy="96.0" r="1.38"/><circle cx="380.8" cy="72.8" r="1.38"/><circle cx="189.0" cy="58.2" r="1.38"/><circle cx="569.8" cy="106.9" r="1.38"/><circle cx="549.3" cy="37.5" r="1.38"/><circle cx="249.0" cy="36.5" r="1.38"/><circle cx="71.2" cy="35.4" r="1.38"/><circle cx="587.3" cy="119.3" r="1.38"/><circle cx="235.1" cy="63.7" r="1.38"/><circle cx="449.3" cy="61.3" r="1.38"/><circle cx="569.7" cy="43.2" r="1.38"/><circle cx="533.9" cy="102.0" r="1.38"/><circle cx="572.3" cy="108.8" r="1.38"/><circle cx="349.0" cy="49.3" r="1.38"/><circle cx="560.2" cy="96.8" r="1.38"/><circle cx="332.3" cy="113.8" r="1.38"/><circle cx="214.3" cy="111.5" r="1.38"/><circle cx="344.1" cy="63.6" r="1.38"/><circle cx="257.1" cy="73.1" r="1.38"/><circle cx="515.3" cy="54.7" r="1.38"/><circle cx="553.9" cy="49.5" r="1.38"/><circle cx="140.9" cy="119.3" r="1.38"/><circle cx="154.8" cy="38.6" r="1.38"/><circle cx="285.9" cy="43.3" r="1.38"/><circle cx="333.5" cy="38.6" r="1.38"/><circle cx="628.4" cy="52.9" r="1.38"/><circle cx="619.6" cy="86.2" r="1.38"/><circle cx="634.8" cy="98.0" r="1.38"/><circle cx="492.9" cy="40.4" r="1.38"/><circle cx="461.5" cy="83.1" r="1.38"/><circle cx="218.2" cy="77.2" r="1.38"/><circle cx="279.3" cy="59.0" r="1.38"/><circle cx="58.1" cy="59.8" r="1.38"/><circle cx="554.6" cy="59.4" r="1.38"/><circle cx="221.6" cy="65.5" r="1.38"/><circle cx="103.9" cy="75.4" r="1.38"/><circle cx="245.2" cy="53.0" r="1.38"/><circle cx="249.8" cy="85.2" r="1.38"/><circle cx="489.4" cy="96.8" r="1.38"/><circle cx="59.9" cy="40.7" r="1.38"/><circle cx="194.0" cy="46.2" r="1.38"/><circle cx="592.6" cy="57.3" r="1.38"/><circle cx="567.7" cy="104.9" r="1.38"/><circle cx="432.7" cy="115.5" r="1.38"/><circle cx="390.8" cy="39.6" r="1.38"/><circle cx="189.6" cy="37.8" r="1.38"/><circle cx="579.8" cy="95.9" r="1.38"/><circle cx="511.4" cy="64.9" r="1.38"/><circle cx="363.2" cy="117.9" r="1.38"/><circle cx="152.8" cy="85.4" r="1.38"/><circle cx="185.6" cy="58.5" r="1.38"/><circle cx="283.3" cy="88.2" r="1.38"/><circle cx="254.5" cy="49.5" r="1.38"/><circle cx="93.0" cy="40.4" r="1.38"/><circle cx="299.5" cy="107.6" r="1.38"/><circle cx="324.8" cy="59.9" r="1.38"/><circle cx="228.2" cy="86.9" r="1.38"/><circle cx="286.3" cy="104.4" r="1.38"/><circle cx="255.3" cy="89.2" r="1.38"/><circle cx="281.8" cy="77.7" r="1.38"/><circle cx="426.7" cy="41.9" r="1.38"/><circle cx="353.9" cy="53.2" r="1.38"/><circle cx="174.7" cy="119.1" r="1.38"/><circle cx="532.1" cy="114.6" r="1.38"/><circle cx="363.4" cy="33.4" r="1.38"/><circle cx="330.6" cy="71.3" r="1.38"/><circle cx="483.1" cy="66.6" r="1.38"/><circle cx="506.3" cy="88.9" r="1.38"/><circle cx="564.2" cy="47.4" r="1.38"/><circle cx="541.6" cy="71.2" r="1.38"/><circle cx="456.6" cy="68.1" r="1.38"/><circle cx="487.7" cy="97.9" r="1.38"/><circle cx="150.5" cy="52.2" r="1.38"/><circle cx="474.7" cy="100.9" r="1.38"/><circle cx="208.7" cy="107.6" r="1.38"/><circle cx="210.7" cy="67.7" r="1.38"/><circle cx="128.3" cy="47.4" r="1.38"/><circle cx="293.9" cy="94.1" r="1.38"/><circle cx="68.4" cy="93.3" r="1.38"/><circle cx="449.4" cy="106.6" r="1.38"/><circle cx="503.9" cy="67.2" r="1.38"/><circle cx="520.3" cy="52.7" r="1.38"/><circle cx="133.6" cy="108.6" r="1.38"/><circle cx="439.9" cy="73.1" r="1.38"/><circle cx="557.8" cy="72.7" r="1.38"/><circle cx="78.0" cy="110.2" r="1.38"/><circle cx="172.1" cy="73.5" r="1.38"/><circle cx="216.6" cy="95.9" r="1.38"/><circle cx="332.8" cy="102.2" r="1.38"/><circle cx="159.5" cy="34.1" r="1.38"/><circle cx="378.7" cy="111.7" r="1.38"/><circle cx="262.2" cy="89.7" r="1.38"/><circle cx="448.3" cy="65.9" r="1.38"/><circle cx="374.2" cy="84.4" r="1.38"/><circle cx="466.9" cy="117.9" r="1.38"/><circle cx="203.8" cy="44.4" r="1.38"/><circle cx="479.3" cy="98.8" r="1.38"/><circle cx="495.8" cy="83.8" r="1.38"/><circle cx="488.2" cy="40.8" r="1.38"/><circle cx="97.4" cy="35.5" r="1.38"/><circle cx="622.3" cy="40.2" r="1.38"/><circle cx="401.5" cy="83.9" r="1.38"/><circle cx="219.3" cy="55.0" r="1.38"/><circle cx="316.1" cy="46.0" r="1.38"/><circle cx="366.0" cy="102.4" r="1.38"/><circle cx="366.1" cy="35.5" r="1.38"/><circle cx="204.8" cy="110.7" r="1.38"/><circle cx="214.9" cy="62.5" r="1.38"/><circle cx="273.9" cy="98.8" r="1.38"/><circle cx="523.5" cy="100.9" r="1.38"/><circle cx="318.1" cy="107.6" r="1.38"/><circle cx="79.6" cy="37.9" r="1.38"/><circle cx="326.9" cy="108.4" r="1.38"/><circle cx="176.9" cy="40.4" r="1.38"/><circle cx="63.9" cy="105.1" r="1.38"/><circle cx="640.8" cy="91.0" r="1.38"/><circle cx="232.1" cy="101.2" r="1.38"/><circle cx="377.9" cy="33.9" r="1.38"/><circle cx="270.7" cy="111.4" r="1.38"/><circle cx="88.4" cy="44.9" r="1.38"/><circle cx="595.2" cy="93.5" r="1.38"/><circle cx="616.0" cy="37.0" r="1.38"/><circle cx="168.0" cy="54.5" r="1.38"/><circle cx="306.5" cy="96.6" r="1.38"/><circle cx="279.9" cy="75.3" r="1.38"/><circle cx="156.5" cy="105.5" r="1.38"/><circle cx="452.2" cy="84.2" r="1.38"/><circle cx="524.1" cy="117.2" r="1.38"/><circle cx="510.8" cy="60.4" r="1.38"/><circle cx="460.3" cy="68.1" r="1.38"/><circle cx="67.0" cy="95.9" r="1.38"/><circle cx="193.8" cy="118.3" r="1.38"/><circle cx="364.2" cy="38.1" r="1.38"/><circle cx="476.8" cy="108.7" r="1.38"/><circle cx="287.6" cy="91.1" r="1.38"/><circle cx="325.2" cy="117.3" r="1.38"/><circle cx="559.3" cy="86.3" r="1.38"/><circle cx="70.6" cy="84.7" r="1.38"/><circle cx="217.1" cy="73.3" r="1.38"/><circle cx="229.9" cy="91.4" r="1.38"/><circle cx="650.2" cy="97.9" r="1.38"/><circle cx="192.6" cy="51.4" r="1.38"/><circle cx="84.7" cy="95.3" r="1.38"/><circle cx="305.5" cy="90.7" r="1.38"/><circle cx="444.9" cy="76.9" r="1.38"/><circle cx="148.2" cy="95.8" r="1.38"/><circle cx="558.6" cy="56.5" r="1.38"/><circle cx="174.0" cy="112.2" r="1.38"/><circle cx="477.7" cy="91.5" r="1.38"/><circle cx="153.3" cy="83.0" r="1.38"/><circle cx="583.8" cy="97.1" r="1.38"/><circle cx="176.9" cy="46.7" r="1.38"/><circle cx="493.9" cy="88.8" r="1.38"/><circle cx="558.0" cy="83.0" r="1.38"/><circle cx="209.0" cy="78.9" r="1.38"/><circle cx="112.0" cy="47.6" r="1.38"/><circle cx="407.0" cy="100.5" r="1.38"/><circle cx="354.9" cy="47.7" r="1.38"/><circle cx="343.1" cy="37.3" r="1.38"/><circle cx="523.7" cy="96.4" r="1.38"/><circle cx="333.4" cy="104.8" r="1.38"/><circle cx="353.7" cy="51.1" r="1.38"/><circle cx="347.9" cy="92.4" r="1.38"/><circle cx="328.3" cy="99.8" r="1.38"/><circle cx="299.1" cy="112.7" r="1.38"/><circle cx="152.7" cy="66.3" r="1.38"/><circle cx="233.1" cy="38.3" r="1.38"/><circle cx="214.9" cy="43.1" r="1.38"/><circle cx="204.9" cy="68.5" r="1.38"/><circle cx="524.6" cy="81.5" r="1.38"/><circle cx="124.7" cy="34.9" r="1.38"/><circle cx="179.3" cy="62.3" r="1.38"/><circle cx="371.3" cy="36.6" r="1.38"/><circle cx="243.4" cy="59.9" r="1.38"/><circle cx="200.1" cy="59.1" r="1.38"/><circle cx="279.8" cy="58.7" r="1.38"/><circle cx="356.7" cy="108.6" r="1.38"/><circle cx="459.8" cy="97.6" r="1.38"/><circle cx="637.9" cy="113.8" r="1.38"/><circle cx="566.4" cy="38.7" r="1.38"/><circle cx="313.6" cy="33.3" r="1.38"/><circle cx="326.6" cy="67.1" r="1.38"/><circle cx="305.1" cy="106.0" r="1.38"/><circle cx="199.4" cy="108.7" r="1.38"/><circle cx="625.7" cy="80.8" r="1.38"/><circle cx="97.6" cy="85.6" r="1.38"/><circle cx="179.1" cy="102.5" r="1.38"/><circle cx="452.4" cy="111.8" r="1.38"/><circle cx="409.1" cy="63.4" r="1.38"/><circle cx="223.1" cy="50.8" r="1.38"/><circle cx="616.8" cy="114.0" r="1.38"/><circle cx="301.4" cy="92.7" r="1.38"/><circle cx="413.1" cy="93.5" r="1.38"/><circle cx="110.9" cy="72.5" r="1.38"/><circle cx="589.3" cy="67.1" r="1.38"/><circle cx="118.1" cy="83.9" r="1.38"/><circle cx="292.1" cy="44.5" r="1.38"/><circle cx="586.1" cy="85.6" r="1.38"/><circle cx="621.6" cy="93.2" r="1.38"/><circle cx="597.1" cy="53.1" r="1.38"/><circle cx="551.4" cy="46.5" r="1.38"/><circle cx="196.0" cy="43.5" r="1.38"/><circle cx="75.5" cy="104.8" r="1.38"/><circle cx="326.7" cy="102.4" r="1.38"/><circle cx="94.3" cy="79.4" r="1.38"/><circle cx="630.9" cy="35.6" r="1.38"/><circle cx="61.4" cy="65.7" r="1.38"/><circle cx="251.1" cy="65.5" r="1.38"/><circle cx="178.1" cy="91.2" r="1.38"/><circle cx="64.7" cy="33.7" r="1.38"/><circle cx="354.9" cy="103.7" r="1.38"/><circle cx="102.0" cy="71.0" r="1.38"/><circle cx="594.7" cy="61.0" r="1.38"/><circle cx="467.7" cy="49.3" r="1.38"/><circle cx="277.8" cy="49.0" r="1.38"/><circle cx="559.8" cy="86.0" r="1.38"/><circle cx="533.0" cy="96.0" r="1.38"/><circle cx="251.7" cy="34.6" r="1.38"/><circle cx="563.1" cy="71.6" r="1.38"/><circle cx="612.3" cy="95.1" r="1.38"/><circle cx="427.2" cy="107.5" r="1.38"/><circle cx="266.9" cy="49.9" r="1.38"/><circle cx="595.1" cy="46.0" r="1.38"/><circle cx="620.3" cy="70.1" r="1.38"/><circle cx="264.2" cy="86.2" r="1.38"/><circle cx="108.1" cy="62.3" r="1.38"/><circle cx="575.5" cy="34.6" r="1.38"/><circle cx="454.0" cy="69.4" r="1.38"/><circle cx="195.2" cy="51.3" r="1.38"/><circle cx="395.5" cy="43.1" r="1.38"/><circle cx="240.8" cy="53.9" r="1.38"/><circle cx="606.2" cy="77.3" r="1.38"/><circle cx="261.1" cy="104.0" r="1.38"/><circle cx="173.9" cy="59.1" r="1.38"/><circle cx="82.3" cy="47.4" r="1.38"/><circle cx="261.3" cy="36.1" r="1.38"/><circle cx="648.2" cy="106.3" r="1.38"/><circle cx="187.1" cy="109.6" r="1.38"/><circle cx="330.4" cy="64.4" r="1.38"/><circle cx="637.8" cy="47.8" r="1.38"/><circle cx="60.5" cy="112.9" r="1.38"/><circle cx="232.9" cy="66.3" r="1.38"/><circle cx="547.6" cy="96.4" r="1.38"/><circle cx="113.7" cy="32.9" r="1.38"/><circle cx="611.6" cy="88.2" r="1.38"/><circle cx="555.6" cy="112.4" r="1.38"/><circle cx="142.0" cy="51.7" r="1.38"/><circle cx="410.7" cy="93.4" r="1.38"/><circle cx="388.7" cy="83.2" r="1.38"/><circle cx="471.3" cy="108.2" r="1.38"/><circle cx="240.0" cy="90.8" r="1.38"/><circle cx="286.2" cy="107.9" r="1.38"/><circle cx="200.5" cy="97.2" r="1.38"/><circle cx="231.1" cy="69.3" r="1.38"/><circle cx="161.6" cy="93.6" r="1.38"/><circle cx="597.3" cy="61.7" r="1.38"/><circle cx="587.2" cy="41.4" r="1.38"/><circle cx="271.8" cy="69.5" r="1.38"/><circle cx="471.0" cy="117.0" r="1.38"/><circle cx="349.7" cy="36.3" r="1.38"/><circle cx="224.4" cy="102.4" r="1.38"/><circle cx="265.6" cy="89.5" r="1.38"/><circle cx="633.7" cy="73.9" r="1.38"/><circle cx="260.7" cy="65.9" r="1.38"/><circle cx="402.5" cy="89.9" r="1.38"/><circle cx="621.7" cy="81.3" r="1.38"/><circle cx="234.5" cy="65.2" r="1.38"/><circle cx="540.2" cy="79.9" r="1.38"/><circle cx="124.7" cy="94.9" r="1.38"/><circle cx="495.0" cy="83.9" r="1.38"/><circle cx="538.9" cy="86.2" r="1.38"/><circle cx="557.3" cy="94.2" r="1.38"/><circle cx="639.6" cy="67.4" r="1.38"/><circle cx="481.6" cy="75.1" r="1.38"/><circle cx="640.9" cy="83.8" r="1.38"/><circle cx="223.0" cy="58.0" r="1.38"/><circle cx="368.4" cy="49.1" r="1.38"/><circle cx="184.5" cy="63.3" r="1.38"/><circle cx="106.5" cy="89.9" r="1.38"/><circle cx="319.0" cy="38.3" r="1.38"/><circle cx="486.9" cy="110.5" r="1.38"/><circle cx="522.0" cy="49.7" r="1.38"/><circle cx="66.7" cy="83.0" r="1.38"/><circle cx="619.9" cy="85.1" r="1.38"/><circle cx="204.3" cy="46.4" r="1.38"/><circle cx="231.2" cy="62.7" r="1.38"/><circle cx="554.3" cy="35.1" r="1.38"/><circle cx="591.2" cy="43.4" r="1.38"/><circle cx="496.9" cy="109.4" r="1.38"/><circle cx="255.5" cy="75.9" r="1.38"/><circle cx="333.3" cy="53.0" r="1.38"/><circle cx="555.6" cy="112.3" r="1.38"/><circle cx="270.2" cy="72.5" r="1.38"/><circle cx="538.1" cy="33.5" r="1.38"/><circle cx="524.1" cy="98.8" r="1.38"/><circle cx="336.8" cy="109.4" r="1.38"/><circle cx="592.6" cy="94.4" r="1.38"/></g><g fill="#000000"><circle cx="77.5" cy="57.6" r="1.7"/><circle cx="82.5" cy="105.1" r="1.7"/><circle cx="87.4" cy="83.9" r="1.7"/><circle cx="64.0" cy="38.4" r="1.7"/><circle cx="112.3" cy="62.9" r="1.7"/><circle cx="94.4" cy="90.2" r="1.7"/><circle cx="83.1" cy="43.9" r="1.7"/><circle cx="74.7" cy="49.8" r="1.7"/><circle cx="75.7" cy="72.3" r="1.7"/><circle cx="75.6" cy="61.9" r="1.7"/><circle cx="85.6" cy="92.0" r="1.7"/><circle cx="60.1" cy="119.3" r="1.7"/><circle cx="82.4" cy="112.8" r="1.7"/><circle cx="58.1" cy="37.8" r="1.7"/><circle cx="63.4" cy="111.9" r="1.7"/><circle cx="97.6" cy="40.4" r="1.7"/><circle cx="78.5" cy="61.6" r="1.7"/><circle cx="83.7" cy="98.2" r="1.7"/><circle cx="85.1" cy="64.5" r="1.7"/><circle cx="97.7" cy="56.8" r="1.7"/><circle cx="98.6" cy="68.9" r="1.7"/><circle cx="85.1" cy="49.2" r="1.7"/><circle cx="69.4" cy="107.5" r="1.7"/><circle cx="90.8" cy="69.4" r="1.7"/><circle cx="102.2" cy="111.9" r="1.7"/><circle cx="66.8" cy="119.3" r="1.7"/><circle cx="58.5" cy="86.0" r="1.7"/><circle cx="72.8" cy="54.7" r="1.7"/><circle cx="82.8" cy="94.7" r="1.7"/><circle cx="112.3" cy="47.5" r="1.7"/><circle cx="71.3" cy="85.7" r="1.7"/><circle cx="81.2" cy="60.2" r="1.7"/><circle cx="109.9" cy="114.4" r="1.7"/><circle cx="104.7" cy="62.9" r="1.7"/><circle cx="108.4" cy="94.4" r="1.7"/><circle cx="67.7" cy="115.4" r="1.7"/><circle cx="71.9" cy="92.0" r="1.7"/><circle cx="97.6" cy="111.5" r="1.7"/><circle cx="96.0" cy="118.0" r="1.7"/><circle cx="61.1" cy="36.1" r="1.7"/><circle cx="68.9" cy="82.7" r="1.7"/><circle cx="82.0" cy="40.0" r="1.7"/><circle cx="80.8" cy="99.0" r="1.7"/><circle cx="84.5" cy="108.9" r="1.7"/><circle cx="101.3" cy="75.7" r="1.7"/><circle cx="78.2" cy="51.4" r="1.7"/><circle cx="74.5" cy="63.6" r="1.7"/><circle cx="78.4" cy="48.3" r="1.7"/><circle cx="84.9" cy="42.5" r="1.7"/><circle cx="107.6" cy="80.5" r="1.7"/><circle cx="63.2" cy="61.2" r="1.7"/><circle cx="72.3" cy="46.4" r="1.7"/><circle cx="66.4" cy="93.7" r="1.7"/><circle cx="82.4" cy="91.1" r="1.7"/><circle cx="84.7" cy="76.5" r="1.7"/><circle cx="75.5" cy="69.8" r="1.7"/><circle cx="85.3" cy="62.5" r="1.7"/><circle cx="105.1" cy="54.2" r="1.7"/><circle cx="70.4" cy="62.7" r="1.7"/><circle cx="102.8" cy="106.3" r="1.7"/><circle cx="90.1" cy="64.1" r="1.7"/><circle cx="94.9" cy="104.5" r="1.7"/><circle cx="98.4" cy="66.7" r="1.7"/><circle cx="66.0" cy="85.5" r="1.7"/><circle cx="69.8" cy="64.7" r="1.7"/><circle cx="89.0" cy="116.3" r="1.7"/><circle cx="66.1" cy="39.2" r="1.7"/><circle cx="60.3" cy="88.5" r="1.7"/><circle cx="59.3" cy="80.6" r="1.7"/><circle cx="64.5" cy="90.0" r="1.7"/><circle cx="78.4" cy="89.6" r="1.7"/><circle cx="72.5" cy="39.3" r="1.7"/><circle cx="68.1" cy="56.6" r="1.7"/><circle cx="67.2" cy="50.0" r="1.7"/><circle cx="88.9" cy="70.8" r="1.7"/><circle cx="105.1" cy="76.0" r="1.7"/><circle cx="88.7" cy="94.4" r="1.7"/><circle cx="106.7" cy="83.5" r="1.7"/><circle cx="59.8" cy="72.6" r="1.7"/><circle cx="61.4" cy="79.6" r="1.7"/><circle cx="66.3" cy="107.0" r="1.7"/><circle cx="91.7" cy="61.4" r="1.7"/><circle cx="58.6" cy="91.2" r="1.7"/><circle cx="61.8" cy="49.9" r="1.7"/><circle cx="62.7" cy="102.5" r="1.7"/><circle cx="88.1" cy="73.3" r="1.7"/><circle cx="91.2" cy="102.9" r="1.7"/><circle cx="93.5" cy="77.3" r="1.7"/><circle cx="75.7" cy="77.6" r="1.7"/><circle cx="114.4" cy="82.2" r="1.7"/><circle cx="60.8" cy="38.3" r="1.7"/><circle cx="103.0" cy="114.5" r="1.7"/><circle cx="58.3" cy="82.8" r="1.7"/><circle cx="65.6" cy="81.5" r="1.7"/><circle cx="95.8" cy="34.2" r="1.7"/><circle cx="107.6" cy="54.7" r="1.7"/><circle cx="77.4" cy="67.8" r="1.7"/><circle cx="57.9" cy="70.0" r="1.7"/><circle cx="67.0" cy="61.9" r="1.7"/><circle cx="93.0" cy="41.6" r="1.7"/><circle cx="58.5" cy="109.4" r="1.7"/><circle cx="71.1" cy="42.0" r="1.7"/><circle cx="95.3" cy="94.1" r="1.7"/><circle cx="109.1" cy="76.2" r="1.7"/><circle cx="69.5" cy="87.9" r="1.7"/><circle cx="111.8" cy="40.2" r="1.7"/><circle cx="79.9" cy="63.3" r="1.7"/><circle cx="62.3" cy="84.4" r="1.7"/><circle cx="114.1" cy="56.8" r="1.7"/><circle cx="99.4" cy="110.9" r="1.7"/><circle cx="73.2" cy="112.5" r="1.7"/><circle cx="100.7" cy="88.8" r="1.7"/><circle cx="104.1" cy="40.3" r="1.7"/><circle cx="88.2" cy="51.3" r="1.7"/><circle cx="101.6" cy="82.5" r="1.7"/><circle cx="112.0" cy="95.9" r="1.7"/><circle cx="63.5" cy="65.1" r="1.7"/><circle cx="90.8" cy="111.9" r="1.7"/><circle cx="72.0" cy="77.1" r="1.7"/><circle cx="96.4" cy="46.1" r="1.7"/><circle cx="76.6" cy="113.4" r="1.7"/><circle cx="97.5" cy="75.1" r="1.7"/><circle cx="99.3" cy="46.1" r="1.7"/><circle cx="66.2" cy="96.6" r="1.7"/><circle cx="80.0" cy="107.1" r="1.7"/><circle cx="71.1" cy="53.7" r="1.7"/><circle cx="107.3" cy="64.2" r="1.7"/><circle cx="64.0" cy="51.9" r="1.7"/><circle cx="101.9" cy="55.8" r="1.7"/><circle cx="89.6" cy="105.2" r="1.7"/><circle cx="92.7" cy="98.1" r="1.7"/><circle cx="113.8" cy="58.8" r="1.7"/><circle cx="69.3" cy="44.3" r="1.7"/><circle cx="76.5" cy="44.8" r="1.7"/><circle cx="91.9" cy="71.2" r="1.7"/><circle cx="65.8" cy="73.6" r="1.7"/><circle cx="110.4" cy="83.5" r="1.7"/><circle cx="84.1" cy="85.5" r="1.7"/><circle cx="89.3" cy="86.9" r="1.7"/><circle cx="58.4" cy="104.9" r="1.7"/><circle cx="57.9" cy="55.0" r="1.7"/><circle cx="91.3" cy="76.1" r="1.7"/><circle cx="109.4" cy="51.3" r="1.7"/><circle cx="64.2" cy="46.7" r="1.7"/><circle cx="86.3" cy="58.1" r="1.7"/><circle cx="76.1" cy="90.5" r="1.7"/><circle cx="90.5" cy="118.0" r="1.7"/><circle cx="71.2" cy="58.6" r="1.7"/><circle cx="104.7" cy="71.6" r="1.7"/><circle cx="60.5" cy="93.5" r="1.7"/><circle cx="70.5" cy="109.3" r="1.7"/><circle cx="65.6" cy="59.1" r="1.7"/><circle cx="92.2" cy="56.0" r="1.7"/><circle cx="60.5" cy="83.6" r="1.7"/><circle cx="99.9" cy="42.3" r="1.7"/><circle cx="58.7" cy="65.3" r="1.7"/><circle cx="74.1" cy="108.7" r="1.7"/><circle cx="58.5" cy="88.9" r="1.7"/><circle cx="86.4" cy="54.3" r="1.7"/><circle cx="72.2" cy="37.4" r="1.7"/><circle cx="109.7" cy="35.3" r="1.7"/><circle cx="74.6" cy="46.8" r="1.7"/><circle cx="103.6" cy="43.6" r="1.7"/><circle cx="74.7" cy="98.0" r="1.7"/><circle cx="74.8" cy="115.3" r="1.7"/><circle cx="67.8" cy="78.6" r="1.7"/><circle cx="88.6" cy="76.2" r="1.7"/><circle cx="102.2" cy="36.8" r="1.7"/><circle cx="89.0" cy="101.3" r="1.7"/><circle cx="83.0" cy="67.9" r="1.7"/><circle cx="95.9" cy="56.2" r="1.7"/><circle cx="73.1" cy="43.2" r="1.7"/><circle cx="96.9" cy="92.6" r="1.7"/><circle cx="92.8" cy="66.0" r="1.7"/><circle cx="84.3" cy="55.3" r="1.7"/><circle cx="76.1" cy="82.5" r="1.7"/><circle cx="61.3" cy="57.2" r="1.7"/><circle cx="75.1" cy="106.2" r="1.7"/><circle cx="97.4" cy="95.4" r="1.7"/><circle cx="108.8" cy="103.0" r="1.7"/><circle cx="72.6" cy="50.3" r="1.7"/><circle cx="60.4" cy="69.4" r="1.7"/><circle cx="69.2" cy="92.6" r="1.7"/><circle cx="70.4" cy="81.1" r="1.7"/><circle cx="67.8" cy="74.6" r="1.7"/><circle cx="107.5" cy="59.1" r="1.7"/><circle cx="105.8" cy="49.7" r="1.7"/><circle cx="85.5" cy="80.4" r="1.7"/><circle cx="78.5" cy="74.0" r="1.7"/><circle cx="91.5" cy="45.1" r="1.7"/><circle cx="99.8" cy="52.3" r="1.7"/><circle cx="83.0" cy="58.7" r="1.7"/><circle cx="112.0" cy="34.0" r="1.7"/><circle cx="106.0" cy="113.8" r="1.7"/><circle cx="80.1" cy="34.2" r="1.7"/><circle cx="93.6" cy="110.8" r="1.7"/><circle cx="63.9" cy="104.6" r="1.7"/><circle cx="57.8" cy="96.3" r="1.7"/><circle cx="86.0" cy="111.5" r="1.7"/><circle cx="107.9" cy="36.9" r="1.7"/><circle cx="57.9" cy="74.0" r="1.7"/><circle cx="111.9" cy="75.2" r="1.7"/><circle cx="69.8" cy="116.8" r="1.7"/><circle cx="84.9" cy="70.7" r="1.7"/><circle cx="79.3" cy="109.2" r="1.7"/><circle cx="74.9" cy="52.9" r="1.7"/><circle cx="78.2" cy="96.5" r="1.7"/><circle cx="71.2" cy="56.5" r="1.7"/><circle cx="64.7" cy="66.8" r="1.7"/><circle cx="79.0" cy="91.9" r="1.7"/><circle cx="104.2" cy="59.6" r="1.7"/><circle cx="81.0" cy="44.0" r="1.7"/><circle cx="108.9" cy="65.2" r="1.7"/><circle cx="97.9" cy="35.1" r="1.7"/><circle cx="97.7" cy="52.4" r="1.7"/><circle cx="105.7" cy="47.0" r="1.7"/><circle cx="83.9" cy="88.6" r="1.7"/><circle cx="73.8" cy="67.9" r="1.7"/><circle cx="62.7" cy="77.3" r="1.7"/><circle cx="103.4" cy="67.7" r="1.7"/><circle cx="106.1" cy="67.2" r="1.7"/><circle cx="100.2" cy="73.5" r="1.7"/><circle cx="95.3" cy="53.5" r="1.7"/><circle cx="99.9" cy="118.9" r="1.7"/><circle cx="107.6" cy="106.6" r="1.7"/><circle cx="107.8" cy="52.5" r="1.7"/><circle cx="90.0" cy="40.3" r="1.7"/><circle cx="82.4" cy="82.8" r="1.7"/><circle cx="72.5" cy="69.4" r="1.7"/><circle cx="78.7" cy="40.2" r="1.7"/><circle cx="61.6" cy="100.5" r="1.7"/><circle cx="57.9" cy="118.3" r="1.7"/><circle cx="109.2" cy="118.4" r="1.7"/><circle cx="102.8" cy="33.0" r="1.7"/><circle cx="68.1" cy="38.1" r="1.7"/><circle cx="110.3" cy="111.7" r="1.7"/><circle cx="106.6" cy="103.8" r="1.7"/><circle cx="82.4" cy="63.6" r="1.7"/><circle cx="108.9" cy="46.1" r="1.7"/><circle cx="95.3" cy="60.8" r="1.7"/><circle cx="105.0" cy="106.1" r="1.7"/><circle cx="74.5" cy="56.7" r="1.7"/><circle cx="64.7" cy="55.0" r="1.7"/><circle cx="64.5" cy="100.8" r="1.7"/><circle cx="103.1" cy="99.4" r="1.7"/><circle cx="113.6" cy="66.1" r="1.7"/><circle cx="60.3" cy="102.9" r="1.7"/><circle cx="74.1" cy="99.8" r="1.7"/><circle cx="58.8" cy="35.9" r="1.7"/><circle cx="92.0" cy="92.1" r="1.7"/><circle cx="90.0" cy="79.0" r="1.7"/><circle cx="61.3" cy="63.1" r="1.7"/><circle cx="89.1" cy="54.4" r="1.7"/><circle cx="68.0" cy="71.5" r="1.7"/><circle cx="81.2" cy="56.1" r="1.7"/><circle cx="59.3" cy="39.8" r="1.7"/><circle cx="59.6" cy="43.7" r="1.7"/><circle cx="95.0" cy="39.6" r="1.7"/><circle cx="112.3" cy="42.9" r="1.7"/><circle cx="62.7" cy="88.9" r="1.7"/><circle cx="69.0" cy="69.5" r="1.7"/><circle cx="91.2" cy="82.3" r="1.7"/><circle cx="79.5" cy="80.0" r="1.7"/><circle cx="112.4" cy="37.2" r="1.7"/><circle cx="92.6" cy="85.6" r="1.7"/><circle cx="61.6" cy="53.0" r="1.7"/><circle cx="90.1" cy="35.7" r="1.7"/><circle cx="106.2" cy="116.7" r="1.7"/><circle cx="76.5" cy="100.0" r="1.7"/><circle cx="72.0" cy="115.0" r="1.7"/><circle cx="69.8" cy="33.3" r="1.7"/><circle cx="93.9" cy="82.1" r="1.7"/><circle cx="93.6" cy="69.1" r="1.7"/><circle cx="110.8" cy="55.2" r="1.7"/><circle cx="88.7" cy="38.6" r="1.7"/><circle cx="89.4" cy="88.8" r="1.7"/><circle cx="62.3" cy="117.4" r="1.7"/><circle cx="100.0" cy="62.0" r="1.7"/><circle cx="75.7" cy="92.8" r="1.7"/><circle cx="107.1" cy="109.4" r="1.7"/><circle cx="70.8" cy="105.6" r="1.7"/><circle cx="98.6" cy="48.0" r="1.7"/><circle cx="111.1" cy="72.4" r="1.7"/><circle cx="93.1" cy="113.5" r="1.7"/><circle cx="80.5" cy="114.8" r="1.7"/><circle cx="74.5" cy="33.9" r="1.7"/><circle cx="63.6" cy="92.8" r="1.7"/><circle cx="79.6" cy="105.1" r="1.7"/><circle cx="88.3" cy="92.3" r="1.7"/><circle cx="77.9" cy="83.7" r="1.7"/><circle cx="85.9" cy="105.9" r="1.7"/><circle cx="61.5" cy="105.8" r="1.7"/><circle cx="83.4" cy="116.8" r="1.7"/><circle cx="101.5" cy="64.7" r="1.7"/><circle cx="91.0" cy="114.9" r="1.7"/><circle cx="80.6" cy="65.7" r="1.7"/><circle cx="98.3" cy="78.9" r="1.7"/><circle cx="100.3" cy="104.4" r="1.7"/><circle cx="100.4" cy="54.2" r="1.7"/><circle cx="113.1" cy="109.1" r="1.7"/><circle cx="106.4" cy="101.9" r="1.7"/><circle cx="108.6" cy="40.1" r="1.7"/><circle cx="71.6" cy="87.7" r="1.7"/><circle cx="98.4" cy="97.5" r="1.7"/><circle cx="59.2" cy="53.0" r="1.7"/><circle cx="71.3" cy="100.0" r="1.7"/><circle cx="102.8" cy="109.1" r="1.7"/><circle cx="102.3" cy="102.9" r="1.7"/><circle cx="75.2" cy="43.3" r="1.7"/><circle cx="100.3" cy="92.4" r="1.7"/><circle cx="60.6" cy="47.6" r="1.7"/><circle cx="84.3" cy="47.4" r="1.7"/><circle cx="68.3" cy="99.6" r="1.7"/><circle cx="90.2" cy="47.2" r="1.7"/><circle cx="114.6" cy="53.2" r="1.7"/><circle cx="76.7" cy="39.4" r="1.7"/><circle cx="110.1" cy="104.6" r="1.7"/><circle cx="80.1" cy="85.4" r="1.7"/><circle cx="77.0" cy="115.7" r="1.7"/><circle cx="73.1" cy="89.1" r="1.7"/><circle cx="82.3" cy="78.4" r="1.7"/><circle cx="113.4" cy="54.8" r="1.7"/><circle cx="78.2" cy="53.6" r="1.7"/><circle cx="77.8" cy="35.2" r="1.7"/><circle cx="76.3" cy="118.1" r="1.7"/><circle cx="69.6" cy="36.0" r="1.7"/><circle cx="105.7" cy="43.9" r="1.7"/><circle cx="111.8" cy="49.7" r="1.7"/><circle cx="90.2" cy="59.8" r="1.7"/><circle cx="109.8" cy="48.0" r="1.7"/><circle cx="100.5" cy="99.9" r="1.7"/><circle cx="80.4" cy="48.2" r="1.7"/><circle cx="107.2" cy="96.9" r="1.7"/><circle cx="91.7" cy="52.9" r="1.7"/><circle cx="100.7" cy="69.0" r="1.7"/><circle cx="94.7" cy="85.1" r="1.7"/><circle cx="72.3" cy="61.3" r="1.7"/><circle cx="71.2" cy="71.1" r="1.7"/><circle cx="94.9" cy="96.0" r="1.7"/><circle cx="98.2" cy="62.9" r="1.7"/><circle cx="108.9" cy="99.3" r="1.7"/><circle cx="84.0" cy="103.2" r="1.7"/><circle cx="106.4" cy="85.7" r="1.7"/><circle cx="63.9" cy="96.6" r="1.7"/><circle cx="78.1" cy="111.6" r="1.7"/><circle cx="105.7" cy="69.1" r="1.7"/><circle cx="85.2" cy="113.9" r="1.7"/><circle cx="99.2" cy="84.9" r="1.7"/><circle cx="111.0" cy="58.6" r="1.7"/><circle cx="97.6" cy="114.4" r="1.7"/><circle cx="77.3" cy="65.0" r="1.7"/><circle cx="96.3" cy="65.5" r="1.7"/><circle cx="99.2" cy="71.2" r="1.7"/><circle cx="77.3" cy="46.6" r="1.7"/><circle cx="99.7" cy="39.0" r="1.7"/><circle cx="67.4" cy="43.6" r="1.7"/><circle cx="58.7" cy="62.7" r="1.7"/><circle cx="101.8" cy="119.4" r="1.7"/><circle cx="102.4" cy="79.9" r="1.7"/><circle cx="113.9" cy="105.4" r="1.7"/><circle cx="66.9" cy="47.3" r="1.7"/><circle cx="94.5" cy="99.8" r="1.7"/><circle cx="107.0" cy="112.1" r="1.7"/><circle cx="112.0" cy="98.5" r="1.7"/><circle cx="101.8" cy="58.2" r="1.7"/><circle cx="80.1" cy="83.4" r="1.7"/><circle cx="81.8" cy="38.0" r="1.7"/><circle cx="104.1" cy="91.4" r="1.7"/><circle cx="85.1" cy="68.3" r="1.7"/><circle cx="85.7" cy="38.9" r="1.7"/><circle cx="93.7" cy="118.9" r="1.7"/><circle cx="113.8" cy="117.1" r="1.7"/><circle cx="68.3" cy="95.3" r="1.7"/><circle cx="102.7" cy="87.8" r="1.7"/><circle cx="70.6" cy="75.3" r="1.7"/><circle cx="98.4" cy="86.7" r="1.7"/><circle cx="88.9" cy="96.8" r="1.7"/><circle cx="65.4" cy="36.6" r="1.7"/><circle cx="79.4" cy="69.2" r="1.7"/><circle cx="92.1" cy="59.3" r="1.7"/><circle cx="90.1" cy="74.3" r="1.7"/><circle cx="113.7" cy="72.7" r="1.7"/><circle cx="90.1" cy="108.8" r="1.7"/><circle cx="77.2" cy="109.8" r="1.7"/><circle cx="101.0" cy="34.2" r="1.7"/><circle cx="93.7" cy="43.8" r="1.7"/><circle cx="86.6" cy="119.0" r="1.7"/><circle cx="94.6" cy="107.4" r="1.7"/><circle cx="73.7" cy="93.9" r="1.7"/><circle cx="82.1" cy="74.9" r="1.7"/><circle cx="106.5" cy="78.3" r="1.7"/><circle cx="64.4" cy="33.8" r="1.7"/><circle cx="80.0" cy="101.4" r="1.7"/><circle cx="111.4" cy="88.4" r="1.7"/><circle cx="74.5" cy="119.1" r="1.7"/><circle cx="64.1" cy="69.6" r="1.7"/><circle cx="66.9" cy="101.1" r="1.7"/><circle cx="108.2" cy="68.3" r="1.7"/><circle cx="66.8" cy="34.7" r="1.7"/><circle cx="84.7" cy="100.9" r="1.7"/><circle cx="103.8" cy="65.6" r="1.7"/><circle cx="100.6" cy="78.1" r="1.7"/><circle cx="61.0" cy="91.0" r="1.7"/><circle cx="76.8" cy="88.4" r="1.7"/><circle cx="110.8" cy="116.6" r="1.7"/><circle cx="103.3" cy="69.7" r="1.7"/><circle cx="63.0" cy="74.0" r="1.7"/><circle cx="58.8" cy="67.6" r="1.7"/><circle cx="109.2" cy="86.7" r="1.7"/><circle cx="79.1" cy="38.2" r="1.7"/><circle cx="61.2" cy="98.2" r="1.7"/><circle cx="88.0" cy="110.5" r="1.7"/><circle cx="69.3" cy="52.2" r="1.7"/><circle cx="69.2" cy="97.7" r="1.7"/><circle cx="101.7" cy="39.1" r="1.7"/><circle cx="60.5" cy="113.3" r="1.7"/><circle cx="93.8" cy="47.6" r="1.7"/><circle cx="110.4" cy="41.7" r="1.7"/><circle cx="73.1" cy="48.2" r="1.7"/><circle cx="113.0" cy="91.2" r="1.7"/><circle cx="107.8" cy="62.3" r="1.7"/><circle cx="65.3" cy="117.4" r="1.7"/><circle cx="86.8" cy="102.3" r="1.7"/><circle cx="61.6" cy="32.9" r="1.7"/><circle cx="114.9" cy="44.5" r="1.7"/><circle cx="73.5" cy="117.0" r="1.7"/><circle cx="91.0" cy="38.4" r="1.7"/><circle cx="90.9" cy="93.8" r="1.7"/><circle cx="65.7" cy="44.9" r="1.7"/><circle cx="93.0" cy="38.8" r="1.7"/></g><g fill="#008000"><circle cx="166.6" cy="103.0" r="1.7"/><circle cx="180.5" cy="90.9" r="1.7"/><circle cx="136.7" cy="70.3" r="1.7"/><circle cx="150.2" cy="77.5" r="1.7"/><circle cx="144.8" cy="44.6" r="1.7"/><circle cx="191.2" cy="109.2" r="1.7"/><circle cx="141.7" cy="104.6" r="1.7"/><circle cx="139.9" cy="62.2" r="1.7"/><circle cx="193.7" cy="114.3" r="1.7"/><circle cx="163.2" cy="93.7" r="1.7"/><circle cx="158.2" cy="106.4" r="1.7"/><circle cx="154.4" cy="50.7" r="1.7"/><circle cx="144.4" cy="87.5" r="1.7"/><circle cx="168.4" cy="111.1" r="1.7"/><circle cx="144.6" cy="102.6" r="1.7"/><circle cx="190.8" cy="97.6" r="1.7"/><circle cx="142.7" cy="46.1" r="1.7"/><circle cx="180.1" cy="45.4" r="1.7"/><circle cx="162.1" cy="36.7" r="1.7"/><circle cx="175.4" cy="41.4" r="1.7"/><circle cx="182.0" cy="85.9" r="1.7"/><circle cx="147.1" cy="93.4" r="1.7"/><circle cx="156.3" cy="78.2" r="1.7"/><circle cx="168.3" cy="56.4" r="1.7"/><circle cx="160.2" cy="101.0" r="1.7"/><circle cx="186.2" cy="106.4" r="1.7"/><circle cx="169.0" cy="108.4" r="1.7"/><circle cx="144.2" cy="118.1" r="1.7"/><circle cx="138.6" cy="110.8" r="1.7"/><circle cx="182.0" cy="66.6" r="1.7"/><circle cx="181.9" cy="115.8" r="1.7"/><circle cx="145.6" cy="89.1" r="1.7"/><circle cx="136.3" cy="90.4" r="1.7"/><circle cx="139.6" cy="90.7" r="1.7"/><circle cx="137.6" cy="67.8" r="1.7"/><circle cx="186.3" cy="59.4" r="1.7"/><circle cx="192.3" cy="73.7" r="1.7"/><circle cx="146.6" cy="114.0" r="1.7"/><circle cx="145.0" cy="84.3" r="1.7"/><circle cx="190.7" cy="114.4" r="1.7"/><circle cx="168.3" cy="51.2" r="1.7"/><circle cx="165.1" cy="58.1" r="1.7"/><circle cx="154.3" cy="60.4" r="1.7"/><circle cx="147.7" cy="36.2" r="1.7"/><circle cx="179.6" cy="33.9" r="1.7"/><circle cx="169.3" cy="64.7" r="1.7"/><circle cx="173.7" cy="83.2" r="1.7"/><circle cx="163.8" cy="100.2" r="1.7"/><circle cx="186.2" cy="94.1" r="1.7"/><circle cx="155.1" cy="75.0" r="1.7"/><circle cx="140.6" cy="95.7" r="1.7"/><circle cx="173.5" cy="103.8" r="1.7"/><circle cx="140.9" cy="44.0" r="1.7"/><circle cx="173.5" cy="96.3" r="1.7"/><circle cx="140.3" cy="35.5" r="1.7"/><circle cx="154.9" cy="62.3" r="1.7"/><circle cx="139.1" cy="41.3" r="1.7"/><circle cx="147.9" cy="34.1" r="1.7"/><circle cx="144.6" cy="35.1" r="1.7"/><circle cx="157.5" cy="97.7" r="1.7"/><circle cx="174.4" cy="85.2" r="1.7"/><circle cx="163.2" cy="49.1" r="1.7"/><circle cx="138.8" cy="48.9" r="1.7"/><circle cx="191.0" cy="103.4" r="1.7"/><circle cx="169.1" cy="86.0" r="1.7"/><circle cx="179.3" cy="104.1" r="1.7"/><circle cx="150.0" cy="102.4" r="1.7"/><circle cx="173.6" cy="56.9" r="1.7"/><circle cx="152.7" cy="47.7" r="1.7"/><circle cx="167.8" cy="116.8" r="1.7"/><circle cx="181.8" cy="47.3" r="1.7"/><circle cx="143.0" cy="57.2" r="1.7"/><circle cx="178.5" cy="60.1" r="1.7"/><circle cx="168.8" cy="60.2" r="1.7"/><circle cx="193.1" cy="84.2" r="1.7"/><circle cx="144.1" cy="100.2" r="1.7"/><circle cx="152.8" cy="72.3" r="1.7"/><circle cx="152.7" cy="75.3" r="1.7"/><circle cx="145.2" cy="116.0" r="1.7"/><circle cx="148.1" cy="57.3" r="1.7"/><circle cx="159.8" cy="43.0" r="1.7"/><circle cx="149.3" cy="68.1" r="1.7"/><circle cx="169.9" cy="79.3" r="1.7"/><circle cx="157.4" cy="91.5" r="1.7"/><circle cx="179.3" cy="55.8" r="1.7"/><circle cx="149.9" cy="87.0" r="1.7"/><circle cx="159.9" cy="104.8" r="1.7"/><circle cx="136.6" cy="79.8" r="1.7"/><circle cx="156.3" cy="51.2" r="1.7"/><circle cx="186.4" cy="51.6" r="1.7"/><circle cx="181.8" cy="106.9" r="1.7"/><circle cx="192.2" cy="42.9" r="1.7"/><circle cx="145.1" cy="40.1" r="1.7"/><circle cx="154.6" cy="111.4" r="1.7"/><circle cx="173.4" cy="46.3" r="1.7"/><circle cx="142.2" cy="97.8" r="1.7"/><circle cx="172.2" cy="33.0" r="1.7"/><circle cx="170.1" cy="49.3" r="1.7"/><circle cx="153.1" cy="41.6" r="1.7"/><circle cx="171.8" cy="50.5" r="1.7"/><circle cx="157.8" cy="88.9" r="1.7"/><circle cx="179.3" cy="111.4" r="1.7"/><circle cx="150.4" cy="53.6" r="1.7"/><circle cx="159.4" cy="59.6" r="1.7"/><circle cx="183.6" cy="65.0" r="1.7"/><circle cx="157.7" cy="76.4" r="1.7"/><circle cx="136.5" cy="96.6" r="1.7"/><circle cx="142.7" cy="106.9" r="1.7"/><circle cx="158.1" cy="74.5" r="1.7"/><circle cx="152.8" cy="112.3" r="1.7"/><circle cx="190.5" cy="54.9" r="1.7"/><circle cx="189.4" cy="34.2" r="1.7"/><circle cx="177.7" cy="35.1" r="1.7"/><circle cx="160.7" cy="68.6" r="1.7"/><circle cx="161.3" cy="114.4" r="1.7"/><circle cx="156.5" cy="34.4" r="1.7"/><circle cx="143.5" cy="37.9" r="1.7"/><circle cx="147.4" cy="117.6" r="1.7"/><circle cx="161.8" cy="45.7" r="1.7"/><circle cx="174.2" cy="65.6" r="1.7"/><circle cx="168.1" cy="119.2" r="1.7"/><circle cx="176.6" cy="79.2" r="1.7"/><circle cx="193.9" cy="76.7" r="1.7"/><circle cx="162.3" cy="106.6" r="1.7"/><circle cx="191.6" cy="95.2" r="1.7"/><circle cx="157.2" cy="67.7" r="1.7"/><circle cx="136.5" cy="53.6" r="1.7"/><circle cx="181.1" cy="75.2" r="1.7"/><circle cx="185.7" cy="90.9" r="1.7"/><circle cx="168.9" cy="102.7" r="1.7"/><circle cx="164.9" cy="90.7" r="1.7"/><circle cx="164.4" cy="63.4" r="1.7"/><circle cx="180.4" cy="39.0" r="1.7"/><circle cx="192.7" cy="116.1" r="1.7"/><circle cx="184.2" cy="73.3" r="1.7"/><circle cx="162.7" cy="52.0" r="1.7"/><circle cx="182.4" cy="109.2" r="1.7"/><circle cx="165.1" cy="106.8" r="1.7"/><circle cx="153.0" cy="107.3" r="1.7"/><circle cx="192.5" cy="90.9" r="1.7"/><circle cx="176.3" cy="73.8" r="1.7"/><circle cx="184.1" cy="48.6" r="1.7"/><circle cx="175.8" cy="46.7" r="1.7"/><circle cx="179.8" cy="115.7" r="1.7"/><circle cx="171.9" cy="36.2" r="1.7"/><circle cx="178.8" cy="74.1" r="1.7"/><circle cx="186.3" cy="45.7" r="1.7"/><circle cx="184.6" cy="111.6" r="1.7"/><circle cx="190.1" cy="90.0" r="1.7"/><circle cx="136.2" cy="42.5" r="1.7"/><circle cx="171.8" cy="107.5" r="1.7"/><circle cx="159.7" cy="46.8" r="1.7"/><circle cx="188.8" cy="112.3" r="1.7"/><circle cx="192.7" cy="34.9" r="1.7"/><circle cx="170.3" cy="87.5" r="1.7"/><circle cx="167.0" cy="49.1" r="1.7"/><circle cx="189.4" cy="79.3" r="1.7"/><circle cx="178.2" cy="50.4" r="1.7"/><circle cx="181.1" cy="51.0" r="1.7"/><circle cx="161.1" cy="58.2" r="1.7"/><circle cx="143.4" cy="109.4" r="1.7"/><circle cx="187.7" cy="57.3" r="1.7"/><circle cx="149.7" cy="108.6" r="1.7"/><circle cx="145.6" cy="95.4" r="1.7"/><circle cx="137.5" cy="56.3" r="1.7"/><circle cx="147.4" cy="106.7" r="1.7"/><circle cx="170.8" cy="90.0" r="1.7"/><circle cx="140.8" cy="59.6" r="1.7"/><circle cx="187.8" cy="86.0" r="1.7"/><circle cx="147.9" cy="112.0" r="1.7"/><circle cx="173.7" cy="40.3" r="1.7"/><circle cx="180.4" cy="94.5" r="1.7"/><circle cx="164.3" cy="39.3" r="1.7"/><circle cx="136.4" cy="48.9" r="1.7"/><circle cx="180.1" cy="101.7" r="1.7"/><circle cx="174.5" cy="92.5" r="1.7"/><circle cx="150.7" cy="105.5" r="1.7"/><circle cx="175.7" cy="87.2" r="1.7"/><circle cx="169.0" cy="73.7" r="1.7"/><circle cx="170.2" cy="38.6" r="1.7"/><circle cx="149.5" cy="117.7" r="1.7"/><circle cx="159.4" cy="87.7" r="1.7"/><circle cx="143.7" cy="82.4" r="1.7"/><circle cx="171.3" cy="98.9" r="1.7"/><circle cx="155.4" cy="71.3" r="1.7"/><circle cx="192.0" cy="77.1" r="1.7"/><circle cx="167.4" cy="37.8" r="1.7"/><circle cx="144.8" cy="98.1" r="1.7"/><circle cx="175.1" cy="44.8" r="1.7"/><circle cx="163.4" cy="60.2" r="1.7"/><circle cx="177.8" cy="90.8" r="1.7"/><circle cx="193.7" cy="41.8" r="1.7"/><circle cx="180.6" cy="72.7" r="1.7"/><circle cx="142.3" cy="92.8" r="1.7"/><circle cx="177.1" cy="54.0" r="1.7"/><circle cx="153.9" cy="99.8" r="1.7"/><circle cx="158.5" cy="63.0" r="1.7"/><circle cx="181.8" cy="89.3" r="1.7"/><circle cx="147.6" cy="47.0" r="1.7"/><circle cx="167.4" cy="89.7" r="1.7"/><circle cx="165.2" cy="87.5" r="1.7"/><circle cx="139.9" cy="88.3" r="1.7"/><circle cx="141.3" cy="86.8" r="1.7"/><circle cx="143.0" cy="69.6" r="1.7"/><circle cx="147.4" cy="90.1" r="1.7"/><circle cx="177.3" cy="96.7" r="1.7"/><circle cx="156.7" cy="84.7" r="1.7"/><circle cx="168.7" cy="95.1" r="1.7"/><circle cx="136.2" cy="94.1" r="1.7"/><circle cx="182.3" cy="37.4" r="1.7"/><circle cx="177.0" cy="70.2" r="1.7"/><circle cx="156.4" cy="107.5" r="1.7"/><circle cx="143.0" cy="76.5" r="1.7"/><circle cx="194.0" cy="110.1" r="1.7"/><circle cx="163.3" cy="68.0" r="1.7"/><circle cx="142.5" cy="49.0" r="1.7"/><circle cx="175.1" cy="33.6" r="1.7"/><circle cx="148.7" cy="62.0" r="1.7"/><circle cx="150.9" cy="66.5" r="1.7"/><circle cx="136.6" cy="107.8" r="1.7"/><circle cx="191.5" cy="86.2" r="1.7"/><circle cx="176.5" cy="93.5" r="1.7"/><circle cx="189.5" cy="44.1" r="1.7"/><circle cx="139.0" cy="37.2" r="1.7"/><circle cx="140.1" cy="47.0" r="1.7"/><circle cx="178.5" cy="81.1" r="1.7"/><circle cx="156.6" cy="101.0" r="1.7"/><circle cx="145.9" cy="64.0" r="1.7"/><circle cx="160.1" cy="91.8" r="1.7"/><circle cx="180.2" cy="82.0" r="1.7"/><circle cx="171.3" cy="57.2" r="1.7"/><circle cx="170.4" cy="105.9" r="1.7"/><circle cx="161.5" cy="98.0" r="1.7"/><circle cx="165.5" cy="77.3" r="1.7"/><circle cx="171.3" cy="45.0" r="1.7"/><circle cx="155.4" cy="45.5" r="1.7"/><circle cx="174.0" cy="69.3" r="1.7"/><circle cx="151.9" cy="52.3" r="1.7"/><circle cx="193.5" cy="60.7" r="1.7"/><circle cx="148.5" cy="94.9" r="1.7"/><circle cx="188.9" cy="47.0" r="1.7"/><circle cx="186.0" cy="83.7" r="1.7"/><circle cx="188.5" cy="114.8" r="1.7"/><circle cx="146.5" cy="71.3" r="1.7"/><circle cx="161.7" cy="54.1" r="1.7"/><circle cx="164.1" cy="98.1" r="1.7"/><circle cx="142.3" cy="74.5" r="1.7"/><circle cx="173.3" cy="54.7" r="1.7"/><circle cx="169.1" cy="82.4" r="1.7"/><circle cx="189.8" cy="76.3" r="1.7"/><circle cx="181.7" cy="98.7" r="1.7"/><circle cx="184.6" cy="89.3" r="1.7"/><circle cx="180.6" cy="113.4" r="1.7"/><circle cx="186.7" cy="117.2" r="1.7"/><circle cx="185.2" cy="109.5" r="1.7"/><circle cx="171.4" cy="53.9" r="1.7"/><circle cx="137.1" cy="98.8" r="1.7"/><circle cx="174.2" cy="52.3" r="1.7"/><circle cx="143.4" cy="89.6" r="1.7"/><circle cx="142.6" cy="101.7" r="1.7"/><circle cx="146.6" cy="99.7" r="1.7"/><circle cx="156.7" cy="110.9" r="1.7"/><circle cx="175.2" cy="99.9" r="1.7"/><circle cx="158.6" cy="81.9" r="1.7"/><circle cx="193.3" cy="106.0" r="1.7"/><circle cx="139.8" cy="81.6" r="1.7"/><circle cx="156.5" cy="58.9" r="1.7"/><circle cx="187.9" cy="36.1" r="1.7"/><circle cx="186.0" cy="39.7" r="1.7"/><circle cx="166.6" cy="113.0" r="1.7"/><circle cx="182.3" cy="41.4" r="1.7"/><circle cx="191.5" cy="50.4" r="1.7"/><circle cx="148.4" cy="105.0" r="1.7"/><circle cx="165.9" cy="54.1" r="1.7"/><circle cx="137.0" cy="51.6" r="1.7"/><circle cx="156.9" cy="104.3" r="1.7"/><circle cx="160.3" cy="73.3" r="1.7"/><circle cx="136.8" cy="116.2" r="1.7"/><circle cx="189.2" cy="41.6" r="1.7"/><circle cx="157.3" cy="93.5" r="1.7"/><circle cx="183.3" cy="82.5" r="1.7"/><circle cx="171.2" cy="41.0" r="1.7"/><circle cx="177.2" cy="37.7" r="1.7"/><circle cx="172.7" cy="80.9" r="1.7"/><circle cx="177.5" cy="41.0" r="1.7"/><circle cx="193.2" cy="99.2" r="1.7"/><circle cx="154.1" cy="117.6" r="1.7"/><circle cx="171.7" cy="95.1" r="1.7"/><circle cx="148.8" cy="65.6" r="1.7"/><circle cx="193.4" cy="66.1" r="1.7"/><circle cx="159.0" cy="102.4" r="1.7"/><circle cx="171.5" cy="103.6" r="1.7"/><circle cx="148.0" cy="79.7" r="1.7"/><circle cx="176.5" cy="84.4" r="1.7"/><circle cx="154.9" cy="85.5" r="1.7"/><circle cx="183.1" cy="50.6" r="1.7"/><circle cx="145.1" cy="107.2" r="1.7"/><circle cx="171.7" cy="83.8" r="1.7"/><circle cx="139.7" cy="66.0" r="1.7"/><circle cx="162.4" cy="112.0" r="1.7"/><circle cx="164.5" cy="35.1" r="1.7"/><circle cx="145.4" cy="48.0" r="1.7"/><circle cx="191.2" cy="64.0" r="1.7"/><circle cx="156.3" cy="117.4" r="1.7"/><circle cx="148.0" cy="86.7" r="1.7"/><circle cx="191.0" cy="111.7" r="1.7"/><circle cx="145.3" cy="73.7" r="1.7"/><circle cx="150.7" cy="93.5" r="1.7"/><circle cx="150.3" cy="48.2" r="1.7"/><circle cx="151.8" cy="44.2" r="1.7"/><circle cx="177.6" cy="57.1" r="1.7"/><circle cx="159.2" cy="56.7" r="1.7"/><circle cx="156.2" cy="40.9" r="1.7"/><circle cx="184.5" cy="42.9" r="1.7"/><circle cx="168.8" cy="99.8" r="1.7"/><circle cx="168.4" cy="76.8" r="1.7"/><circle cx="145.0" cy="110.8" r="1.7"/><circle cx="172.3" cy="100.6" r="1.7"/><circle cx="136.3" cy="105.4" r="1.7"/><circle cx="138.5" cy="107.2" r="1.7"/><circle cx="171.3" cy="67.0" r="1.7"/><circle cx="180.8" cy="77.6" r="1.7"/><circle cx="179.7" cy="41.7" r="1.7"/><circle cx="192.4" cy="58.7" r="1.7"/><circle cx="150.4" cy="50.8" r="1.7"/><circle cx="152.7" cy="105.4" r="1.7"/><circle cx="189.0" cy="53.5" r="1.7"/><circle cx="189.0" cy="82.1" r="1.7"/><circle cx="183.2" cy="61.7" r="1.7"/><circle cx="145.8" cy="59.3" r="1.7"/><circle cx="183.8" cy="118.1" r="1.7"/><circle cx="149.8" cy="114.1" r="1.7"/><circle cx="154.2" cy="93.2" r="1.7"/><circle cx="168.9" cy="92.0" r="1.7"/><circle cx="191.2" cy="36.6" r="1.7"/><circle cx="149.6" cy="70.8" r="1.7"/><circle cx="175.2" cy="115.3" r="1.7"/><circle cx="157.3" cy="48.6" r="1.7"/><circle cx="178.1" cy="118.5" r="1.7"/><circle cx="193.2" cy="63.7" r="1.7"/><circle cx="144.6" cy="71.9" r="1.7"/><circle cx="155.2" cy="89.1" r="1.7"/><circle cx="174.5" cy="78.3" r="1.7"/><circle cx="171.6" cy="72.7" r="1.7"/><circle cx="186.1" cy="97.4" r="1.7"/><circle cx="166.1" cy="96.6" r="1.7"/><circle cx="148.8" cy="39.0" r="1.7"/><circle cx="174.8" cy="118.5" r="1.7"/><circle cx="140.5" cy="111.8" r="1.7"/><circle cx="152.1" cy="61.7" r="1.7"/><circle cx="192.4" cy="48.3" r="1.7"/><circle cx="140.9" cy="71.2" r="1.7"/><circle cx="163.4" cy="81.2" r="1.7"/><circle cx="175.6" cy="55.9" r="1.7"/><circle cx="189.5" cy="106.7" r="1.7"/><circle cx="166.2" cy="81.2" r="1.7"/><circle cx="168.4" cy="35.7" r="1.7"/><circle cx="177.8" cy="63.1" r="1.7"/><circle cx="184.4" cy="35.9" r="1.7"/><circle cx="140.7" cy="99.4" r="1.7"/><circle cx="175.6" cy="106.6" r="1.7"/><circle cx="147.6" cy="84.1" r="1.7"/><circle cx="151.6" cy="89.5" r="1.7"/><circle cx="185.4" cy="55.7" r="1.7"/><circle cx="168.3" cy="97.0" r="1.7"/><circle cx="157.8" cy="114.0" r="1.7"/><circle cx="168.9" cy="62.1" r="1.7"/><circle cx="189.4" cy="88.0" r="1.7"/><circle cx="193.9" cy="37.1" r="1.7"/><circle cx="167.4" cy="65.1" r="1.7"/><circle cx="177.8" cy="114.3" r="1.7"/><circle cx="187.3" cy="70.8" r="1.7"/><circle cx="158.3" cy="51.0" r="1.7"/><circle cx="164.7" cy="84.7" r="1.7"/><circle cx="184.7" cy="33.6" r="1.7"/><circle cx="159.5" cy="70.8" r="1.7"/><circle cx="191.6" cy="68.1" r="1.7"/><circle cx="163.5" cy="88.9" r="1.7"/><circle cx="152.6" cy="91.8" r="1.7"/><circle cx="164.6" cy="112.5" r="1.7"/><circle cx="151.5" cy="83.6" r="1.7"/><circle cx="174.5" cy="49.4" r="1.7"/><circle cx="147.7" cy="75.1" r="1.7"/><circle cx="184.6" cy="69.8" r="1.7"/><circle cx="184.1" cy="40.7" r="1.7"/><circle cx="174.4" cy="111.2" r="1.7"/><circle cx="167.0" cy="58.4" r="1.7"/><circle cx="181.4" cy="70.2" r="1.7"/><circle cx="139.2" cy="103.9" r="1.7"/><circle cx="161.0" cy="65.6" r="1.7"/><circle cx="160.4" cy="108.8" r="1.7"/><circle cx="151.8" cy="103.5" r="1.7"/><circle cx="142.8" cy="84.3" r="1.7"/><circle cx="172.8" cy="42.3" r="1.7"/><circle cx="185.8" cy="66.7" r="1.7"/><circle cx="166.9" cy="94.2" r="1.7"/><circle cx="183.6" cy="100.2" r="1.7"/><circle cx="146.0" cy="42.9" r="1.7"/><circle cx="179.4" cy="37.4" r="1.7"/><circle cx="190.1" cy="48.9" r="1.7"/><circle cx="150.0" cy="81.2" r="1.7"/><circle cx="183.8" cy="105.0" r="1.7"/><circle cx="176.8" cy="117.1" r="1.7"/><circle cx="186.4" cy="102.3" r="1.7"/><circle cx="193.5" cy="68.8" r="1.7"/><circle cx="136.9" cy="44.9" r="1.7"/><circle cx="170.4" cy="116.4" r="1.7"/><circle cx="175.6" cy="59.0" r="1.7"/><circle cx="156.6" cy="63.3" r="1.7"/><circle cx="185.2" cy="76.3" r="1.7"/><circle cx="173.8" cy="105.9" r="1.7"/><circle cx="150.6" cy="41.4" r="1.7"/><circle cx="154.0" cy="78.8" r="1.7"/><circle cx="159.1" cy="36.8" r="1.7"/><circle cx="138.4" cy="58.6" r="1.7"/><circle cx="146.6" cy="77.1" r="1.7"/><circle cx="190.3" cy="117.9" r="1.7"/><circle cx="192.4" cy="38.6" r="1.7"/><circle cx="145.7" cy="52.0" r="1.7"/><circle cx="153.5" cy="56.9" r="1.7"/><circle cx="166.4" cy="34.3" r="1.7"/><circle cx="186.1" cy="37.3" r="1.7"/><circle cx="159.9" cy="118.5" r="1.7"/><circle cx="145.8" cy="36.7" r="1.7"/><circle cx="165.3" cy="41.4" r="1.7"/><circle cx="179.1" cy="70.4" r="1.7"/><circle cx="150.4" cy="99.6" r="1.7"/><circle cx="189.9" cy="94.2" r="1.7"/><circle cx="152.8" cy="114.8" r="1.7"/><circle cx="175.0" cy="37.4" r="1.7"/></g><g fill="#00ff00"><circle cx="269.6" cy="81.1" r="1.7"/><circle cx="265.5" cy="73.2" r="1.7"/><circle cx="293.6" cy="40.1" r="1.7"/><circle cx="269.3" cy="109.2" r="1.7"/><circle cx="256.8" cy="42.5" r="1.7"/><circle cx="302.5" cy="91.5" r="1.7"/><circle cx="282.1" cy="107.3" r="1.7"/><circle cx="266.7" cy="33.3" r="1.7"/><circle cx="302.0" cy="88.1" r="1.7"/><circle cx="274.2" cy="83.0" r="1.7"/><circle cx="259.2" cy="59.9" r="1.7"/><circle cx="287.8" cy="106.0" r="1.7"/><circle cx="273.0" cy="38.1" r="1.7"/><circle cx="291.1" cy="94.0" r="1.7"/><circle cx="295.2" cy="108.7" r="1.7"/><circle cx="294.4" cy="91.0" r="1.7"/><circle cx="289.3" cy="90.6" r="1.7"/><circle cx="297.2" cy="117.4" r="1.7"/><circle cx="265.0" cy="88.6" r="1.7"/><circle cx="261.7" cy="50.7" r="1.7"/><circle cx="308.7" cy="67.9" r="1.7"/><circle cx="287.7" cy="51.2" r="1.7"/><circle cx="284.3" cy="34.9" r="1.7"/><circle cx="288.5" cy="115.5" r="1.7"/><circle cx="287.0" cy="60.6" r="1.7"/><circle cx="299.8" cy="66.5" r="1.7"/><circle cx="274.2" cy="80.3" r="1.7"/><circle cx="311.6" cy="96.5" r="1.7"/><circle cx="294.0" cy="43.9" r="1.7"/><circle cx="301.8" cy="69.5" r="1.7"/><circle cx="291.3" cy="81.4" r="1.7"/><circle cx="300.5" cy="35.6" r="1.7"/><circle cx="260.2" cy="57.2" r="1.7"/><circle cx="266.3" cy="91.9" r="1.7"/><circle cx="261.3" cy="40.8" r="1.7"/><circle cx="285.5" cy="38.6" r="1.7"/><circle cx="301.0" cy="61.4" r="1.7"/><circle cx="272.2" cy="84.6" r="1.7"/><circle cx="311.6" cy="57.4" r="1.7"/><circle cx="267.7" cy="64.8" r="1.7"/><circle cx="300.1" cy="113.7" r="1.7"/><circle cx="263.5" cy="35.4" r="1.7"/><circle cx="272.4" cy="60.6" r="1.7"/><circle cx="298.2" cy="91.8" r="1.7"/><circle cx="279.6" cy="114.5" r="1.7"/><circle cx="257.3" cy="34.7" r="1.7"/><circle cx="255.4" cy="103.6" r="1.7"/><circle cx="284.8" cy="93.1" r="1.7"/><circle cx="292.7" cy="103.3" r="1.7"/><circle cx="261.0" cy="68.5" r="1.7"/><circle cx="265.9" cy="113.1" r="1.7"/><circle cx="299.2" cy="57.5" r="1.7"/><circle cx="284.4" cy="73.5" r="1.7"/><circle cx="270.6" cy="86.1" r="1.7"/><circle cx="284.0" cy="115.6" r="1.7"/><circle cx="267.2" cy="89.0" r="1.7"/><circle cx="259.8" cy="80.0" r="1.7"/><circle cx="256.3" cy="118.1" r="1.7"/><circle cx="286.1" cy="83.1" r="1.7"/><circle cx="309.8" cy="83.5" r="1.7"/><circle cx="267.4" cy="70.0" r="1.7"/><circle cx="264.3" cy="66.6" r="1.7"/><circle cx="261.6" cy="77.0" r="1.7"/><circle cx="273.3" cy="48.4" r="1.7"/><circle cx="297.7" cy="85.8" r="1.7"/><circle cx="302.5" cy="46.8" r="1.7"/><circle cx="290.8" cy="55.6" r="1.7"/><circle cx="283.5" cy="71.5" r="1.7"/><circle cx="288.6" cy="82.3" r="1.7"/><circle cx="308.3" cy="87.0" r="1.7"/><circle cx="275.0" cy="101.7" r="1.7"/><circle cx="263.9" cy="100.0" r="1.7"/><circle cx="288.2" cy="55.4" r="1.7"/><circle cx="298.5" cy="42.7" r="1.7"/><circle cx="256.5" cy="56.4" r="1.7"/><circle cx="284.0" cy="87.5" r="1.7"/><circle cx="311.9" cy="119.4" r="1.7"/><circle cx="296.7" cy="59.0" r="1.7"/><circle cx="282.4" cy="102.9" r="1.7"/><circle cx="306.4" cy="115.3" r="1.7"/><circle cx="277.2" cy="62.1" r="1.7"/><circle cx="310.5" cy="81.6" r="1.7"/><circle cx="280.4" cy="90.6" r="1.7"/><circle cx="279.1" cy="82.2" r="1.7"/><circle cx="265.5" cy="41.4" r="1.7"/><circle cx="278.2" cy="56.1" r="1.7"/><circle cx="263.3" cy="116.5" r="1.7"/><circle cx="295.2" cy="66.5" r="1.7"/><circle cx="312.6" cy="42.1" r="1.7"/><circle cx="274.9" cy="109.4" r="1.7"/><circle cx="311.2" cy="101.5" r="1.7"/><circle cx="265.3" cy="81.9" r="1.7"/><circle cx="258.6" cy="38.3" r="1.7"/><circle cx="305.0" cy="33.0" r="1.7"/><circle cx="296.1" cy="87.3" r="1.7"/><circle cx="310.2" cy="51.1" r="1.7"/><circle cx="258.4" cy="88.9" r="1.7"/><circle cx="269.4" cy="35.7" r="1.7"/><circle cx="293.0" cy="98.0" r="1.7"/><circle cx="272.8" cy="46.5" r="1.7"/><circle cx="311.7" cy="54.0" r="1.7"/><circle cx="268.5" cy="54.1" r="1.7"/><circle cx="308.6" cy="39.9" r="1.7"/><circle cx="303.3" cy="79.2" r="1.7"/><circle cx="256.5" cy="45.9" r="1.7"/><circle cx="268.6" cy="58.1" r="1.7"/><circle cx="308.8" cy="96.7" r="1.7"/><circle cx="293.2" cy="112.9" r="1.7"/><circle cx="268.0" cy="61.4" r="1.7"/><circle cx="303.6" cy="71.0" r="1.7"/><circle cx="313.0" cy="109.8" r="1.7"/><circle cx="299.6" cy="71.5" r="1.7"/><circle cx="295.8" cy="52.4" r="1.7"/><circle cx="269.3" cy="50.5" r="1.7"/><circle cx="294.4" cy="115.0" r="1.7"/><circle cx="293.1" cy="63.2" r="1.7"/><circle cx="302.7" cy="74.9" r="1.7"/><circle cx="259.4" cy="64.1" r="1.7"/><circle cx="274.3" cy="72.5" r="1.7"/><circle cx="302.3" cy="82.5" r="1.7"/><circle cx="275.6" cy="47.6" r="1.7"/><circle cx="289.1" cy="38.4" r="1.7"/><circle cx="264.1" cy="106.4" r="1.7"/><circle cx="293.7" cy="78.3" r="1.7"/><circle cx="309.3" cy="44.3" r="1.7"/><circle cx="272.6" cy="76.8" r="1.7"/><circle cx="311.0" cy="39.7" r="1.7"/><circle cx="289.7" cy="112.5" r="1.7"/><circle cx="262.9" cy="93.9" r="1.7"/><circle cx="294.9" cy="64.1" r="1.7"/><circle cx="285.8" cy="113.9" r="1.7"/><circle cx="287.5" cy="35.6" r="1.7"/><circle cx="301.9" cy="37.3" r="1.7"/><circle cx="311.8" cy="117.0" r="1.7"/><circle cx="302.4" cy="110.4" r="1.7"/><circle cx="290.5" cy="59.3" r="1.7"/><circle cx="305.8" cy="99.6" r="1.7"/><circle cx="258.1" cy="99.7" r="1.7"/><circle cx="308.6" cy="93.8" r="1.7"/><circle cx="295.0" cy="55.7" r="1.7"/><circle cx="299.8" cy="50.3" r="1.7"/><circle cx="299.6" cy="40.3" r="1.7"/><circle cx="270.6" cy="96.7" r="1.7"/><circle cx="272.4" cy="57.6" r="1.7"/><circle cx="287.9" cy="44.8" r="1.7"/><circle cx="310.9" cy="35.1" r="1.7"/><circle cx="307.1" cy="97.9" r="1.7"/><circle cx="261.0" cy="37.7" r="1.7"/><circle cx="259.3" cy="96.9" r="1.7"/><circle cx="289.3" cy="42.2" r="1.7"/><circle cx="301.0" cy="100.2" r="1.7"/><circle cx="267.0" cy="117.8" r="1.7"/><circle cx="305.8" cy="92.7" r="1.7"/><circle cx="259.1" cy="67.0" r="1.7"/><circle cx="294.4" cy="71.8" r="1.7"/><circle cx="290.2" cy="48.7" r="1.7"/><circle cx="288.6" cy="70.1" r="1.7"/><circle cx="278.2" cy="109.8" r="1.7"/><circle cx="278.7" cy="46.0" r="1.7"/><circle cx="277.6" cy="108.0" r="1.7"/><circle cx="270.2" cy="77.8" r="1.7"/><circle cx="301.8" cy="65.6" r="1.7"/><circle cx="266.7" cy="50.8" r="1.7"/><circle cx="312.2" cy="114.6" r="1.7"/><circle cx="281.9" cy="56.3" r="1.7"/><circle cx="295.9" cy="37.4" r="1.7"/><circle cx="257.3" cy="61.8" r="1.7"/><circle cx="281.2" cy="33.3" r="1.7"/><circle cx="271.2" cy="118.1" r="1.7"/><circle cx="299.8" cy="37.9" r="1.7"/><circle cx="305.8" cy="73.2" r="1.7"/><circle cx="312.4" cy="60.7" r="1.7"/><circle cx="272.6" cy="91.7" r="1.7"/><circle cx="272.8" cy="104.3" r="1.7"/><circle cx="298.3" cy="98.1" r="1.7"/><circle cx="293.1" cy="52.8" r="1.7"/><circle cx="295.8" cy="48.0" r="1.7"/><circle cx="264.5" cy="43.9" r="1.7"/><circle cx="289.1" cy="117.4" r="1.7"/><circle cx="257.7" cy="71.3" r="1.7"/><circle cx="288.1" cy="75.3" r="1.7"/><circle cx="256.7" cy="93.6" r="1.7"/><circle cx="284.2" cy="82.5" r="1.7"/><circle cx="279.9" cy="112.0" r="1.7"/><circle cx="307.4" cy="117.3" r="1.7"/><circle cx="273.4" cy="111.0" r="1.7"/><circle cx="280.1" cy="50.0" r="1.7"/><circle cx="303.4" cy="77.0" r="1.7"/><circle cx="298.2" cy="34.1" r="1.7"/><circle cx="311.1" cy="72.2" r="1.7"/><circle cx="279.0" cy="92.2" r="1.7"/><circle cx="257.8" cy="79.3" r="1.7"/><circle cx="293.5" cy="65.7" r="1.7"/><circle cx="259.9" cy="107.0" r="1.7"/><circle cx="306.5" cy="62.8" r="1.7"/><circle cx="277.1" cy="67.8" r="1.7"/><circle cx="270.7" cy="114.2" r="1.7"/><circle cx="258.7" cy="45.6" r="1.7"/><circle cx="297.7" cy="66.1" r="1.7"/><circle cx="274.6" cy="93.3" r="1.7"/><circle cx="274.7" cy="99.2" r="1.7"/><circle cx="301.5" cy="40.9" r="1.7"/><circle cx="273.1" cy="117.3" r="1.7"/><circle cx="292.6" cy="107.1" r="1.7"/><circle cx="308.7" cy="55.8" r="1.7"/><circle cx="261.8" cy="87.6" r="1.7"/><circle cx="271.7" cy="98.9" r="1.7"/><circle cx="270.1" cy="60.0" r="1.7"/><circle cx="305.6" cy="47.0" r="1.7"/><circle cx="263.2" cy="59.1" r="1.7"/><circle cx="270.2" cy="92.2" r="1.7"/><circle cx="262.2" cy="118.3" r="1.7"/><circle cx="290.4" cy="107.0" r="1.7"/><circle cx="285.6" cy="52.0" r="1.7"/><circle cx="279.1" cy="85.4" r="1.7"/><circle cx="285.6" cy="100.7" r="1.7"/><circle cx="286.1" cy="66.1" r="1.7"/><circle cx="284.6" cy="77.9" r="1.7"/><circle cx="255.0" cy="61.3" r="1.7"/><circle cx="288.0" cy="94.6" r="1.7"/><circle cx="279.5" cy="97.5" r="1.7"/><circle cx="283.9" cy="64.9" r="1.7"/><circle cx="268.6" cy="102.0" r="1.7"/><circle cx="267.4" cy="94.0" r="1.7"/><circle cx="284.0" cy="113.0" r="1.7"/><circle cx="254.8" cy="99.8" r="1.7"/><circle cx="289.9" cy="33.5" r="1.7"/><circle cx="268.5" cy="43.4" r="1.7"/><circle cx="263.1" cy="91.8" r="1.7"/><circle cx="286.4" cy="97.2" r="1.7"/><circle cx="301.2" cy="51.7" r="1.7"/><circle cx="261.6" cy="90.2" r="1.7"/><circle cx="262.8" cy="57.1" r="1.7"/><circle cx="292.2" cy="42.9" r="1.7"/><circle cx="286.4" cy="46.6" r="1.7"/><circle cx="275.0" cy="60.8" r="1.7"/><circle cx="310.3" cy="79.7" r="1.7"/><circle cx="297.9" cy="77.9" r="1.7"/><circle cx="259.3" cy="83.7" r="1.7"/><circle cx="289.3" cy="84.5" r="1.7"/><circle cx="273.7" cy="35.5" r="1.7"/><circle cx="295.5" cy="77.6" r="1.7"/><circle cx="296.4" cy="71.4" r="1.7"/><circle cx="295.8" cy="89.6" r="1.7"/><circle cx="313.0" cy="83.8" r="1.7"/><circle cx="305.8" cy="84.9" r="1.7"/><circle cx="256.6" cy="87.1" r="1.7"/><circle cx="277.0" cy="70.1" r="1.7"/><circle cx="265.3" cy="84.4" r="1.7"/><circle cx="293.9" cy="110.1" r="1.7"/><circle cx="303.8" cy="117.8" r="1.7"/><circle cx="311.6" cy="93.5" r="1.7"/><circle cx="270.9" cy="79.6" r="1.7"/><circle cx="305.8" cy="36.1" r="1.7"/><circle cx="283.1" cy="51.8" r="1.7"/><circle cx="256.7" cy="74.4" r="1.7"/><circle cx="269.8" cy="39.8" r="1.7"/><circle cx="302.8" cy="54.1" r="1.7"/><circle cx="275.3" cy="38.1" r="1.7"/><circle cx="304.6" cy="42.3" r="1.7"/><circle cx="299.9" cy="78.6" r="1.7"/><circle cx="281.1" cy="39.8" r="1.7"/><circle cx="279.1" cy="34.3" r="1.7"/><circle cx="299.2" cy="94.1" r="1.7"/><circle cx="264.9" cy="94.5" r="1.7"/><circle cx="265.5" cy="47.8" r="1.7"/><circle cx="265.4" cy="110.6" r="1.7"/><circle cx="256.6" cy="101.6" r="1.7"/><circle cx="269.7" cy="66.1" r="1.7"/><circle cx="271.4" cy="89.1" r="1.7"/><circle cx="295.2" cy="97.9" r="1.7"/><circle cx="291.8" cy="110.3" r="1.7"/><circle cx="256.8" cy="95.8" r="1.7"/><circle cx="255.3" cy="39.7" r="1.7"/><circle cx="274.6" cy="40.7" r="1.7"/><circle cx="285.2" cy="44.3" r="1.7"/><circle cx="301.6" cy="108.3" r="1.7"/><circle cx="281.2" cy="64.0" r="1.7"/><circle cx="276.4" cy="42.7" r="1.7"/><circle cx="311.3" cy="88.7" r="1.7"/><circle cx="302.7" cy="72.9" r="1.7"/><circle cx="291.4" cy="77.1" r="1.7"/><circle cx="259.8" cy="75.0" r="1.7"/><circle cx="305.6" cy="102.2" r="1.7"/><circle cx="277.9" cy="74.6" r="1.7"/><circle cx="288.1" cy="103.1" r="1.7"/><circle cx="254.7" cy="48.5" r="1.7"/><circle cx="309.4" cy="36.7" r="1.7"/><circle cx="291.8" cy="117.7" r="1.7"/><circle cx="282.4" cy="110.7" r="1.7"/><circle cx="255.7" cy="66.1" r="1.7"/><circle cx="303.2" cy="57.0" r="1.7"/><circle cx="262.1" cy="42.8" r="1.7"/><circle cx="278.7" cy="116.4" r="1.7"/><circle cx="304.8" cy="109.2" r="1.7"/><circle cx="301.6" cy="115.4" r="1.7"/><circle cx="254.7" cy="90.2" r="1.7"/><circle cx="282.0" cy="119.2" r="1.7"/><circle cx="296.2" cy="33.6" r="1.7"/><circle cx="257.1" cy="107.1" r="1.7"/><circle cx="302.0" cy="84.6" r="1.7"/><circle cx="281.7" cy="59.8" r="1.7"/><circle cx="270.0" cy="70.7" r="1.7"/><circle cx="276.8" cy="98.2" r="1.7"/><circle cx="303.9" cy="64.2" r="1.7"/><circle cx="276.1" cy="105.5" r="1.7"/><circle cx="285.2" cy="90.6" r="1.7"/><circle cx="310.3" cy="110.6" r="1.7"/><circle cx="259.8" cy="72.6" r="1.7"/><circle cx="267.3" cy="40.9" r="1.7"/><circle cx="310.8" cy="106.4" r="1.7"/><circle cx="264.9" cy="104.1" r="1.7"/><circle cx="284.4" cy="41.5" r="1.7"/><circle cx="292.4" cy="101.2" r="1.7"/><circle cx="274.4" cy="70.0" r="1.7"/><circle cx="278.8" cy="101.1" r="1.7"/><circle cx="283.9" cy="105.1" r="1.7"/><circle cx="256.6" cy="112.0" r="1.7"/><circle cx="293.9" cy="50.5" r="1.7"/><circle cx="289.9" cy="86.4" r="1.7"/><circle cx="310.5" cy="99.4" r="1.7"/><circle cx="280.8" cy="117.4" r="1.7"/><circle cx="307.5" cy="105.0" r="1.7"/><circle cx="292.3" cy="61.1" r="1.7"/><circle cx="279.2" cy="57.9" r="1.7"/><circle cx="259.9" cy="54.4" r="1.7"/><circle cx="270.8" cy="41.5" r="1.7"/><circle cx="258.5" cy="117.5" r="1.7"/><circle cx="262.3" cy="112.0" r="1.7"/><circle cx="285.8" cy="68.7" r="1.7"/><circle cx="279.0" cy="95.5" r="1.7"/><circle cx="295.4" cy="75.6" r="1.7"/><circle cx="282.6" cy="80.8" r="1.7"/><circle cx="278.9" cy="76.6" r="1.7"/><circle cx="265.1" cy="117.4" r="1.7"/><circle cx="259.0" cy="95.0" r="1.7"/><circle cx="270.4" cy="62.1" r="1.7"/><circle cx="292.1" cy="84.0" r="1.7"/><circle cx="255.6" cy="81.4" r="1.7"/><circle cx="285.3" cy="63.0" r="1.7"/><circle cx="280.6" cy="62.0" r="1.7"/><circle cx="276.7" cy="89.3" r="1.7"/><circle cx="274.1" cy="106.6" r="1.7"/><circle cx="254.7" cy="115.6" r="1.7"/><circle cx="264.4" cy="49.6" r="1.7"/><circle cx="288.5" cy="97.0" r="1.7"/><circle cx="260.6" cy="92.8" r="1.7"/><circle cx="300.9" cy="95.2" r="1.7"/><circle cx="297.0" cy="63.6" r="1.7"/><circle cx="294.1" cy="59.9" r="1.7"/><circle cx="271.7" cy="54.9" r="1.7"/><circle cx="275.2" cy="64.7" r="1.7"/><circle cx="311.4" cy="69.4" r="1.7"/><circle cx="273.9" cy="113.9" r="1.7"/><circle cx="271.7" cy="49.5" r="1.7"/><circle cx="258.0" cy="76.5" r="1.7"/><circle cx="267.7" cy="111.2" r="1.7"/><circle cx="260.1" cy="102.7" r="1.7"/><circle cx="269.3" cy="74.9" r="1.7"/><circle cx="257.7" cy="51.6" r="1.7"/><circle cx="281.7" cy="98.5" r="1.7"/><circle cx="268.7" cy="118.7" r="1.7"/><circle cx="308.7" cy="78.1" r="1.7"/><circle cx="277.4" cy="78.5" r="1.7"/><circle cx="311.4" cy="75.1" r="1.7"/><circle cx="308.2" cy="33.6" r="1.7"/><circle cx="288.1" cy="92.6" r="1.7"/><circle cx="277.6" cy="39.9" r="1.7"/><circle cx="300.9" cy="98.1" r="1.7"/><circle cx="303.6" cy="100.1" r="1.7"/><circle cx="303.3" cy="103.8" r="1.7"/><circle cx="281.7" cy="66.7" r="1.7"/><circle cx="312.9" cy="73.8" r="1.7"/><circle cx="275.9" cy="87.3" r="1.7"/><circle cx="291.3" cy="68.1" r="1.7"/><circle cx="292.3" cy="89.7" r="1.7"/><circle cx="298.2" cy="47.3" r="1.7"/><circle cx="309.4" cy="59.8" r="1.7"/><circle cx="273.3" cy="74.3" r="1.7"/><circle cx="304.1" cy="111.4" r="1.7"/><circle cx="297.9" cy="83.3" r="1.7"/><circle cx="289.2" cy="57.1" r="1.7"/><circle cx="307.8" cy="108.9" r="1.7"/><circle cx="271.6" cy="82.0" r="1.7"/><circle cx="272.6" cy="66.3" r="1.7"/><circle cx="277.3" cy="65.2" r="1.7"/><circle cx="306.9" cy="79.6" r="1.7"/><circle cx="305.4" cy="68.1" r="1.7"/><circle cx="302.3" cy="60.0" r="1.7"/><circle cx="263.0" cy="54.5" r="1.7"/><circle cx="259.6" cy="90.5" r="1.7"/><circle cx="266.5" cy="101.5" r="1.7"/><circle cx="261.0" cy="99.7" r="1.7"/><circle cx="293.0" cy="46.5" r="1.7"/><circle cx="295.4" cy="40.9" r="1.7"/><circle cx="306.2" cy="39.2" r="1.7"/><circle cx="279.1" cy="68.3" r="1.7"/><circle cx="289.4" cy="100.8" r="1.7"/><circle cx="259.8" cy="35.1" r="1.7"/><circle cx="280.9" cy="109.3" r="1.7"/><circle cx="261.8" cy="52.7" r="1.7"/><circle cx="291.4" cy="57.5" r="1.7"/><circle cx="286.1" cy="70.6" r="1.7"/><circle cx="296.7" cy="50.2" r="1.7"/><circle cx="271.4" cy="44.8" r="1.7"/><circle cx="304.0" cy="96.4" r="1.7"/><circle cx="305.2" cy="49.7" r="1.7"/><circle cx="262.1" cy="85.4" r="1.7"/><circle cx="293.6" cy="93.0" r="1.7"/><circle cx="272.6" cy="108.3" r="1.7"/><circle cx="255.5" cy="69.9" r="1.7"/><circle cx="261.6" cy="66.4" r="1.7"/><circle cx="273.0" cy="100.5" r="1.7"/><circle cx="274.6" cy="45.3" r="1.7"/><circle cx="280.8" cy="93.0" r="1.7"/><circle cx="264.4" cy="119.3" r="1.7"/><circle cx="260.2" cy="112.7" r="1.7"/><circle cx="276.9" cy="113.9" r="1.7"/><circle cx="285.3" cy="110.9" r="1.7"/><circle cx="299.7" cy="82.0" r="1.7"/><circle cx="280.3" cy="70.8" r="1.7"/><circle cx="305.2" cy="54.0" r="1.7"/><circle cx="299.3" cy="110.2" r="1.7"/><circle cx="308.2" cy="47.9" r="1.7"/><circle cx="286.1" cy="79.4" r="1.7"/><circle cx="307.3" cy="60.1" r="1.7"/><circle cx="312.3" cy="49.5" r="1.7"/><circle cx="277.3" cy="50.3" r="1.7"/><circle cx="255.8" cy="109.6" r="1.7"/><circle cx="290.6" cy="74.3" r="1.7"/></g><g fill="#0000ff"><circle cx="406.3" cy="64.0" r="1.7"/><circle cx="374.4" cy="88.3" r="1.7"/><circle cx="389.4" cy="108.8" r="1.7"/><circle cx="385.2" cy="52.1" r="1.7"/><circle cx="377.0" cy="55.0" r="1.7"/><circle cx="380.1" cy="78.1" r="1.7"/><circle cx="387.9" cy="116.9" r="1.7"/><circle cx="378.1" cy="114.3" r="1.7"/><circle cx="385.7" cy="74.7" r="1.7"/><circle cx="421.9" cy="100.5" r="1.7"/><circle cx="421.2" cy="79.5" r="1.7"/><circle cx="384.7" cy="91.3" r="1.7"/><circle cx="406.0" cy="36.4" r="1.7"/><circle cx="372.5" cy="114.8" r="1.7"/><circle cx="408.1" cy="104.2" r="1.7"/><circle cx="377.2" cy="117.3" r="1.7"/><circle cx="383.7" cy="45.0" r="1.7"/><circle cx="387.1" cy="63.3" r="1.7"/><circle cx="369.6" cy="106.2" r="1.7"/><circle cx="416.7" cy="49.9" r="1.7"/><circle cx="398.2" cy="108.3" r="1.7"/><circle cx="388.2" cy="76.9" r="1.7"/><circle cx="380.4" cy="73.4" r="1.7"/><circle cx="384.4" cy="104.3" r="1.7"/><circle cx="375.5" cy="35.7" r="1.7"/><circle cx="418.5" cy="47.8" r="1.7"/><circle cx="398.1" cy="94.3" r="1.7"/><circle cx="385.2" cy="113.3" r="1.7"/><circle cx="385.9" cy="49.9" r="1.7"/><circle cx="370.1" cy="110.8" r="1.7"/><circle cx="378.8" cy="110.6" r="1.7"/><circle cx="392.7" cy="113.7" r="1.7"/><circle cx="423.1" cy="94.4" r="1.7"/><circle cx="374.0" cy="119.3" r="1.7"/><circle cx="412.7" cy="51.0" r="1.7"/><circle cx="422.6" cy="40.3" r="1.7"/><circle cx="373.8" cy="34.1" r="1.7"/><circle cx="400.6" cy="67.8" r="1.7"/><circle cx="371.2" cy="75.6" r="1.7"/><circle cx="417.4" cy="40.8" r="1.7"/><circle cx="403.3" cy="47.4" r="1.7"/><circle cx="395.9" cy="62.5" r="1.7"/><circle cx="382.3" cy="33.9" r="1.7"/><circle cx="399.8" cy="71.3" r="1.7"/><circle cx="406.4" cy="48.8" r="1.7"/><circle cx="423.3" cy="34.5" r="1.7"/><circle cx="377.6" cy="88.4" r="1.7"/><circle cx="374.0" cy="55.4" r="1.7"/><circle cx="395.4" cy="98.4" r="1.7"/><circle cx="416.4" cy="60.3" r="1.7"/><circle cx="404.4" cy="34.8" r="1.7"/><circle cx="417.9" cy="91.0" r="1.7"/><circle cx="418.6" cy="51.1" r="1.7"/><circle cx="367.7" cy="105.7" r="1.7"/><circle cx="407.3" cy="101.1" r="1.7"/><circle cx="375.7" cy="100.2" r="1.7"/><circle cx="399.2" cy="45.8" r="1.7"/><circle cx="373.9" cy="107.2" r="1.7"/><circle cx="389.4" cy="56.4" r="1.7"/><circle cx="387.6" cy="92.2" r="1.7"/><circle cx="374.2" cy="46.9" r="1.7"/><circle cx="403.9" cy="110.3" r="1.7"/><circle cx="405.2" cy="114.7" r="1.7"/><circle cx="382.7" cy="63.5" r="1.7"/><circle cx="381.8" cy="101.5" r="1.7"/><circle cx="382.7" cy="68.9" r="1.7"/><circle cx="393.7" cy="119.2" r="1.7"/><circle cx="385.3" cy="102.2" r="1.7"/><circle cx="388.8" cy="34.7" r="1.7"/><circle cx="381.6" cy="58.2" r="1.7"/><circle cx="366.4" cy="96.2" r="1.7"/><circle cx="398.0" cy="88.0" r="1.7"/><circle cx="399.3" cy="65.9" r="1.7"/><circle cx="392.9" cy="74.1" r="1.7"/><circle cx="419.5" cy="63.0" r="1.7"/><circle cx="375.1" cy="40.1" r="1.7"/><circle cx="385.8" cy="82.4" r="1.7"/><circle cx="400.1" cy="95.9" r="1.7"/><circle cx="404.5" cy="40.1" r="1.7"/><circle cx="388.9" cy="64.9" r="1.7"/><circle cx="372.8" cy="83.8" r="1.7"/><circle cx="411.2" cy="36.6" r="1.7"/><circle cx="397.0" cy="43.2" r="1.7"/><circle cx="411.3" cy="81.2" r="1.7"/><circle cx="370.1" cy="77.5" r="1.7"/><circle cx="380.2" cy="50.8" r="1.7"/><circle cx="405.0" cy="67.9" r="1.7"/><circle cx="420.1" cy="112.3" r="1.7"/><circle cx="415.8" cy="68.4" r="1.7"/><circle cx="418.7" cy="39.1" r="1.7"/><circle cx="411.3" cy="63.9" r="1.7"/><circle cx="416.5" cy="35.4" r="1.7"/><circle cx="399.6" cy="38.9" r="1.7"/><circle cx="383.4" cy="81.8" r="1.7"/><circle cx="374.3" cy="93.0" r="1.7"/><circle cx="396.0" cy="52.2" r="1.7"/><circle cx="397.5" cy="71.5" r="1.7"/><circle cx="368.2" cy="94.3" r="1.7"/><circle cx="407.7" cy="111.7" r="1.7"/><circle cx="420.9" cy="64.9" r="1.7"/><circle cx="403.6" cy="85.5" r="1.7"/><circle cx="402.3" cy="76.6" r="1.7"/><circle cx="382.5" cy="108.5" r="1.7"/><circle cx="420.6" cy="94.7" r="1.7"/><circle cx="417.6" cy="99.3" r="1.7"/><circle cx="404.2" cy="97.6" r="1.7"/><circle cx="408.6" cy="48.4" r="1.7"/><circle cx="393.0" cy="62.3" r="1.7"/><circle cx="403.0" cy="88.2" r="1.7"/><circle cx="418.6" cy="105.6" r="1.7"/><circle cx="370.0" cy="47.8" r="1.7"/><circle cx="410.1" cy="98.9" r="1.7"/><circle cx="401.5" cy="109.5" r="1.7"/><circle cx="379.9" cy="108.1" r="1.7"/><circle cx="417.4" cy="85.4" r="1.7"/><circle cx="404.6" cy="52.7" r="1.7"/><circle cx="394.8" cy="83.7" r="1.7"/><circle cx="384.6" cy="36.5" r="1.7"/><circle cx="421.3" cy="102.7" r="1.7"/><circle cx="387.4" cy="78.9" r="1.7"/><circle cx="400.6" cy="115.9" r="1.7"/><circle cx="412.9" cy="41.5" r="1.7"/><circle cx="400.0" cy="113.4" r="1.7"/><circle cx="414.1" cy="112.7" r="1.7"/><circle cx="399.9" cy="73.5" r="1.7"/><circle cx="367.4" cy="44.6" r="1.7"/><circle cx="394.7" cy="72.8" r="1.7"/><circle cx="370.3" cy="62.3" r="1.7"/><circle cx="392.0" cy="35.8" r="1.7"/><circle cx="368.2" cy="53.2" r="1.7"/><circle cx="407.8" cy="114.0" r="1.7"/><circle cx="410.1" cy="39.5" r="1.7"/><circle cx="414.1" cy="103.9" r="1.7"/><circle cx="415.2" cy="95.9" r="1.7"/><circle cx="381.4" cy="75.7" r="1.7"/><circle cx="397.6" cy="55.8" r="1.7"/><circle cx="421.5" cy="90.6" r="1.7"/><circle cx="413.2" cy="35.6" r="1.7"/><circle cx="393.0" cy="54.7" r="1.7"/><circle cx="394.5" cy="80.5" r="1.7"/><circle cx="391.4" cy="60.4" r="1.7"/><circle cx="369.4" cy="92.5" r="1.7"/><circle cx="386.8" cy="39.8" r="1.7"/><circle cx="390.4" cy="115.2" r="1.7"/><circle cx="396.4" cy="110.7" r="1.7"/><circle cx="372.6" cy="91.9" r="1.7"/><circle cx="387.3" cy="108.6" r="1.7"/><circle cx="386.0" cy="55.6" r="1.7"/><circle cx="390.3" cy="102.4" r="1.7"/><circle cx="370.4" cy="54.0" r="1.7"/><circle cx="369.3" cy="100.0" r="1.7"/><circle cx="373.2" cy="77.0" r="1.7"/><circle cx="420.8" cy="41.1" r="1.7"/><circle cx="416.4" cy="43.3" r="1.7"/><circle cx="403.4" cy="60.6" r="1.7"/><circle cx="407.0" cy="45.7" r="1.7"/><circle cx="417.4" cy="82.7" r="1.7"/><circle cx="421.1" cy="84.5" r="1.7"/><circle cx="401.8" cy="58.3" r="1.7"/><circle cx="403.3" cy="119.3" r="1.7"/><circle cx="401.6" cy="105.1" r="1.7"/><circle cx="386.8" cy="33.8" r="1.7"/><circle cx="369.0" cy="34.4" r="1.7"/><circle cx="378.9" cy="56.3" r="1.7"/><circle cx="409.9" cy="106.9" r="1.7"/><circle cx="408.1" cy="72.6" r="1.7"/><circle cx="390.2" cy="39.9" r="1.7"/><circle cx="389.4" cy="38.0" r="1.7"/><circle cx="424.1" cy="79.8" r="1.7"/><circle cx="420.2" cy="76.7" r="1.7"/><circle cx="396.7" cy="113.7" r="1.7"/><circle cx="389.0" cy="89.1" r="1.7"/><circle cx="406.1" cy="103.3" r="1.7"/><circle cx="418.0" cy="33.5" r="1.7"/><circle cx="404.9" cy="45.0" r="1.7"/><circle cx="397.5" cy="66.4" r="1.7"/><circle cx="383.0" cy="53.6" r="1.7"/><circle cx="371.3" cy="65.5" r="1.7"/><circle cx="372.1" cy="86.9" r="1.7"/><circle cx="384.9" cy="99.3" r="1.7"/><circle cx="420.6" cy="109.7" r="1.7"/><circle cx="371.6" cy="117.1" r="1.7"/><circle cx="399.7" cy="79.9" r="1.7"/><circle cx="393.5" cy="43.4" r="1.7"/><circle cx="373.9" cy="116.9" r="1.7"/><circle cx="400.0" cy="98.3" r="1.7"/><circle cx="412.9" cy="93.1" r="1.7"/><circle cx="392.0" cy="57.1" r="1.7"/><circle cx="369.3" cy="86.9" r="1.7"/><circle cx="417.9" cy="111.2" r="1.7"/><circle cx="420.9" cy="45.0" r="1.7"/><circle cx="419.5" cy="97.7" r="1.7"/><circle cx="422.6" cy="118.1" r="1.7"/><circle cx="396.7" cy="59.9" r="1.7"/><circle cx="419.5" cy="60.0" r="1.7"/><circle cx="374.5" cy="72.4" r="1.7"/><circle cx="409.6" cy="69.9" r="1.7"/><circle cx="418.2" cy="44.5" r="1.7"/><circle cx="375.9" cy="43.1" r="1.7"/><circle cx="406.2" cy="81.7" r="1.7"/><circle cx="406.4" cy="93.7" r="1.7"/><circle cx="411.9" cy="74.3" r="1.7"/><circle cx="399.4" cy="54.6" r="1.7"/><circle cx="395.3" cy="40.6" r="1.7"/><circle cx="416.0" cy="74.2" r="1.7"/><circle cx="386.8" cy="90.1" r="1.7"/><circle cx="387.3" cy="103.5" r="1.7"/><circle cx="371.1" cy="43.1" r="1.7"/><circle cx="399.4" cy="82.1" r="1.7"/><circle cx="385.2" cy="106.5" r="1.7"/><circle cx="407.3" cy="106.2" r="1.7"/><circle cx="403.2" cy="42.0" r="1.7"/><circle cx="407.7" cy="75.8" r="1.7"/><circle cx="381.5" cy="43.7" r="1.7"/><circle cx="366.9" cy="80.0" r="1.7"/><circle cx="396.6" cy="35.0" r="1.7"/><circle cx="396.0" cy="81.7" r="1.7"/><circle cx="369.9" cy="45.1" r="1.7"/><circle cx="388.4" cy="100.4" r="1.7"/><circle cx="386.1" cy="67.7" r="1.7"/><circle cx="411.2" cy="77.3" r="1.7"/><circle cx="410.7" cy="60.1" r="1.7"/><circle cx="405.5" cy="76.8" r="1.7"/><circle cx="401.0" cy="44.0" r="1.7"/><circle cx="373.5" cy="79.7" r="1.7"/><circle cx="396.4" cy="90.7" r="1.7"/><circle cx="387.5" cy="59.5" r="1.7"/><circle cx="416.3" cy="89.8" r="1.7"/><circle cx="388.6" cy="114.2" r="1.7"/><circle cx="401.4" cy="33.3" r="1.7"/><circle cx="418.9" cy="114.5" r="1.7"/><circle cx="378.8" cy="62.5" r="1.7"/><circle cx="383.7" cy="49.0" r="1.7"/><circle cx="366.6" cy="51.9" r="1.7"/><circle cx="404.1" cy="100.5" r="1.7"/><circle cx="391.9" cy="38.1" r="1.7"/><circle cx="404.0" cy="62.5" r="1.7"/><circle cx="403.1" cy="65.2" r="1.7"/><circle cx="407.3" cy="58.5" r="1.7"/><circle cx="412.1" cy="52.9" r="1.7"/><circle cx="370.4" cy="36.2" r="1.7"/><circle cx="401.0" cy="60.8" r="1.7"/><circle cx="391.8" cy="108.2" r="1.7"/><circle cx="419.8" cy="36.6" r="1.7"/><circle cx="377.2" cy="65.9" r="1.7"/><circle cx="417.7" cy="77.8" r="1.7"/><circle cx="424.2" cy="90.1" r="1.7"/><circle cx="377.0" cy="46.4" r="1.7"/><circle cx="387.7" cy="50.8" r="1.7"/><circle cx="419.0" cy="55.7" r="1.7"/><circle cx="383.7" cy="75.6" r="1.7"/><circle cx="413.3" cy="67.8" r="1.7"/><circle cx="413.2" cy="106.8" r="1.7"/><circle cx="371.5" cy="60.1" r="1.7"/><circle cx="414.5" cy="98.3" r="1.7"/><circle cx="373.7" cy="63.7" r="1.7"/><circle cx="374.4" cy="52.8" r="1.7"/><circle cx="408.7" cy="81.9" r="1.7"/><circle cx="419.7" cy="52.7" r="1.7"/><circle cx="402.3" cy="69.3" r="1.7"/><circle cx="380.1" cy="99.4" r="1.7"/><circle cx="413.3" cy="95.1" r="1.7"/><circle cx="419.0" cy="67.3" r="1.7"/><circle cx="396.0" cy="118.0" r="1.7"/><circle cx="393.3" cy="67.2" r="1.7"/><circle cx="420.3" cy="71.9" r="1.7"/><circle cx="373.5" cy="100.4" r="1.7"/><circle cx="366.7" cy="89.3" r="1.7"/><circle cx="391.0" cy="79.7" r="1.7"/><circle cx="393.6" cy="45.6" r="1.7"/><circle cx="370.6" cy="96.9" r="1.7"/><circle cx="367.8" cy="59.0" r="1.7"/><circle cx="415.4" cy="82.3" r="1.7"/><circle cx="420.3" cy="107.5" r="1.7"/><circle cx="378.1" cy="36.5" r="1.7"/><circle cx="369.0" cy="75.4" r="1.7"/><circle cx="414.5" cy="88.3" r="1.7"/><circle cx="370.8" cy="85.1" r="1.7"/><circle cx="380.4" cy="36.4" r="1.7"/><circle cx="400.9" cy="56.3" r="1.7"/><circle cx="394.8" cy="89.0" r="1.7"/><circle cx="379.9" cy="60.2" r="1.7"/><circle cx="393.1" cy="93.2" r="1.7"/><circle cx="424.1" cy="83.1" r="1.7"/><circle cx="368.3" cy="84.9" r="1.7"/><circle cx="391.1" cy="49.4" r="1.7"/><circle cx="372.3" cy="105.8" r="1.7"/><circle cx="422.4" cy="112.1" r="1.7"/><circle cx="383.3" cy="85.3" r="1.7"/><circle cx="402.0" cy="49.3" r="1.7"/><circle cx="367.8" cy="98.6" r="1.7"/><circle cx="375.0" cy="65.4" r="1.7"/><circle cx="389.8" cy="93.1" r="1.7"/><circle cx="409.0" cy="53.6" r="1.7"/><circle cx="419.4" cy="42.6" r="1.7"/><circle cx="390.1" cy="66.6" r="1.7"/><circle cx="383.9" cy="79.3" r="1.7"/><circle cx="396.7" cy="101.7" r="1.7"/><circle cx="378.6" cy="33.9" r="1.7"/><circle cx="371.7" cy="100.7" r="1.7"/><circle cx="369.6" cy="56.2" r="1.7"/><circle cx="388.5" cy="46.5" r="1.7"/><circle cx="367.7" cy="111.6" r="1.7"/><circle cx="381.0" cy="114.3" r="1.7"/><circle cx="367.5" cy="82.4" r="1.7"/><circle cx="419.9" cy="70.0" r="1.7"/><circle cx="367.2" cy="63.1" r="1.7"/><circle cx="408.3" cy="117.8" r="1.7"/><circle cx="384.8" cy="64.3" r="1.7"/><circle cx="395.4" cy="74.8" r="1.7"/><circle cx="372.1" cy="44.8" r="1.7"/><circle cx="380.2" cy="70.5" r="1.7"/><circle cx="422.7" cy="68.6" r="1.7"/><circle cx="408.6" cy="92.2" r="1.7"/><circle cx="367.4" cy="108.4" r="1.7"/><circle cx="378.9" cy="84.1" r="1.7"/><circle cx="376.8" cy="85.6" r="1.7"/><circle cx="410.9" cy="84.3" r="1.7"/><circle cx="414.9" cy="65.9" r="1.7"/><circle cx="405.0" cy="71.6" r="1.7"/><circle cx="406.7" cy="41.6" r="1.7"/><circle cx="370.3" cy="108.2" r="1.7"/><circle cx="399.7" cy="106.3" r="1.7"/><circle cx="371.9" cy="94.8" r="1.7"/><circle cx="415.3" cy="48.5" r="1.7"/><circle cx="410.8" cy="87.2" r="1.7"/><circle cx="395.3" cy="47.1" r="1.7"/><circle cx="377.3" cy="41.4" r="1.7"/><circle cx="416.5" cy="58.0" r="1.7"/><circle cx="390.5" cy="74.2" r="1.7"/><circle cx="395.6" cy="96.0" r="1.7"/><circle cx="379.3" cy="95.1" r="1.7"/><circle cx="389.4" cy="119.0" r="1.7"/><circle cx="378.0" cy="73.3" r="1.7"/><circle cx="375.9" cy="96.3" r="1.7"/><circle cx="422.2" cy="74.0" r="1.7"/><circle cx="401.2" cy="100.3" r="1.7"/><circle cx="381.8" cy="98.2" r="1.7"/><circle cx="391.4" cy="53.1" r="1.7"/><circle cx="378.5" cy="97.7" r="1.7"/><circle cx="407.9" cy="96.6" r="1.7"/><circle cx="395.7" cy="49.3" r="1.7"/><circle cx="386.4" cy="96.6" r="1.7"/><circle cx="416.6" cy="109.5" r="1.7"/><circle cx="399.5" cy="76.5" r="1.7"/><circle cx="372.6" cy="53.6" r="1.7"/><circle cx="379.3" cy="102.4" r="1.7"/><circle cx="366.8" cy="61.0" r="1.7"/><circle cx="369.6" cy="81.6" r="1.7"/><circle cx="382.8" cy="66.5" r="1.7"/><circle cx="419.8" cy="87.4" r="1.7"/><circle cx="382.8" cy="72.0" r="1.7"/><circle cx="423.2" cy="108.0" r="1.7"/><circle cx="422.4" cy="52.7" r="1.7"/><circle cx="379.0" cy="42.4" r="1.7"/><circle cx="403.2" cy="78.6" r="1.7"/><circle cx="415.9" cy="93.0" r="1.7"/><circle cx="405.6" cy="91.0" r="1.7"/><circle cx="411.3" cy="103.3" r="1.7"/><circle cx="405.9" cy="60.6" r="1.7"/><circle cx="366.3" cy="84.8" r="1.7"/><circle cx="416.4" cy="112.5" r="1.7"/><circle cx="376.5" cy="77.5" r="1.7"/><circle cx="407.4" cy="88.6" r="1.7"/><circle cx="387.1" cy="36.1" r="1.7"/><circle cx="380.7" cy="106.0" r="1.7"/><circle cx="368.3" cy="42.1" r="1.7"/><circle cx="410.9" cy="109.4" r="1.7"/><circle cx="376.7" cy="83.1" r="1.7"/><circle cx="392.1" cy="90.0" r="1.7"/><circle cx="372.6" cy="68.6" r="1.7"/><circle cx="398.5" cy="117.3" r="1.7"/><circle cx="383.7" cy="42.8" r="1.7"/><circle cx="402.9" cy="81.7" r="1.7"/><circle cx="393.8" cy="95.3" r="1.7"/><circle cx="393.3" cy="100.4" r="1.7"/><circle cx="383.0" cy="61.2" r="1.7"/><circle cx="421.7" cy="38.2" r="1.7"/><circle cx="373.3" cy="59.1" r="1.7"/><circle cx="394.6" cy="35.2" r="1.7"/><circle cx="424.0" cy="63.4" r="1.7"/><circle cx="422.8" cy="48.8" r="1.7"/><circle cx="374.6" cy="83.0" r="1.7"/><circle cx="367.4" cy="113.8" r="1.7"/><circle cx="391.3" cy="82.7" r="1.7"/><circle cx="395.9" cy="36.9" r="1.7"/><circle cx="391.1" cy="71.3" r="1.7"/><circle cx="423.8" cy="88.0" r="1.7"/><circle cx="411.7" cy="71.4" r="1.7"/><circle cx="369.7" cy="50.2" r="1.7"/><circle cx="415.4" cy="78.2" r="1.7"/><circle cx="385.9" cy="45.3" r="1.7"/><circle cx="378.2" cy="69.9" r="1.7"/><circle cx="406.8" cy="54.2" r="1.7"/><circle cx="373.1" cy="40.7" r="1.7"/><circle cx="380.9" cy="47.0" r="1.7"/><circle cx="381.2" cy="93.1" r="1.7"/><circle cx="416.1" cy="103.9" r="1.7"/><circle cx="404.4" cy="55.2" r="1.7"/><circle cx="388.9" cy="83.7" r="1.7"/><circle cx="411.8" cy="117.9" r="1.7"/><circle cx="404.5" cy="92.9" r="1.7"/><circle cx="373.3" cy="36.9" r="1.7"/><circle cx="376.0" cy="90.9" r="1.7"/><circle cx="413.5" cy="78.6" r="1.7"/><circle cx="402.2" cy="73.6" r="1.7"/><circle cx="388.7" cy="96.2" r="1.7"/><circle cx="401.1" cy="64.9" r="1.7"/><circle cx="372.7" cy="97.4" r="1.7"/><circle cx="377.9" cy="104.3" r="1.7"/><circle cx="401.2" cy="91.9" r="1.7"/><circle cx="406.4" cy="34.1" r="1.7"/><circle cx="423.1" cy="72.1" r="1.7"/><circle cx="383.1" cy="38.7" r="1.7"/><circle cx="370.9" cy="69.4" r="1.7"/><circle cx="407.4" cy="78.3" r="1.7"/><circle cx="390.8" cy="106.4" r="1.7"/><circle cx="367.0" cy="75.4" r="1.7"/><circle cx="393.0" cy="41.4" r="1.7"/><circle cx="414.4" cy="70.6" r="1.7"/><circle cx="388.3" cy="111.6" r="1.7"/><circle cx="416.1" cy="38.6" r="1.7"/><circle cx="395.3" cy="105.4" r="1.7"/><circle cx="412.3" cy="46.4" r="1.7"/><circle cx="409.7" cy="76.0" r="1.7"/><circle cx="369.1" cy="69.8" r="1.7"/><circle cx="405.0" cy="107.0" r="1.7"/><circle cx="385.7" cy="87.0" r="1.7"/><circle cx="369.1" cy="101.9" r="1.7"/><circle cx="376.1" cy="68.9" r="1.7"/></g><g fill="#000000"><circle cx="486.7" cy="71.1" r="1.7"/><circle cx="490.4" cy="40.2" r="1.7"/><circle cx="468.8" cy="42.2" r="1.7"/><circle cx="491.3" cy="67.0" r="1.7"/><circle cx="491.9" cy="98.4" r="1.7"/><circle cx="449.8" cy="86.7" r="1.7"/><circle cx="495.2" cy="112.2" r="1.7"/><circle cx="452.8" cy="40.8" r="1.7"/><circle cx="473.9" cy="97.9" r="1.7"/><circle cx="454.2" cy="119.2" r="1.7"/><circle cx="489.8" cy="34.1" r="1.7"/><circle cx="491.6" cy="70.1" r="1.7"/><circle cx="458.0" cy="90.3" r="1.7"/><circle cx="489.9" cy="86.7" r="1.7"/><circle cx="462.6" cy="48.6" r="1.7"/><circle cx="451.1" cy="47.4" r="1.7"/><circle cx="468.9" cy="62.1" r="1.7"/><circle cx="451.7" cy="106.0" r="1.7"/><circle cx="458.7" cy="39.8" r="1.7"/><circle cx="460.0" cy="71.1" r="1.7"/><circle cx="484.6" cy="39.9" r="1.7"/><circle cx="456.5" cy="35.1" r="1.7"/><circle cx="471.2" cy="119.4" r="1.7"/><circle cx="493.8" cy="106.7" r="1.7"/><circle cx="501.7" cy="52.0" r="1.7"/><circle cx="485.9" cy="69.0" r="1.7"/><circle cx="469.1" cy="98.6" r="1.7"/><circle cx="480.9" cy="86.8" r="1.7"/><circle cx="463.6" cy="114.3" r="1.7"/><circle cx="486.4" cy="87.4" r="1.7"/><circle cx="492.6" cy="112.0" r="1.7"/><circle cx="458.0" cy="55.7" r="1.7"/><circle cx="505.2" cy="91.2" r="1.7"/><circle cx="500.2" cy="61.6" r="1.7"/><circle cx="506.0" cy="70.2" r="1.7"/><circle cx="478.2" cy="68.9" r="1.7"/><circle cx="477.1" cy="44.0" r="1.7"/><circle cx="451.8" cy="114.8" r="1.7"/><circle cx="482.5" cy="54.4" r="1.7"/><circle cx="497.3" cy="63.9" r="1.7"/><circle cx="448.6" cy="90.5" r="1.7"/><circle cx="506.5" cy="96.7" r="1.7"/><circle cx="504.5" cy="41.7" r="1.7"/><circle cx="464.9" cy="100.1" r="1.7"/><circle cx="475.0" cy="48.3" r="1.7"/><circle cx="467.9" cy="57.6" r="1.7"/><circle cx="489.2" cy="99.8" r="1.7"/><circle cx="491.1" cy="90.7" r="1.7"/><circle cx="463.2" cy="57.0" r="1.7"/><circle cx="505.7" cy="109.1" r="1.7"/><circle cx="486.9" cy="101.6" r="1.7"/><circle cx="485.7" cy="59.6" r="1.7"/><circle cx="453.4" cy="62.2" r="1.7"/><circle cx="495.5" cy="44.9" r="1.7"/><circle cx="450.3" cy="53.2" r="1.7"/><circle cx="494.0" cy="109.3" r="1.7"/><circle cx="475.9" cy="92.4" r="1.7"/><circle cx="497.4" cy="110.6" r="1.7"/><circle cx="475.5" cy="58.9" r="1.7"/><circle cx="503.1" cy="93.5" r="1.7"/><circle cx="469.1" cy="47.0" r="1.7"/><circle cx="471.0" cy="71.3" r="1.7"/><circle cx="495.8" cy="93.7" r="1.7"/><circle cx="477.8" cy="111.5" r="1.7"/><circle cx="482.2" cy="107.7" r="1.7"/><circle cx="498.5" cy="96.6" r="1.7"/><circle cx="462.9" cy="43.3" r="1.7"/><circle cx="451.8" cy="60.6" r="1.7"/><circle cx="500.0" cy="49.5" r="1.7"/><circle cx="462.3" cy="104.9" r="1.7"/><circle cx="458.5" cy="53.6" r="1.7"/><circle cx="491.8" cy="107.1" r="1.7"/><circle cx="503.4" cy="36.7" r="1.7"/><circle cx="467.1" cy="85.8" r="1.7"/><circle cx="467.2" cy="97.1" r="1.7"/><circle cx="460.9" cy="85.2" r="1.7"/><circle cx="457.2" cy="45.9" r="1.7"/><circle cx="494.8" cy="87.2" r="1.7"/><circle cx="481.2" cy="65.4" r="1.7"/><circle cx="487.5" cy="115.4" r="1.7"/><circle cx="469.8" cy="36.9" r="1.7"/><circle cx="462.8" cy="100.5" r="1.7"/><circle cx="469.2" cy="79.0" r="1.7"/><circle cx="469.8" cy="84.3" r="1.7"/><circle cx="491.4" cy="93.6" r="1.7"/><circle cx="473.1" cy="36.0" r="1.7"/><circle cx="496.6" cy="42.1" r="1.7"/><circle cx="470.0" cy="101.2" r="1.7"/><circle cx="454.3" cy="116.4" r="1.7"/><circle cx="450.4" cy="36.0" r="1.7"/><circle cx="485.5" cy="108.7" r="1.7"/><circle cx="484.3" cy="99.2" r="1.7"/><circle cx="476.8" cy="94.4" r="1.7"/><circle cx="475.3" cy="41.7" r="1.7"/><circle cx="459.7" cy="44.1" r="1.7"/><circle cx="468.1" cy="67.7" r="1.7"/><circle cx="459.3" cy="47.0" r="1.7"/><circle cx="474.3" cy="33.9" r="1.7"/><circle cx="455.5" cy="43.2" r="1.7"/><circle cx="497.7" cy="103.5" r="1.7"/><circle cx="505.9" cy="102.7" r="1.7"/><circle cx="477.5" cy="66.9" r="1.7"/><circle cx="506.1" cy="61.9" r="1.7"/><circle cx="501.1" cy="115.2" r="1.7"/><circle cx="504.1" cy="87.1" r="1.7"/><circle cx="484.0" cy="119.2" r="1.7"/><circle cx="472.1" cy="100.1" r="1.7"/><circle cx="452.3" cy="53.5" r="1.7"/><circle cx="477.4" cy="96.6" r="1.7"/><circle cx="458.2" cy="103.8" r="1.7"/><circle cx="481.6" cy="44.6" r="1.7"/><circle cx="449.9" cy="67.3" r="1.7"/><circle cx="496.3" cy="117.5" r="1.7"/><circle cx="492.6" cy="52.3" r="1.7"/><circle cx="500.7" cy="46.4" r="1.7"/><circle cx="471.1" cy="90.8" r="1.7"/><circle cx="473.2" cy="111.2" r="1.7"/><circle cx="479.6" cy="115.7" r="1.7"/><circle cx="477.7" cy="101.3" r="1.7"/><circle cx="492.0" cy="73.2" r="1.7"/><circle cx="472.4" cy="72.7" r="1.7"/><circle cx="452.5" cy="67.2" r="1.7"/><circle cx="456.4" cy="117.6" r="1.7"/><circle cx="471.7" cy="33.2" r="1.7"/><circle cx="486.7" cy="94.8" r="1.7"/><circle cx="503.7" cy="54.0" r="1.7"/><circle cx="502.9" cy="119.2" r="1.7"/><circle cx="448.1" cy="66.4" r="1.7"/><circle cx="503.5" cy="34.4" r="1.7"/><circle cx="452.0" cy="83.8" r="1.7"/><circle cx="502.1" cy="79.1" r="1.7"/><circle cx="447.8" cy="42.7" r="1.7"/><circle cx="486.7" cy="56.2" r="1.7"/><circle cx="467.9" cy="100.7" r="1.7"/><circle cx="491.1" cy="102.2" r="1.7"/><circle cx="458.8" cy="62.6" r="1.7"/><circle cx="485.3" cy="76.3" r="1.7"/><circle cx="495.3" cy="68.6" r="1.7"/><circle cx="506.1" cy="65.6" r="1.7"/><circle cx="499.9" cy="85.0" r="1.7"/><circle cx="499.6" cy="38.6" r="1.7"/><circle cx="506.3" cy="82.0" r="1.7"/><circle cx="482.0" cy="48.0" r="1.7"/><circle cx="487.6" cy="46.3" r="1.7"/><circle cx="457.6" cy="101.2" r="1.7"/><circle cx="498.6" cy="115.1" r="1.7"/><circle cx="460.9" cy="36.3" r="1.7"/><circle cx="474.0" cy="43.2" r="1.7"/><circle cx="455.3" cy="71.3" r="1.7"/><circle cx="505.3" cy="77.9" r="1.7"/><circle cx="452.5" cy="108.6" r="1.7"/><circle cx="488.3" cy="81.7" r="1.7"/><circle cx="500.3" cy="89.2" r="1.7"/><circle cx="464.3" cy="107.9" r="1.7"/><circle cx="501.3" cy="42.7" r="1.7"/><circle cx="491.1" cy="60.0" r="1.7"/><circle cx="498.4" cy="42.8" r="1.7"/><circle cx="499.5" cy="117.1" r="1.7"/><circle cx="478.2" cy="80.4" r="1.7"/><circle cx="483.8" cy="110.6" r="1.7"/><circle cx="456.1" cy="91.8" r="1.7"/><circle cx="488.6" cy="63.8" r="1.7"/><circle cx="449.2" cy="55.6" r="1.7"/><circle cx="474.4" cy="66.2" r="1.7"/><circle cx="501.4" cy="66.2" r="1.7"/><circle cx="458.9" cy="114.9" r="1.7"/><circle cx="485.5" cy="115.3" r="1.7"/><circle cx="474.3" cy="85.3" r="1.7"/><circle cx="467.0" cy="116.3" r="1.7"/><circle cx="459.7" cy="119.4" r="1.7"/><circle cx="477.0" cy="39.3" r="1.7"/><circle cx="488.0" cy="39.6" r="1.7"/><circle cx="455.6" cy="89.8" r="1.7"/><circle cx="466.8" cy="41.3" r="1.7"/><circle cx="484.9" cy="105.3" r="1.7"/><circle cx="490.6" cy="75.3" r="1.7"/><circle cx="463.5" cy="96.0" r="1.7"/><circle cx="498.3" cy="51.8" r="1.7"/><circle cx="457.1" cy="97.4" r="1.7"/><circle cx="463.7" cy="111.8" r="1.7"/><circle cx="473.5" cy="51.1" r="1.7"/><circle cx="459.8" cy="57.7" r="1.7"/><circle cx="454.6" cy="108.0" r="1.7"/><circle cx="502.2" cy="101.8" r="1.7"/><circle cx="447.9" cy="109.3" r="1.7"/><circle cx="485.0" cy="50.8" r="1.7"/><circle cx="465.2" cy="66.6" r="1.7"/><circle cx="458.5" cy="35.2" r="1.7"/><circle cx="504.0" cy="66.6" r="1.7"/><circle cx="483.6" cy="42.1" r="1.7"/><circle cx="450.0" cy="50.3" r="1.7"/><circle cx="491.7" cy="37.8" r="1.7"/><circle cx="456.0" cy="99.9" r="1.7"/><circle cx="493.9" cy="82.4" r="1.7"/><circle cx="458.8" cy="93.1" r="1.7"/><circle cx="479.0" cy="53.9" r="1.7"/><circle cx="477.0" cy="117.6" r="1.7"/><circle cx="506.2" cy="100.8" r="1.7"/><circle cx="502.1" cy="96.8" r="1.7"/><circle cx="482.1" cy="75.2" r="1.7"/><circle cx="456.8" cy="60.3" r="1.7"/><circle cx="506.6" cy="93.1" r="1.7"/><circle cx="483.2" cy="62.5" r="1.7"/><circle cx="456.0" cy="47.9" r="1.7"/><circle cx="477.8" cy="64.6" r="1.7"/><circle cx="505.5" cy="112.7" r="1.7"/><circle cx="466.4" cy="35.1" r="1.7"/><circle cx="486.8" cy="66.2" r="1.7"/><circle cx="502.4" cy="60.3" r="1.7"/><circle cx="498.0" cy="67.0" r="1.7"/><circle cx="486.3" cy="63.6" r="1.7"/><circle cx="495.5" cy="52.3" r="1.7"/><circle cx="457.1" cy="37.3" r="1.7"/><circle cx="470.2" cy="96.4" r="1.7"/><circle cx="475.0" cy="105.9" r="1.7"/><circle cx="482.3" cy="79.1" r="1.7"/><circle cx="477.1" cy="36.3" r="1.7"/><circle cx="457.4" cy="86.6" r="1.7"/><circle cx="464.5" cy="58.4" r="1.7"/><circle cx="472.0" cy="115.7" r="1.7"/><circle cx="462.4" cy="60.1" r="1.7"/><circle cx="465.2" cy="104.8" r="1.7"/><circle cx="476.1" cy="104.1" r="1.7"/><circle cx="471.2" cy="76.1" r="1.7"/><circle cx="503.6" cy="112.6" r="1.7"/><circle cx="503.2" cy="50.2" r="1.7"/><circle cx="483.9" cy="92.1" r="1.7"/><circle cx="463.3" cy="71.3" r="1.7"/><circle cx="460.5" cy="102.7" r="1.7"/><circle cx="467.2" cy="45.3" r="1.7"/><circle cx="503.8" cy="71.4" r="1.7"/><circle cx="479.1" cy="44.1" r="1.7"/><circle cx="480.3" cy="70.1" r="1.7"/><circle cx="454.3" cy="65.3" r="1.7"/><circle cx="458.5" cy="72.4" r="1.7"/><circle cx="474.7" cy="113.8" r="1.7"/><circle cx="471.0" cy="109.4" r="1.7"/><circle cx="450.1" cy="62.8" r="1.7"/><circle cx="490.3" cy="71.6" r="1.7"/><circle cx="452.3" cy="63.8" r="1.7"/><circle cx="461.6" cy="40.6" r="1.7"/><circle cx="492.4" cy="86.2" r="1.7"/><circle cx="467.0" cy="90.3" r="1.7"/><circle cx="498.8" cy="58.8" r="1.7"/><circle cx="501.5" cy="69.1" r="1.7"/><circle cx="476.7" cy="55.1" r="1.7"/><circle cx="452.7" cy="50.3" r="1.7"/><circle cx="462.6" cy="74.3" r="1.7"/><circle cx="468.5" cy="88.4" r="1.7"/><circle cx="453.5" cy="76.5" r="1.7"/><circle cx="481.0" cy="56.8" r="1.7"/><circle cx="495.4" cy="37.8" r="1.7"/><circle cx="486.3" cy="73.1" r="1.7"/><circle cx="456.2" cy="50.7" r="1.7"/><circle cx="459.8" cy="91.1" r="1.7"/><circle cx="481.5" cy="117.0" r="1.7"/><circle cx="465.7" cy="74.5" r="1.7"/><circle cx="469.6" cy="65.9" r="1.7"/><circle cx="482.1" cy="100.9" r="1.7"/><circle cx="488.1" cy="42.8" r="1.7"/><circle cx="463.9" cy="87.1" r="1.7"/><circle cx="469.0" cy="72.6" r="1.7"/><circle cx="450.4" cy="77.8" r="1.7"/><circle cx="465.6" cy="78.4" r="1.7"/><circle cx="452.1" cy="94.6" r="1.7"/><circle cx="490.3" cy="118.4" r="1.7"/><circle cx="452.2" cy="117.0" r="1.7"/><circle cx="491.1" cy="47.2" r="1.7"/><circle cx="493.6" cy="96.2" r="1.7"/><circle cx="502.5" cy="89.8" r="1.7"/><circle cx="483.4" cy="58.3" r="1.7"/><circle cx="498.5" cy="77.6" r="1.7"/><circle cx="502.6" cy="85.0" r="1.7"/><circle cx="500.6" cy="91.6" r="1.7"/><circle cx="493.2" cy="68.9" r="1.7"/><circle cx="486.1" cy="113.5" r="1.7"/><circle cx="487.6" cy="50.2" r="1.7"/><circle cx="448.5" cy="113.3" r="1.7"/><circle cx="472.1" cy="40.4" r="1.7"/><circle cx="475.9" cy="88.6" r="1.7"/><circle cx="493.4" cy="34.4" r="1.7"/><circle cx="458.7" cy="109.2" r="1.7"/><circle cx="488.0" cy="54.0" r="1.7"/><circle cx="496.6" cy="91.8" r="1.7"/><circle cx="467.2" cy="59.9" r="1.7"/><circle cx="488.8" cy="79.8" r="1.7"/><circle cx="468.0" cy="81.6" r="1.7"/><circle cx="455.5" cy="40.0" r="1.7"/><circle cx="451.3" cy="81.9" r="1.7"/><circle cx="503.4" cy="45.0" r="1.7"/><circle cx="477.8" cy="89.1" r="1.7"/><circle cx="479.1" cy="91.5" r="1.7"/><circle cx="488.0" cy="90.2" r="1.7"/><circle cx="451.9" cy="37.8" r="1.7"/><circle cx="498.5" cy="45.6" r="1.7"/><circle cx="469.1" cy="105.7" r="1.7"/><circle cx="461.8" cy="78.0" r="1.7"/><circle cx="496.4" cy="50.4" r="1.7"/><circle cx="462.2" cy="76.1" r="1.7"/><circle cx="473.3" cy="89.6" r="1.7"/><circle cx="463.6" cy="51.1" r="1.7"/><circle cx="495.6" cy="60.9" r="1.7"/><circle cx="474.1" cy="77.3" r="1.7"/><circle cx="448.5" cy="111.4" r="1.7"/><circle cx="496.1" cy="79.4" r="1.7"/><circle cx="456.9" cy="69.8" r="1.7"/><circle cx="447.9" cy="72.6" r="1.7"/><circle cx="474.4" cy="118.0" r="1.7"/><circle cx="456.5" cy="57.3" r="1.7"/><circle cx="461.2" cy="117.2" r="1.7"/><circle cx="489.3" cy="48.5" r="1.7"/><circle cx="448.5" cy="95.2" r="1.7"/><circle cx="459.1" cy="112.0" r="1.7"/><circle cx="461.1" cy="65.0" r="1.7"/><circle cx="465.8" cy="49.3" r="1.7"/><circle cx="493.8" cy="59.1" r="1.7"/><circle cx="470.4" cy="49.1" r="1.7"/><circle cx="485.9" cy="41.8" r="1.7"/><circle cx="468.7" cy="115.0" r="1.7"/><circle cx="459.6" cy="98.5" r="1.7"/><circle cx="495.2" cy="89.5" r="1.7"/><circle cx="493.6" cy="54.8" r="1.7"/><circle cx="460.2" cy="55.2" r="1.7"/><circle cx="476.7" cy="74.6" r="1.7"/><circle cx="473.4" cy="63.9" r="1.7"/><circle cx="462.9" cy="55.0" r="1.7"/><circle cx="461.1" cy="88.1" r="1.7"/><circle cx="505.4" cy="59.4" r="1.7"/><circle cx="471.3" cy="93.3" r="1.7"/><circle cx="465.8" cy="43.8" r="1.7"/><circle cx="447.8" cy="61.3" r="1.7"/><circle cx="496.9" cy="81.5" r="1.7"/><circle cx="489.7" cy="109.6" r="1.7"/><circle cx="457.8" cy="42.4" r="1.7"/><circle cx="505.6" cy="85.2" r="1.7"/><circle cx="483.7" cy="35.3" r="1.7"/><circle cx="506.4" cy="44.8" r="1.7"/><circle cx="461.1" cy="80.5" r="1.7"/><circle cx="480.7" cy="33.5" r="1.7"/><circle cx="461.5" cy="69.8" r="1.7"/><circle cx="498.5" cy="105.8" r="1.7"/><circle cx="451.0" cy="57.0" r="1.7"/><circle cx="448.8" cy="52.0" r="1.7"/><circle cx="479.6" cy="94.8" r="1.7"/><circle cx="491.3" cy="81.9" r="1.7"/><circle cx="488.0" cy="111.1" r="1.7"/><circle cx="454.5" cy="36.2" r="1.7"/><circle cx="487.6" cy="93.1" r="1.7"/><circle cx="461.7" cy="33.6" r="1.7"/><circle cx="458.2" cy="81.4" r="1.7"/><circle cx="484.1" cy="73.6" r="1.7"/><circle cx="481.0" cy="50.0" r="1.7"/><circle cx="466.8" cy="95.0" r="1.7"/><circle cx="504.6" cy="74.5" r="1.7"/><circle cx="502.3" cy="39.4" r="1.7"/><circle cx="499.5" cy="82.5" r="1.7"/><circle cx="478.7" cy="85.8" r="1.7"/><circle cx="471.9" cy="54.2" r="1.7"/><circle cx="456.4" cy="113.0" r="1.7"/><circle cx="459.0" cy="106.6" r="1.7"/><circle cx="456.3" cy="78.1" r="1.7"/><circle cx="463.6" cy="40.5" r="1.7"/><circle cx="475.5" cy="79.1" r="1.7"/><circle cx="484.7" cy="82.5" r="1.7"/><circle cx="477.4" cy="71.0" r="1.7"/><circle cx="454.3" cy="112.1" r="1.7"/><circle cx="497.4" cy="86.0" r="1.7"/><circle cx="462.2" cy="82.8" r="1.7"/><circle cx="480.7" cy="113.0" r="1.7"/><circle cx="466.8" cy="118.2" r="1.7"/><circle cx="471.8" cy="104.5" r="1.7"/><circle cx="498.0" cy="89.0" r="1.7"/><circle cx="494.4" cy="103.9" r="1.7"/><circle cx="452.6" cy="42.9" r="1.7"/><circle cx="487.7" cy="78.0" r="1.7"/><circle cx="497.8" cy="56.4" r="1.7"/><circle cx="487.4" cy="61.3" r="1.7"/><circle cx="450.6" cy="33.9" r="1.7"/><circle cx="467.1" cy="55.5" r="1.7"/><circle cx="503.9" cy="100.5" r="1.7"/><circle cx="469.3" cy="55.4" r="1.7"/><circle cx="494.1" cy="67.0" r="1.7"/><circle cx="488.0" cy="86.3" r="1.7"/><circle cx="454.0" cy="98.3" r="1.7"/><circle cx="501.2" cy="107.6" r="1.7"/><circle cx="468.0" cy="49.0" r="1.7"/><circle cx="493.9" cy="91.4" r="1.7"/><circle cx="451.6" cy="90.8" r="1.7"/><circle cx="462.9" cy="93.3" r="1.7"/><circle cx="448.0" cy="102.1" r="1.7"/><circle cx="452.7" cy="102.5" r="1.7"/><circle cx="491.2" cy="115.7" r="1.7"/><circle cx="501.4" cy="117.5" r="1.7"/><circle cx="476.7" cy="106.9" r="1.7"/><circle cx="501.7" cy="63.2" r="1.7"/><circle cx="485.4" cy="97.3" r="1.7"/><circle cx="455.9" cy="55.3" r="1.7"/><circle cx="493.9" cy="72.7" r="1.7"/><circle cx="478.6" cy="76.1" r="1.7"/><circle cx="473.2" cy="94.5" r="1.7"/><circle cx="498.4" cy="70.7" r="1.7"/><circle cx="481.4" cy="68.4" r="1.7"/><circle cx="464.4" cy="34.8" r="1.7"/><circle cx="490.4" cy="88.8" r="1.7"/><circle cx="467.2" cy="51.4" r="1.7"/><circle cx="474.2" cy="61.5" r="1.7"/><circle cx="455.5" cy="102.7" r="1.7"/><circle cx="467.6" cy="38.0" r="1.7"/><circle cx="491.7" cy="49.4" r="1.7"/><circle cx="471.5" cy="113.2" r="1.7"/><circle cx="492.3" cy="44.9" r="1.7"/><circle cx="501.3" cy="35.2" r="1.7"/><circle cx="459.1" cy="78.5" r="1.7"/><circle cx="452.8" cy="58.7" r="1.7"/><circle cx="495.0" cy="99.4" r="1.7"/><circle cx="480.2" cy="74.4" r="1.7"/><circle cx="447.8" cy="81.4" r="1.7"/><circle cx="462.1" cy="108.4" r="1.7"/><circle cx="478.3" cy="56.2" r="1.7"/><circle cx="472.3" cy="44.2" r="1.7"/><circle cx="473.8" cy="101.5" r="1.7"/><circle cx="474.9" cy="45.7" r="1.7"/><circle cx="449.7" cy="44.3" r="1.7"/><circle cx="494.5" cy="40.9" r="1.7"/><circle cx="466.7" cy="113.8" r="1.7"/><circle cx="490.8" cy="96.1" r="1.7"/><circle cx="481.8" cy="104.4" r="1.7"/><circle cx="503.4" cy="110.5" r="1.7"/><circle cx="460.7" cy="73.5" r="1.7"/><circle cx="456.8" cy="75.3" r="1.7"/></g></g><rect x="56.5" y="15.5" width="598.0" height="104.0" fill="none" stroke="#4a4a4a" stroke-width="1"/><path d="M116.3 119.5v-6M116.3 15.5v6M176.1 119.5v-6M176.1 15.5v6M235.9 119.5v-6M235.9 15.5v6M295.7 119.5v-6M295.7 15.5v6M355.5 119.5v-6M355.5 15.5v6M415.3 119.5v-6M415.3 15.5v6M475.1 119.5v-6M475.1 15.5v6M534.9 119.5v-6M534.9 15.5v6M594.7 119.5v-6M594.7 15.5v6M56.5 33.5h6M654.5 33.5h-6" stroke="#4a4a4a" stroke-width="1" fill="none"/><text transform="translate(52.86,138.30) scale(1.0000,1)" font-family="'Liberation Sans',Arial,Helvetica,sans-serif" font-size="12" fill="#262626">0</text><text transform="translate(112.50,138.30) scale(1.0000,1)" font-family="'Liberation Sans',Arial,Helvetica,sans-serif" font-size="12" fill="#262626">1</text><text transform="translate(172.46,138.30) scale(1.0000,1)" font-family="'Liberation Sans',Arial,Helvetica,sans-serif" font-size="12" fill="#262626">2</text><text transform="translate(232.30,138.30) scale(1.0000,1)" font-family="'Liberation Sans',Arial,Helvetica,sans-serif" font-size="12" fill="#262626">3</text><text transform="translate(292.10,138.30) scale(1.0000,1)" font-family="'Liberation Sans',Arial,Helvetica,sans-serif" font-size="12" fill="#262626">4</text><text transform="translate(351.87,138.30) scale(1.0000,1)" font-family="'Liberation Sans',Arial,Helvetica,sans-serif" font-size="12" fill="#262626">5</text><text transform="translate(411.62,138.30) scale(1.0000,1)" font-family="'Liberation Sans',Arial,Helvetica,sans-serif" font-size="12" fill="#262626">6</text><text transform="translate(471.46,138.30) scale(1.0000,1)" font-family="'Liberation Sans',Arial,Helvetica,sans-serif" font-size="12" fill="#262626">7</text><text transform="translate(531.26,138.30) scale(1.0000,1)" font-family="'Liberation Sans',Arial,Helvetica,sans-serif" font-size="12" fill="#262626">8</text><text transform="translate(591.07,138.30) scale(1.0000,1)" font-family="'Liberation Sans',Arial,Helvetica,sans-serif" font-size="12" fill="#262626">9</text><text transform="translate(647.30,138.30) scale(1.0000,1)" font-family="'Liberation Sans',Arial,Helvetica,sans-serif" font-size="12" fill="#262626">10</text><text transform="translate(25.65,37.80) scale(1.0000,1)" font-family="'Liberation Sans',Arial,Helvetica,sans-serif" font-size="12" fill="#262626">500</text><text transform="translate(41.79,123.80) scale(1.0000,1)" font-family="'Liberation Sans',Arial,Helvetica,sans-serif" font-size="12" fill="#262626">0</text><text transform="translate(16.70,95.28) rotate(-90) scale(1.0221,1)" font-family="'Liberation Sans',Arial,Helvetica,sans-serif" font-size="14.5" fill="#262626">neuron</text><text transform="translate(8.82,22.40) scale(0.9246,1)" font-family="'Liberation Sans',Arial,Helvetica,sans-serif" font-size="16.8" fill="#000" stroke="#000" stroke-width="0.55">A</text><text transform="translate(75.74,27.80) scale(1.0160,1)" font-family="'DejaVu Math TeX Gyre','DejaVu Serif','DejaVu Sans',serif" font-size="13" fill="#111">ℛ = 0</text><text transform="translate(153.83,27.80) scale(1.0247,1)" font-family="'DejaVu Math TeX Gyre','DejaVu Serif','DejaVu Sans',serif" font-size="13" fill="#111">ℛ = 1</text><text transform="translate(272.94,27.80) scale(1.0194,1)" font-family="'DejaVu Math TeX Gyre','DejaVu Serif','DejaVu Sans',serif" font-size="13" fill="#111">ℛ = 2</text><text transform="translate(384.86,27.80) scale(1.0018,1)" font-family="'DejaVu Math TeX Gyre','DejaVu Serif','DejaVu Sans',serif" font-size="13" fill="#111">ℛ = 4</text><text transform="translate(465.92,27.80) scale(1.0355,1)" font-family="'DejaVu Math TeX Gyre','DejaVu Serif','DejaVu Sans',serif" font-size="13" fill="#111">ℛ = 0</text><g stroke="#000" stroke-opacity="0.9" stroke-width="1"><rect x="51.5" y="181.5" width="4" height="97.0" fill="#66aad8"/><rect x="55.5" y="191.5" width="4" height="87.0" fill="#66aad8"/><rect x="59.5" y="204.5" width="4" height="74.0" fill="#66aad8"/><rect x="63.5" y="211.5" width="4" height="67.0" fill="#66aad8"/><rect x="67.5" y="216.5" width="4" height="62.0" fill="#66aad8"/><rect x="71.5" y="223.5" width="4" height="55.0" fill="#66aad8"/><rect x="75.5" y="218.5" width="4" height="60.0" fill="#66aad8"/><rect x="79.5" y="229.5" width="4" height="49.0" fill="#66aad8"/><rect x="83.5" y="232.5" width="4" height="46.0" fill="#66aad8"/><rect x="87.5" y="235.5" width="4" height="43.0" fill="#66aad8"/><rect x="91.5" y="236.5" width="4" height="42.0" fill="#66aad8"/><rect x="95.5" y="241.5" width="4" height="37.0" fill="#66aad8"/><rect x="99.5" y="242.5" width="4" height="36.0" fill="#66aad8"/><rect x="103.5" y="245.5" width="4" height="33.0" fill="#66aad8"/><rect x="107.5" y="243.5" width="4" height="35.0" fill="#66aad8"/><rect x="111.5" y="246.5" width="4" height="32.0" fill="#66aad8"/><rect x="115.5" y="245.5" width="4" height="33.0" fill="#66aad8"/><rect x="119.5" y="245.5" width="4" height="33.0" fill="#66aad8"/><rect x="123.5" y="252.5" width="4" height="26.0" fill="#66aad8"/><rect x="127.5" y="258.5" width="4" height="20.0" fill="#66aad8"/><rect x="131.5" y="261.5" width="4" height="17.0" fill="#66aad8"/><rect x="135.5" y="264.5" width="4" height="14.0" fill="#66aad8"/><rect x="139.5" y="266.5" width="4" height="12.0" fill="#66aad8"/><rect x="143.5" y="268.5" width="4" height="10.0" fill="#66aad8"/><rect x="147.5" y="270.5" width="4" height="8.0" fill="#66aad8"/><rect x="151.5" y="269.5" width="4" height="9.0" fill="#66aad8"/><rect x="155.5" y="271.5" width="4" height="7.0" fill="#66aad8"/><rect x="159.5" y="272.5" width="4" height="6.0" fill="#66aad8"/><rect x="163.5" y="273.5" width="4" height="5.0" fill="#66aad8"/><rect x="167.5" y="273.5" width="4" height="5.0" fill="#66aad8"/><rect x="171.5" y="272.5" width="4" height="6.0" fill="#66aad8"/><rect x="175.5" y="274.5" width="4" height="4.0" fill="#66aad8"/><rect x="179.5" y="274.5" width="4" height="4.0" fill="#66aad8"/><rect x="183.5" y="275.5" width="4" height="3.0" fill="#66aad8"/><rect x="187.5" y="275.5" width="4" height="3.0" fill="#66aad8"/><rect x="191.5" y="275.5" width="4" height="3.0" fill="#66aad8"/><rect x="195.5" y="276.5" width="4" height="2.0" fill="#66aad8"/><rect x="199.5" y="276.5" width="4" height="2.0" fill="#66aad8"/><rect x="203.5" y="276.5" width="4" height="2.0" fill="#66aad8"/><rect x="207.5" y="277.5" width="4" height="1.0" fill="#66aad8"/><rect x="51.5" y="235.5" width="4" height="43.0" fill="#b07866"/><rect x="55.5" y="242.5" width="4" height="36.0" fill="#b07866"/><rect x="59.5" y="256.5" width="4" height="22.0" fill="#b07866"/><rect x="63.5" y="262.5" width="4" height="16.0" fill="#b07866"/><rect x="67.5" y="269.5" width="4" height="9.0" fill="#b07866"/></g><path d="M51.5 170.5V278.5H211.5M51.5 170.5h2.5M51.5 224.5h2.5" stroke="#262626" stroke-width="1" fill="none"/><path d="M51.5 278.5v-2.5" stroke="#262626" stroke-width="1"/><path d="M91.5 278.5v-2.5" stroke="#262626" stroke-width="1"/><path d="M131.5 278.5v-2.5" stroke="#262626" stroke-width="1"/><path d="M171.5 278.5v-2.5" stroke="#262626" stroke-width="1"/><path d="M211.5 278.5v-2.5" stroke="#262626" stroke-width="1"/><g stroke="#000" stroke-opacity="0.9" stroke-width="1"><rect x="269.5" y="175.5" width="4" height="103.0" fill="#66aad8"/><rect x="273.5" y="194.5" width="4" height="84.0" fill="#66aad8"/><rect x="277.5" y="198.5" width="4" height="80.0" fill="#66aad8"/><rect x="281.5" y="209.5" width="4" height="69.0" fill="#66aad8"/><rect x="285.5" y="212.5" width="4" height="66.0" fill="#66aad8"/><rect x="289.5" y="211.5" width="4" height="67.0" fill="#66aad8"/><rect x="293.5" y="205.5" width="4" height="73.0" fill="#66aad8"/><rect x="297.5" y="199.5" width="4" height="79.0" fill="#66aad8"/><rect x="301.5" y="201.5" width="4" height="77.0" fill="#66aad8"/><rect x="305.5" y="203.5" width="4" height="75.0" fill="#66aad8"/><rect x="309.5" y="207.5" width="4" height="71.0" fill="#66aad8"/><rect x="313.5" y="209.5" width="4" height="69.0" fill="#66aad8"/><rect x="317.5" y="212.5" width="4" height="66.0" fill="#66aad8"/><rect x="321.5" y="214.5" width="4" height="64.0" fill="#66aad8"/><rect x="325.5" y="220.5" width="4" height="58.0" fill="#66aad8"/><rect x="329.5" y="219.5" width="4" height="59.0" fill="#66aad8"/><rect x="333.5" y="227.5" width="4" height="51.0" fill="#66aad8"/><rect x="337.5" y="228.5" width="4" height="50.0" fill="#66aad8"/><rect x="341.5" y="234.5" width="4" height="44.0" fill="#66aad8"/><rect x="345.5" y="244.5" width="4" height="34.0" fill="#66aad8"/><rect x="349.5" y="251.5" width="4" height="27.0" fill="#66aad8"/><rect x="353.5" y="259.5" width="4" height="19.0" fill="#66aad8"/><rect x="357.5" y="264.5" width="4" height="14.0" fill="#66aad8"/><rect x="361.5" y="269.5" width="4" height="9.0" fill="#66aad8"/><rect x="365.5" y="271.5" width="4" height="7.0" fill="#66aad8"/><rect x="369.5" y="272.5" width="4" height="6.0" fill="#66aad8"/><rect x="373.5" y="273.5" width="4" height="5.0" fill="#66aad8"/><rect x="377.5" y="273.5" width="4" height="5.0" fill="#66aad8"/><rect x="381.5" y="274.5" width="4" height="4.0" fill="#66aad8"/><rect x="385.5" y="274.5" width="4" height="4.0" fill="#66aad8"/><rect x="389.5" y="274.5" width="4" height="4.0" fill="#66aad8"/><rect x="393.5" y="275.5" width="4" height="3.0" fill="#66aad8"/><rect x="397.5" y="275.5" width="4" height="3.0" fill="#66aad8"/><rect x="401.5" y="276.5" width="4" height="2.0" fill="#66aad8"/><rect x="405.5" y="276.5" width="4" height="2.0" fill="#66aad8"/><rect x="409.5" y="276.5" width="4" height="2.0" fill="#66aad8"/><rect x="413.5" y="277.5" width="4" height="1.0" fill="#66aad8"/><rect x="417.5" y="277.5" width="4" height="1.0" fill="#66aad8"/><rect x="421.5" y="277.5" width="4" height="1.0" fill="#66aad8"/><rect x="425.5" y="277.5" width="4" height="1.0" fill="#66aad8"/><rect x="269.5" y="224.5" width="4" height="54.0" fill="#b07866"/><rect x="273.5" y="243.5" width="4" height="35.0" fill="#b07866"/><rect x="277.5" y="247.5" width="4" height="31.0" fill="#b07866"/><rect x="281.5" y="263.5" width="4" height="15.0" fill="#b07866"/><rect x="285.5" y="272.5" width="4" height="6.0" fill="#b07866"/></g><path d="M269.5 170.5V278.5H429.5M269.5 170.5h2.5M269.5 224.5h2.5" stroke="#262626" stroke-width="1" fill="none"/><path d="M269.5 278.5v-2.5" stroke="#262626" stroke-width="1"/><path d="M309.5 278.5v-2.5" stroke="#262626" stroke-width="1"/><path d="M349.5 278.5v-2.5" stroke="#262626" stroke-width="1"/><path d="M389.5 278.5v-2.5" stroke="#262626" stroke-width="1"/><path d="M429.5 278.5v-2.5" stroke="#262626" stroke-width="1"/><g stroke="#000" stroke-opacity="0.9" stroke-width="1"><rect x="485.5" y="189.5" width="4" height="89.0" fill="#66aad8"/><rect x="489.5" y="192.5" width="4" height="86.0" fill="#66aad8"/><rect x="493.5" y="200.5" width="4" height="78.0" fill="#66aad8"/><rect x="497.5" y="209.5" width="4" height="69.0" fill="#66aad8"/><rect x="501.5" y="211.5" width="4" height="67.0" fill="#66aad8"/><rect x="505.5" y="209.5" width="4" height="69.0" fill="#66aad8"/><rect x="509.5" y="198.5" width="4" height="80.0" fill="#66aad8"/><rect x="513.5" y="203.5" width="4" height="75.0" fill="#66aad8"/><rect x="517.5" y="196.5" width="4" height="82.0" fill="#66aad8"/><rect x="521.5" y="199.5" width="4" height="79.0" fill="#66aad8"/><rect x="525.5" y="200.5" width="4" height="78.0" fill="#66aad8"/><rect x="529.5" y="193.5" width="4" height="85.0" fill="#66aad8"/><rect x="533.5" y="209.5" width="4" height="69.0" fill="#66aad8"/><rect x="537.5" y="216.5" width="4" height="62.0" fill="#66aad8"/><rect x="541.5" y="209.5" width="4" height="69.0" fill="#66aad8"/><rect x="545.5" y="229.5" width="4" height="49.0" fill="#66aad8"/><rect x="549.5" y="229.5" width="4" height="49.0" fill="#66aad8"/><rect x="553.5" y="238.5" width="4" height="40.0" fill="#66aad8"/><rect x="557.5" y="242.5" width="4" height="36.0" fill="#66aad8"/><rect x="561.5" y="248.5" width="4" height="30.0" fill="#66aad8"/><rect x="565.5" y="248.5" width="4" height="30.0" fill="#66aad8"/><rect x="569.5" y="257.5" width="4" height="21.0" fill="#66aad8"/><rect x="573.5" y="263.5" width="4" height="15.0" fill="#66aad8"/><rect x="577.5" y="267.5" width="4" height="11.0" fill="#66aad8"/><rect x="581.5" y="271.5" width="4" height="7.0" fill="#66aad8"/><rect x="585.5" y="272.5" width="4" height="6.0" fill="#66aad8"/><rect x="589.5" y="273.5" width="4" height="5.0" fill="#66aad8"/><rect x="593.5" y="273.5" width="4" height="5.0" fill="#66aad8"/><rect x="597.5" y="274.5" width="4" height="4.0" fill="#66aad8"/><rect x="601.5" y="275.5" width="4" height="3.0" fill="#66aad8"/><rect x="605.5" y="275.5" width="4" height="3.0" fill="#66aad8"/><rect x="609.5" y="275.5" width="4" height="3.0" fill="#66aad8"/><rect x="613.5" y="276.5" width="4" height="2.0" fill="#66aad8"/><rect x="617.5" y="276.5" width="4" height="2.0" fill="#66aad8"/><rect x="621.5" y="276.5" width="4" height="2.0" fill="#66aad8"/><rect x="625.5" y="276.5" width="4" height="2.0" fill="#66aad8"/><rect x="629.5" y="277.5" width="4" height="1.0" fill="#66aad8"/><rect x="633.5" y="277.5" width="4" height="1.0" fill="#66aad8"/><rect x="637.5" y="277.5" width="4" height="1.0" fill="#66aad8"/><rect x="641.5" y="277.5" width="4" height="1.0" fill="#66aad8"/><rect x="485.5" y="238.5" width="4" height="40.0" fill="#b07866"/><rect x="489.5" y="241.5" width="4" height="37.0" fill="#b07866"/><rect x="493.5" y="251.5" width="4" height="27.0" fill="#b07866"/><rect x="497.5" y="264.5" width="4" height="14.0" fill="#b07866"/><rect x="501.5" y="273.5" width="4" height="5.0" fill="#b07866"/></g><path d="M485.5 170.5V278.5H645.5M485.5 170.5h2.5M485.5 224.5h2.5" stroke="#262626" stroke-width="1" fill="none"/><path d="M485.5 278.5v-2.5" stroke="#262626" stroke-width="1"/><path d="M525.5 278.5v-2.5" stroke="#262626" stroke-width="1"/><path d="M565.5 278.5v-2.5" stroke="#262626" stroke-width="1"/><path d="M605.5 278.5v-2.5" stroke="#262626" stroke-width="1"/><path d="M645.5 278.5v-2.5" stroke="#262626" stroke-width="1"/><text transform="translate(47.36,296.60) scale(1.0000,1)" font-family="'Liberation Sans',Arial,Helvetica,sans-serif" font-size="12" fill="#262626">0</text><text transform="translate(87.36,296.60) scale(1.0000,1)" font-family="'Liberation Sans',Arial,Helvetica,sans-serif" font-size="12" fill="#262626">2</text><text transform="translate(127.40,296.60) scale(1.0000,1)" font-family="'Liberation Sans',Arial,Helvetica,sans-serif" font-size="12" fill="#262626">4</text><text transform="translate(167.32,296.60) scale(1.0000,1)" font-family="'Liberation Sans',Arial,Helvetica,sans-serif" font-size="12" fill="#262626">6</text><text transform="translate(207.36,296.60) scale(1.0000,1)" font-family="'Liberation Sans',Arial,Helvetica,sans-serif" font-size="12" fill="#262626">8</text><text transform="translate(31.12,174.60) scale(1.0000,1)" font-family="'Liberation Sans',Arial,Helvetica,sans-serif" font-size="12" fill="#262626">10</text><text transform="translate(34.73,228.80) scale(1.0000,1)" font-family="'Liberation Sans',Arial,Helvetica,sans-serif" font-size="12" fill="#262626">5</text><text transform="translate(37.54,282.80) scale(1.0000,1)" font-family="'Liberation Sans',Arial,Helvetica,sans-serif" font-size="12" fill="#262626">0</text><text transform="translate(44.86,166.60) scale(1.0280,1)" font-family="'Liberation Sans',Arial,Helvetica,sans-serif" font-size="12" fill="#262626">10</text><text transform="translate(59.62,162.40) scale(0.9913,1)" font-family="'Liberation Sans',Arial,Helvetica,sans-serif" font-size="10" fill="#262626">3</text><text transform="translate(7.67,164.85) scale(1.0000,1)" font-family="'Liberation Sans',Arial,Helvetica,sans-serif" font-size="16.8" fill="#000" stroke="#000" stroke-width="0.55">B</text><text transform="translate(123.72,162.90) scale(0.9347,1)" font-family="'Liberation Serif','Times New Roman',serif" font-size="18" fill="#111">Γ</text><text transform="translate(133.20,164.80) scale(0.8892,1)" font-family="'Liberation Serif','Times New Roman',serif" font-size="11.5" fill="#111">1</text><text transform="translate(101.18,317.00) scale(0.9257,1)" font-family="'Liberation Sans',Arial,Helvetica,sans-serif" font-size="14.3" fill="#262626">ISI [ms]</text><text transform="translate(265.36,296.60) scale(1.0000,1)" font-family="'Liberation Sans',Arial,Helvetica,sans-serif" font-size="12" fill="#262626">0</text><text transform="translate(305.36,296.60) scale(1.0000,1)" font-family="'Liberation Sans',Arial,Helvetica,sans-serif" font-size="12" fill="#262626">2</text><text transform="translate(345.40,296.60) scale(1.0000,1)" font-family="'Liberation Sans',Arial,Helvetica,sans-serif" font-size="12" fill="#262626">4</text><text transform="translate(385.32,296.60) scale(1.0000,1)" font-family="'Liberation Sans',Arial,Helvetica,sans-serif" font-size="12" fill="#262626">6</text><text transform="translate(425.36,296.60) scale(1.0000,1)" font-family="'Liberation Sans',Arial,Helvetica,sans-serif" font-size="12" fill="#262626">8</text><text transform="translate(247.02,174.60) scale(1.0000,1)" font-family="'Liberation Sans',Arial,Helvetica,sans-serif" font-size="12" fill="#262626">10</text><text transform="translate(253.73,228.80) scale(1.0000,1)" font-family="'Liberation Sans',Arial,Helvetica,sans-serif" font-size="12" fill="#262626">5</text><text transform="translate(254.79,282.80) scale(1.0000,1)" font-family="'Liberation Sans',Arial,Helvetica,sans-serif" font-size="12" fill="#262626">0</text><text transform="translate(262.86,166.60) scale(1.0280,1)" font-family="'Liberation Sans',Arial,Helvetica,sans-serif" font-size="12" fill="#262626">10</text><text transform="translate(277.62,162.40) scale(0.9913,1)" font-family="'Liberation Sans',Arial,Helvetica,sans-serif" font-size="10" fill="#262626">3</text><text transform="translate(227.60,163.05) scale(1.0000,1)" font-family="'Liberation Sans',Arial,Helvetica,sans-serif" font-size="16.8" fill="#000" stroke="#000" stroke-width="0.55">C</text><text transform="translate(340.60,162.90) scale(0.9669,1)" font-family="'Liberation Serif','Times New Roman',serif" font-size="18" fill="#111">Γ</text><text transform="translate(350.42,164.80) scale(0.8635,1)" font-family="'Liberation Serif','Times New Roman',serif" font-size="11.5" fill="#111">5</text><text transform="translate(318.36,317.00) scale(0.9366,1)" font-family="'Liberation Sans',Arial,Helvetica,sans-serif" font-size="14.3" fill="#262626">ISI [ms]</text><text transform="translate(481.36,296.60) scale(1.0000,1)" font-family="'Liberation Sans',Arial,Helvetica,sans-serif" font-size="12" fill="#262626">0</text><text transform="translate(521.36,296.60) scale(1.0000,1)" font-family="'Liberation Sans',Arial,Helvetica,sans-serif" font-size="12" fill="#262626">2</text><text transform="translate(561.40,296.60) scale(1.0000,1)" font-family="'Liberation Sans',Arial,Helvetica,sans-serif" font-size="12" fill="#262626">4</text><text transform="translate(601.32,296.60) scale(1.0000,1)" font-family="'Liberation Sans',Arial,Helvetica,sans-serif" font-size="12" fill="#262626">6</text><text transform="translate(641.36,296.60) scale(1.0000,1)" font-family="'Liberation Sans',Arial,Helvetica,sans-serif" font-size="12" fill="#262626">8</text><text transform="translate(463.22,174.60) scale(1.0000,1)" font-family="'Liberation Sans',Arial,Helvetica,sans-serif" font-size="12" fill="#262626">10</text><text transform="translate(465.73,228.80) scale(1.0000,1)" font-family="'Liberation Sans',Arial,Helvetica,sans-serif" font-size="12" fill="#262626">5</text><text transform="translate(470.89,282.80) scale(1.0000,1)" font-family="'Liberation Sans',Arial,Helvetica,sans-serif" font-size="12" fill="#262626">0</text><text transform="translate(478.86,168.60) scale(1.0280,1)" font-family="'Liberation Sans',Arial,Helvetica,sans-serif" font-size="12" fill="#262626">10</text><text transform="translate(493.62,164.40) scale(0.9913,1)" font-family="'Liberation Sans',Arial,Helvetica,sans-serif" font-size="10" fill="#262626">3</text><text transform="translate(440.87,167.25) scale(1.0000,1)" font-family="'Liberation Sans',Arial,Helvetica,sans-serif" font-size="16.8" fill="#000" stroke="#000" stroke-width="0.55">D</text><text transform="translate(554.71,162.90) scale(0.9455,1)" font-family="'Liberation Serif','Times New Roman',serif" font-size="18" fill="#111">Γ</text><text transform="translate(564.04,164.80) scale(0.9462,1)" font-family="'Liberation Serif','Times New Roman',serif" font-size="11.5" fill="#111">15</text><text transform="translate(534.36,317.00) scale(0.9409,1)" font-family="'Liberation Sans',Arial,Helvetica,sans-serif" font-size="14.3" fill="#262626">ISI [ms]</text><text transform="translate(21.00,246.64) rotate(-90) scale(1.0389,1)" font-family="'Liberation Sans',Arial,Helvetica,sans-serif" font-size="14.5" fill="#262626">count</text><path d="M51.5 431.5H211.5M51.5 359.5H211.5M115.5 466.5V359.0M179.5 466.5V359.0" stroke="#e4e4e4" stroke-width="1" fill="none"/><path d="M52.5 399.5H211.5M52.5 376.5H211.5" stroke="#cfcfcf" stroke-width="1" stroke-dasharray="1.5 2.5" fill="none"/><clipPath id="clipE"><rect x="51.5" y="358.5" width="160.0" height="108.0"/></clipPath><g clip-path="url(#clipE)" fill="none" stroke-width="1" stroke-linejoin="miter"><path d="M57.9,288.3 64.3,329.4 70.7,373.1 77.1,384.2 83.5,439.1 89.9,441.0 96.3,419.1 102.7,429.0 109.1,427.3 115.5,435.5 121.9,446.7 128.3,431.0 134.7,432.2 141.1,442.0 147.5,436.8 153.9,431.8 160.3,440.8 166.7,433.7 173.1,431.6 179.5,432.4 185.9,433.6 192.3,421.3 198.7,424.7 205.1,433.8 211.5,443.7" stroke="#0000ff"/><path d="M57.9,297.7 64.3,352.7 70.7,404.5 77.1,428.5 83.5,429.6 89.9,433.7 96.3,443.0 102.7,438.3 109.1,435.9 115.5,434.8 121.9,432.0 128.3,436.4 134.7,437.3 141.1,442.2 147.5,429.8 153.9,455.2 160.3,437.2 166.7,437.2 173.1,447.7 179.5,431.5 185.9,437.5 192.3,424.8 198.7,436.5 205.1,429.4 211.5,425.4" stroke="#0000ff"/><path d="M57.9,332.2 64.3,384.5 70.7,423.2 77.1,443.6 83.5,462.3 89.9,452.8 96.3,461.0 102.7,459.2 109.1,437.9 115.5,449.6 121.9,451.6 128.3,444.7 134.7,448.8 141.1,450.4 147.5,450.1 153.9,449.5 160.3,455.6 166.7,440.3 173.1,455.2 179.5,457.5 185.9,457.7 192.3,454.1 198.7,437.0 205.1,459.7 211.5,448.9" stroke="#0000ff"/><path d="M57.9,291.0 64.3,342.4 70.7,398.3 77.1,405.9 83.5,435.7 89.9,420.9 96.3,421.2 102.7,453.0 109.1,427.9 115.5,442.1 121.9,417.7 128.3,425.6 134.7,421.5 141.1,439.1 147.5,411.6 153.9,410.9 160.3,440.1 166.7,425.7 173.1,431.2 179.5,424.0 185.9,434.0 192.3,408.6 198.7,426.1 205.1,417.8 211.5,413.1" stroke="#0000ff"/><path d="M57.9,312.8 64.3,359.8 70.7,402.5 77.1,424.2 83.5,463.1 89.9,436.7 96.3,456.9 102.7,461.8 109.1,442.5 115.5,450.9 121.9,446.1 128.3,452.8 134.7,452.9 141.1,448.6 147.5,459.6 153.9,448.6 160.3,457.3 166.7,459.4 173.1,451.8 179.5,452.9 185.9,457.4 192.3,461.9 198.7,452.0 205.1,470.4 211.5,465.4" stroke="#0000ff"/><path d="M57.9,343.1 64.3,378.4 70.7,411.3 77.1,437.5 83.5,451.4 89.9,443.4 96.3,424.8 102.7,443.2 109.1,446.9 115.5,440.7 121.9,443.2 128.3,448.9 134.7,439.8 141.1,441.1 147.5,426.7 153.9,439.5 160.3,435.1 166.7,431.4 173.1,440.9 179.5,424.9 185.9,444.1 192.3,448.5 198.7,444.8 205.1,444.3 211.5,453.1" stroke="#0000ff"/><path d="M57.9,340.2 64.3,385.6 70.7,419.9 77.1,441.1 83.5,432.6 89.9,441.3 96.3,456.6 102.7,433.7 109.1,438.3 115.5,431.7 121.9,439.1 128.3,428.6 134.7,443.5 141.1,432.0 147.5,439.4 153.9,428.9 160.3,424.5 166.7,435.4 173.1,434.5 179.5,432.7 185.9,424.9 192.3,427.3 198.7,446.8 205.1,433.0 211.5,430.1" stroke="#0000ff"/><path d="M57.9,365.6 64.3,393.9 70.7,439.7 77.1,453.5 83.5,453.9 89.9,432.6 96.3,461.0 102.7,440.6 109.1,433.3 115.5,437.8 121.9,428.1 128.3,448.8 134.7,459.9 141.1,433.3 147.5,447.3 153.9,437.9 160.3,446.7 166.7,425.3 173.1,424.7 179.5,438.4 185.9,424.5 192.3,431.4 198.7,437.2 205.1,434.8 211.5,436.5" stroke="#0000ff"/><path d="M57.9,294.5 64.3,338.1 70.7,387.5 77.1,417.3 83.5,434.1 89.9,441.2 96.3,422.6 102.7,436.2 109.1,423.8 115.5,421.2 121.9,434.1 128.3,420.3 134.7,430.3 141.1,442.4 147.5,437.4 153.9,440.7 160.3,439.9 166.7,436.0 173.1,430.6 179.5,426.8 185.9,438.9 192.3,430.8 198.7,441.4 205.1,420.5 211.5,414.8" stroke="#0000ff"/><path d="M57.9,296.5 64.3,323.0 70.7,384.4 77.1,396.3 83.5,421.7 89.9,427.3 96.3,440.9 102.7,430.9 109.1,406.6 115.5,432.0 121.9,429.6 128.3,426.2 134.7,417.0 141.1,418.8 147.5,413.5 153.9,428.4 160.3,411.4 166.7,413.0 173.1,436.4 179.5,408.2 185.9,401.2 192.3,430.7 198.7,418.0 205.1,409.2 211.5,436.4" stroke="#0000ff"/><path d="M57.9,370.7 64.3,422.7 70.7,446.9 77.1,426.0 83.5,439.3 89.9,424.8 96.3,412.9 102.7,405.0 109.1,385.7 115.5,392.3 121.9,379.0 128.3,407.5 134.7,396.7 141.1,387.8 147.5,365.4 153.9,401.0 160.3,404.8 166.7,399.7 173.1,377.0 179.5,392.5 185.9,370.5 192.3,412.3 198.7,374.2 205.1,373.4 211.5,401.2" stroke="#ff0000"/><path d="M57.9,347.6 64.3,367.0 70.7,386.9 77.1,423.5 83.5,442.0 89.9,433.2 96.3,443.9 102.7,429.4 109.1,416.8 115.5,423.0 121.9,376.5 128.3,389.6 134.7,384.2 141.1,394.4 147.5,385.8 153.9,378.4 160.3,384.6 166.7,389.8 173.1,388.1 179.5,390.0 185.9,402.8 192.3,387.2 198.7,373.9 205.1,366.0 211.5,326.4" stroke="#ff0000"/><path d="M57.9,358.8 64.3,330.5 70.7,406.5 77.1,432.2 83.5,460.4 89.9,461.0 96.3,449.5 102.7,453.2 109.1,441.3 115.5,466.7 121.9,438.4 128.3,459.2 134.7,424.2 141.1,436.1 147.5,402.2 153.9,423.9 160.3,400.5 166.7,419.3 173.1,416.9 179.5,411.2 185.9,415.8 192.3,406.1 198.7,396.3 205.1,399.3 211.5,407.7" stroke="#ff0000"/><path d="M57.9,358.4 64.3,433.2 70.7,424.7 77.1,425.6 83.5,438.5 89.9,443.9 96.3,426.0 102.7,409.5 109.1,432.1 115.5,448.9 121.9,416.3 128.3,458.2 134.7,424.8 141.1,443.9 147.5,423.1 153.9,435.3 160.3,388.7 166.7,385.9 173.1,415.5 179.5,420.7 185.9,398.0 192.3,376.7 198.7,388.6 205.1,387.4 211.5,392.0" stroke="#ff0000"/><path d="M57.9,335.3 64.3,378.7 70.7,407.9 77.1,416.8 83.5,437.9 89.9,441.6 96.3,449.8 102.7,434.8 109.1,418.3 115.5,429.0 121.9,419.6 128.3,448.1 134.7,435.7 141.1,440.8 147.5,448.2 153.9,399.5 160.3,407.8 166.7,409.9 173.1,393.7 179.5,365.3 185.9,389.1 192.3,363.4 198.7,388.3 205.1,378.7 211.5,391.0" stroke="#ff0000"/><path d="M57.9,389.0 64.3,424.4 70.7,461.9 77.1,477.1 83.5,458.7 89.9,436.0 96.3,425.4 102.7,436.6 109.1,439.4 115.5,453.7 121.9,420.4 128.3,425.9 134.7,449.1 141.1,440.5 147.5,459.4 153.9,384.0 160.3,443.0 166.7,454.1 173.1,449.7 179.5,440.7 185.9,440.2 192.3,439.9 198.7,434.1 205.1,440.9 211.5,408.6" stroke="#ff0000"/><path d="M57.9,319.5 64.3,370.1 70.7,425.7 77.1,427.0 83.5,420.3 89.9,451.1 96.3,413.2 102.7,417.2 109.1,424.4 115.5,441.3 121.9,432.5 128.3,451.6 134.7,435.1 141.1,446.1 147.5,436.5 153.9,442.4 160.3,431.6 166.7,414.8 173.1,448.6 179.5,420.8 185.9,463.6 192.3,462.9 198.7,435.5 205.1,431.2 211.5,424.0" stroke="#ff0000"/><path d="M57.9,321.2 64.3,391.1 70.7,435.0 77.1,430.6 83.5,439.2 89.9,449.5 96.3,463.4 102.7,438.9 109.1,437.2 115.5,474.2 121.9,427.7 128.3,425.7 134.7,439.4 141.1,432.2 147.5,434.7 153.9,440.7 160.3,430.0 166.7,406.0 173.1,445.7 179.5,424.1 185.9,427.0 192.3,441.7 198.7,434.9 205.1,445.7 211.5,441.1" stroke="#ff0000"/><path d="M57.9,364.5 64.3,414.9 70.7,444.2 77.1,454.4 83.5,437.2 89.9,446.5 96.3,452.1 102.7,433.3 109.1,434.8 115.5,443.8 121.9,433.0 128.3,450.6 134.7,424.4 141.1,427.3 147.5,441.1 153.9,456.2 160.3,422.3 166.7,415.6 173.1,405.1 179.5,457.5 185.9,438.7 192.3,456.3 198.7,443.4 205.1,439.5 211.5,462.5" stroke="#ff0000"/><path d="M57.9,330.5 64.3,376.8 70.7,415.3 77.1,441.9 83.5,421.7 89.9,440.5 96.3,440.8 102.7,449.1 109.1,412.4 115.5,425.1 121.9,438.5 128.3,447.7 134.7,459.2 141.1,433.4 147.5,439.0 153.9,464.2 160.3,429.1 166.7,434.9 173.1,460.1 179.5,455.7 185.9,450.5 192.3,443.5 198.7,445.7 205.1,463.7 211.5,422.7" stroke="#ff0000"/></g><path d="M51.0 466.8H211.5" stroke="#404040" stroke-width="1" fill="none"/><path d="M51.5 359.0V466.5M51.5 431.5h2.2M51.5 359.5h2.2M51.5 399.5h2.2M51.5 376.5h2.2M115.5 466.5v-2.2M179.5 466.5v-2.2" stroke="#555" stroke-width="1" fill="none"/><text transform="translate(37.13,363.80) scale(1.0000,1)" font-family="'Liberation Sans',Arial,Helvetica,sans-serif" font-size="12" fill="#262626">5</text><text transform="translate(37.23,435.89) scale(1.0000,1)" font-family="'Liberation Sans',Arial,Helvetica,sans-serif" font-size="12" fill="#262626">2</text><text transform="translate(46.86,486.00) scale(1.0000,1)" font-family="'Liberation Sans',Arial,Helvetica,sans-serif" font-size="12" fill="#262626">0</text><text transform="translate(107.40,486.00) scale(1.0000,1)" font-family="'Liberation Sans',Arial,Helvetica,sans-serif" font-size="12" fill="#262626">10</text><text transform="translate(171.56,486.00) scale(1.0000,1)" font-family="'Liberation Sans',Arial,Helvetica,sans-serif" font-size="12" fill="#262626">20</text><text transform="translate(107.88,505.90) scale(1.0000,1)" font-family="'Liberation Sans',Arial,Helvetica,sans-serif" font-size="14.3" fill="#262626">epoch</text><text transform="translate(11.97,352.55) scale(1.0000,1)" font-family="'Liberation Sans',Arial,Helvetica,sans-serif" font-size="16.8" fill="#000" stroke="#000" stroke-width="0.55">E</text><text transform="translate(86.95,351.90) scale(1.0626,1)" font-family="'Liberation Sans',Arial,Helvetica,sans-serif" font-size="14.3" fill="#ff6600">Mometum</text><text transform="translate(28.40,446.28) rotate(-90) scale(1.0024,1)" font-family="'Liberation Sans',Arial,Helvetica,sans-serif" font-size="14.5" fill="#262626">log error</text><path d="M269.5 415.5H429.5M269.5 358.5H429.5M333.5 466.5V358.6M397.5 466.5V358.6" stroke="#e4e4e4" stroke-width="1" fill="none"/><path d="M270.5 390.5H429.5M270.5 372.5H429.5M270.5 458.5H429.5M270.5 464.5H429.5" stroke="#cfcfcf" stroke-width="1" stroke-dasharray="1.5 2.5" fill="none"/><clipPath id="clipF"><rect x="269.5" y="358.1" width="160.0" height="108.4"/></clipPath><g clip-path="url(#clipF)" fill="none" stroke-width="1" stroke-linejoin="miter"><path d="M275.9,355.6 282.3,368.2 288.7,399.6 295.1,443.5 301.5,453.1 307.9,449.1 314.3,453.4 320.7,451.2 327.1,446.9 333.5,474.0 339.9,446.4 346.3,462.8 352.7,470.5 359.1,457.2 365.5,453.6 371.9,463.0 378.3,466.3 384.7,458.9 391.1,459.9 397.5,446.6 403.9,450.6 410.3,454.8 416.7,447.4 423.1,455.3 429.5,456.2" stroke="#0000ff"/><path d="M275.9,326.6 282.3,365.9 288.7,407.9 295.1,420.7 301.5,432.8 307.9,444.7 314.3,446.2 320.7,448.4 327.1,431.3 333.5,456.5 339.9,452.2 346.3,449.3 352.7,443.6 359.1,445.4 365.5,460.3 371.9,463.8 378.3,452.5 384.7,440.9 391.1,447.0 397.5,450.8 403.9,456.1 410.3,448.0 416.7,451.2 423.1,443.1 429.5,457.4" stroke="#0000ff"/><path d="M275.9,342.0 282.3,361.1 288.7,400.1 295.1,416.1 301.5,426.7 307.9,420.8 314.3,431.2 320.7,432.3 327.1,426.5 333.5,410.0 339.9,428.6 346.3,433.7 352.7,440.6 359.1,443.7 365.5,430.3 371.9,427.1 378.3,430.0 384.7,428.4 391.1,429.0 397.5,428.9 403.9,437.2 410.3,427.0 416.7,419.3 423.1,427.1 429.5,424.3" stroke="#0000ff"/><path d="M275.9,341.6 282.3,375.4 288.7,410.4 295.1,408.3 301.5,427.3 307.9,418.9 314.3,430.3 320.7,434.0 327.1,432.3 333.5,434.7 339.9,423.2 346.3,415.2 352.7,421.8 359.1,415.8 365.5,409.3 371.9,420.1 378.3,419.6 384.7,424.6 391.1,430.9 397.5,411.7 403.9,425.5 410.3,406.7 416.7,411.5 423.1,401.8 429.5,408.6" stroke="#0000ff"/><path d="M275.9,346.1 282.3,377.8 288.7,418.7 295.1,416.8 301.5,436.5 307.9,447.0 314.3,449.7 320.7,445.0 327.1,430.2 333.5,446.9 339.9,442.7 346.3,443.9 352.7,448.2 359.1,431.6 365.5,454.9 371.9,444.9 378.3,450.5 384.7,450.8 391.1,465.1 397.5,444.0 403.9,457.1 410.3,457.3 416.7,462.5 423.1,458.7 429.5,450.4" stroke="#0000ff"/><path d="M275.9,316.7 282.3,367.2 288.7,383.0 295.1,414.6 301.5,414.2 307.9,421.8 314.3,436.9 320.7,424.4 327.1,419.8 333.5,428.9 339.9,427.3 346.3,415.4 352.7,423.5 359.1,432.0 365.5,422.6 371.9,415.0 378.3,424.7 384.7,412.5 391.1,410.0 397.5,418.8 403.9,425.9 410.3,427.3 416.7,416.6 423.1,411.8 429.5,416.5" stroke="#0000ff"/><path d="M275.9,340.8 282.3,372.6 288.7,417.5 295.1,432.9 301.5,437.5 307.9,434.5 314.3,448.9 320.7,437.6 327.1,438.4 333.5,420.4 339.9,438.9 346.3,444.9 352.7,431.6 359.1,439.8 365.5,436.4 371.9,436.0 378.3,430.1 384.7,449.9 391.1,444.6 397.5,464.3 403.9,448.3 410.3,430.6 416.7,448.4 423.1,444.8 429.5,449.8" stroke="#0000ff"/><path d="M275.9,343.9 282.3,386.9 288.7,428.5 295.1,434.4 301.5,425.5 307.9,432.8 314.3,442.3 320.7,427.7 327.1,428.6 333.5,430.7 339.9,433.1 346.3,428.8 352.7,432.7 359.1,428.9 365.5,439.4 371.9,423.0 378.3,436.4 384.7,423.0 391.1,452.2 397.5,431.9 403.9,428.0 410.3,437.9 416.7,431.8 423.1,430.4 429.5,428.3" stroke="#0000ff"/><path d="M275.9,325.6 282.3,379.6 288.7,412.8 295.1,424.5 301.5,415.6 307.9,419.3 314.3,420.0 320.7,430.0 327.1,433.4 333.5,427.4 339.9,437.0 346.3,427.4 352.7,430.6 359.1,440.2 365.5,439.3 371.9,439.0 378.3,428.6 384.7,425.1 391.1,444.3 397.5,444.6 403.9,462.3 410.3,443.7 416.7,443.5 423.1,450.7 429.5,436.1" stroke="#0000ff"/><path d="M275.9,337.5 282.3,366.7 288.7,410.5 295.1,427.9 301.5,431.7 307.9,436.6 314.3,432.6 320.7,436.5 327.1,435.4 333.5,423.8 339.9,441.8 346.3,437.4 352.7,438.9 359.1,429.6 365.5,441.2 371.9,436.8 378.3,430.4 384.7,424.0 391.1,427.5 397.5,433.5 403.9,433.8 410.3,422.5 416.7,411.7 423.1,418.9 429.5,418.1" stroke="#0000ff"/><path d="M275.9,388.7 282.3,392.1 288.7,444.4 295.1,432.5 301.5,429.1 307.9,446.3 314.3,422.9 320.7,430.6 327.1,421.1 333.5,418.3 339.9,437.8 346.3,434.6 352.7,430.7 359.1,416.2 365.5,418.3 371.9,432.3 378.3,431.5 384.7,423.4 391.1,410.7 397.5,396.6 403.9,394.4 410.3,371.2 416.7,395.1 423.1,395.8 429.5,387.7" stroke="#ff0000"/><path d="M275.9,385.9 282.3,401.0 288.7,409.6 295.1,400.6 301.5,438.3 307.9,414.9 314.3,430.3 320.7,423.2 327.1,395.1 333.5,436.2 339.9,427.8 346.3,433.7 352.7,418.6 359.1,427.0 365.5,408.4 371.9,415.8 378.3,415.6 384.7,407.2 391.1,401.6 397.5,399.5 403.9,389.5 410.3,391.0 416.7,378.4 423.1,384.3 429.5,392.0" stroke="#ff0000"/><path d="M275.9,388.5 282.3,407.6 288.7,439.8 295.1,419.5 301.5,403.7 307.9,426.9 314.3,401.7 320.7,405.5 327.1,415.4 333.5,417.7 339.9,413.3 346.3,423.3 352.7,388.9 359.1,409.7 365.5,398.4 371.9,395.9 378.3,410.6 384.7,391.7 391.1,405.1 397.5,398.6 403.9,385.0 410.3,379.3 416.7,372.3 423.1,366.4 429.5,373.8" stroke="#ff0000"/><path d="M275.9,370.7 282.3,399.8 288.7,410.9 295.1,431.2 301.5,433.8 307.9,440.3 314.3,438.2 320.7,420.6 327.1,415.4 333.5,422.0 339.9,426.1 346.3,433.8 352.7,413.9 359.1,402.6 365.5,438.5 371.9,407.4 378.3,441.9 384.7,422.5 391.1,413.1 397.5,431.1 403.9,437.8 410.3,416.6 416.7,407.1 423.1,421.2 429.5,402.4" stroke="#ff0000"/><path d="M275.9,360.4 282.3,369.7 288.7,397.7 295.1,411.8 301.5,403.3 307.9,417.8 314.3,417.6 320.7,417.1 327.1,410.4 333.5,408.7 339.9,398.1 346.3,418.8 352.7,404.3 359.1,423.1 365.5,412.0 371.9,418.6 378.3,399.1 384.7,409.1 391.1,420.8 397.5,407.2 403.9,410.6 410.3,417.7 416.7,420.5 423.1,425.4 429.5,386.0" stroke="#ff0000"/><path d="M275.9,380.6 282.3,395.3 288.7,413.1 295.1,451.2 301.5,416.1 307.9,440.1 314.3,440.9 320.7,435.8 327.1,419.7 333.5,417.2 339.9,433.1 346.3,423.5 352.7,386.3 359.1,435.7 365.5,422.7 371.9,421.8 378.3,440.1 384.7,411.9 391.1,441.2 397.5,423.0 403.9,434.9 410.3,430.6 416.7,424.2 423.1,406.4 429.5,424.2" stroke="#ff0000"/><path d="M275.9,375.8 282.3,383.6 288.7,425.0 295.1,408.6 301.5,414.7 307.9,424.8 314.3,424.4 320.7,438.8 327.1,412.0 333.5,422.6 339.9,392.6 346.3,414.1 352.7,428.0 359.1,424.8 365.5,428.0 371.9,435.2 378.3,393.0 384.7,419.7 391.1,420.2 397.5,403.7 403.9,445.4 410.3,411.3 416.7,410.5 423.1,417.2 429.5,399.8" stroke="#ff0000"/><path d="M275.9,373.5 282.3,409.0 288.7,427.3 295.1,449.2 301.5,439.4 307.9,443.0 314.3,441.2 320.7,427.4 327.1,457.1 333.5,444.2 339.9,471.2 346.3,442.8 352.7,459.2 359.1,451.6 365.5,452.1 371.9,436.8 378.3,453.8 384.7,459.0 391.1,465.3 397.5,449.6 403.9,462.6 410.3,428.7 416.7,459.8 423.1,449.2 429.5,462.4" stroke="#ff0000"/><path d="M275.9,370.2 282.3,364.6 288.7,385.3 295.1,424.6 301.5,406.4 307.9,394.9 314.3,424.1 320.7,414.5 327.1,422.6 333.5,421.5 339.9,425.3 346.3,428.8 352.7,417.7 359.1,416.2 365.5,424.4 371.9,412.6 378.3,416.5 384.7,421.9 391.1,438.8 397.5,413.6 403.9,421.2 410.3,459.1 416.7,447.4 423.1,443.0 429.5,426.1" stroke="#ff0000"/><path d="M275.9,384.2 282.3,397.1 288.7,421.2 295.1,422.1 301.5,408.2 307.9,402.1 314.3,418.1 320.7,430.7 327.1,421.2 333.5,426.9 339.9,435.9 346.3,427.8 352.7,430.1 359.1,435.7 365.5,415.1 371.9,435.3 378.3,434.7 384.7,419.6 391.1,433.0 397.5,435.5 403.9,430.8 410.3,416.7 416.7,415.5 423.1,416.5 429.5,423.7" stroke="#ff0000"/></g><path d="M269.0 466.8H429.5" stroke="#404040" stroke-width="1" fill="none"/><path d="M269.5 358.6V466.5M269.5 415.5h2.2M269.5 358.5h2.2M269.5 390.5h2.2M269.5 372.5h2.2M269.5 458.5h2.2M269.5 464.5h2.2M333.5 466.5v-2.2M397.5 466.5v-2.2" stroke="#555" stroke-width="1" fill="none"/><text transform="translate(255.13,363.40) scale(1.0000,1)" font-family="'Liberation Sans',Arial,Helvetica,sans-serif" font-size="12" fill="#262626">5</text><text transform="translate(255.23,419.89) scale(1.0000,1)" font-family="'Liberation Sans',Arial,Helvetica,sans-serif" font-size="12" fill="#262626">2</text><text transform="translate(264.86,486.00) scale(1.0000,1)" font-family="'Liberation Sans',Arial,Helvetica,sans-serif" font-size="12" fill="#262626">0</text><text transform="translate(325.40,486.00) scale(1.0000,1)" font-family="'Liberation Sans',Arial,Helvetica,sans-serif" font-size="12" fill="#262626">10</text><text transform="translate(389.56,486.00) scale(1.0000,1)" font-family="'Liberation Sans',Arial,Helvetica,sans-serif" font-size="12" fill="#262626">20</text><text transform="translate(325.88,505.90) scale(1.0000,1)" font-family="'Liberation Sans',Arial,Helvetica,sans-serif" font-size="14.3" fill="#262626">epoch</text><text transform="translate(233.57,351.85) scale(1.0000,1)" font-family="'Liberation Sans',Arial,Helvetica,sans-serif" font-size="16.8" fill="#000" stroke="#000" stroke-width="0.55">F</text><text transform="translate(304.25,351.90) scale(1.0659,1)" font-family="'Liberation Sans',Arial,Helvetica,sans-serif" font-size="14.3" fill="#ff6600">Mometum</text><path d="M485.5 413.5H645.5M485.5 358.5H645.5M549.5 466.5V358.6M613.5 466.5V358.6" stroke="#e4e4e4" stroke-width="1" fill="none"/><path d="M486.5 389.5H645.5M486.5 371.5H645.5M486.5 454.5H645.5M486.5 461.5H645.5" stroke="#cfcfcf" stroke-width="1" stroke-dasharray="1.5 2.5" fill="none"/><clipPath id="clipG"><rect x="485.5" y="358.1" width="160.0" height="108.4"/></clipPath><g clip-path="url(#clipG)" fill="none" stroke-width="1" stroke-linejoin="miter"><path d="M491.9,359.4 498.3,405.7 504.7,427.7 511.1,447.1 517.5,442.8 523.9,445.1 530.3,446.3 536.7,449.6 543.1,444.4 549.5,452.4 555.9,456.4 562.3,441.5 568.7,451.8 575.1,437.4 581.5,441.3 587.9,464.7 594.3,448.4 600.7,460.2 607.1,452.9 613.5,452.0 619.9,467.8 626.3,455.3 632.7,454.7 639.1,443.8 645.5,463.4" stroke="#0000ff"/><path d="M491.9,360.5 498.3,400.0 504.7,415.4 511.1,433.0 517.5,438.1 523.9,422.3 530.3,435.3 536.7,430.1 543.1,428.2 549.5,429.5 555.9,427.4 562.3,416.5 568.7,431.2 575.1,436.1 581.5,441.4 587.9,429.3 594.3,430.2 600.7,425.4 607.1,432.9 613.5,431.6 619.9,435.8 626.3,436.4 632.7,433.4 639.1,435.8 645.5,432.7" stroke="#0000ff"/><path d="M491.9,347.2 498.3,384.3 504.7,411.3 511.1,433.9 517.5,444.5 523.9,442.2 530.3,456.4 536.7,454.1 543.1,445.7 549.5,445.5 555.9,439.2 562.3,450.6 568.7,458.9 575.1,434.8 581.5,441.2 587.9,458.7 594.3,441.9 600.7,454.4 607.1,469.0 613.5,457.7 619.9,459.3 626.3,442.9 632.7,460.1 639.1,455.4 645.5,454.0" stroke="#0000ff"/><path d="M491.9,354.3 498.3,391.2 504.7,417.7 511.1,427.1 517.5,427.4 523.9,434.1 530.3,445.4 536.7,438.2 543.1,437.1 549.5,423.2 555.9,439.9 562.3,448.7 568.7,444.3 575.1,429.4 581.5,446.1 587.9,459.2 594.3,446.4 600.7,442.3 607.1,433.7 613.5,451.1 619.9,434.7 626.3,429.9 632.7,442.4 639.1,440.1 645.5,420.1" stroke="#0000ff"/><path d="M491.9,341.1 498.3,370.5 504.7,396.5 511.1,422.6 517.5,427.7 523.9,435.7 530.3,440.0 536.7,436.2 543.1,423.8 549.5,426.2 555.9,434.6 562.3,438.2 568.7,429.0 575.1,432.5 581.5,431.3 587.9,435.6 594.3,433.2 600.7,431.4 607.1,426.9 613.5,429.4 619.9,427.0 626.3,432.0 632.7,439.6 639.1,436.6 645.5,432.8" stroke="#0000ff"/><path d="M491.9,335.0 498.3,376.9 504.7,410.4 511.1,417.7 517.5,418.8 523.9,432.8 530.3,437.2 536.7,416.3 543.1,433.5 549.5,417.0 555.9,426.8 562.3,432.3 568.7,432.6 575.1,426.3 581.5,420.9 587.9,429.6 594.3,420.8 600.7,412.1 607.1,434.3 613.5,440.9 619.9,440.8 626.3,443.9 632.7,438.0 639.1,440.4 645.5,443.5" stroke="#0000ff"/><path d="M491.9,379.9 498.3,424.7 504.7,435.4 511.1,448.8 517.5,451.3 523.9,436.2 530.3,438.5 536.7,446.1 543.1,448.7 549.5,447.2 555.9,447.5 562.3,449.1 568.7,446.7 575.1,450.5 581.5,442.7 587.9,444.3 594.3,446.1 600.7,450.9 607.1,450.7 613.5,440.5 619.9,443.3 626.3,439.8 632.7,457.5 639.1,461.6 645.5,438.5" stroke="#0000ff"/><path d="M491.9,330.4 498.3,369.4 504.7,388.7 511.1,422.6 517.5,440.9 523.9,416.5 530.3,423.0 536.7,426.4 543.1,425.1 549.5,433.4 555.9,433.3 562.3,427.7 568.7,427.1 575.1,424.2 581.5,430.7 587.9,434.1 594.3,430.7 600.7,419.5 607.1,415.7 613.5,431.6 619.9,432.1 626.3,415.8 632.7,421.2 639.1,421.4 645.5,438.3" stroke="#0000ff"/><path d="M491.9,350.7 498.3,380.6 504.7,422.4 511.1,421.5 517.5,435.4 523.9,437.0 530.3,429.7 536.7,419.2 543.1,441.1 549.5,437.1 555.9,425.6 562.3,435.9 568.7,419.7 575.1,429.7 581.5,430.0 587.9,427.8 594.3,413.7 600.7,420.8 607.1,419.8 613.5,424.2 619.9,439.4 626.3,432.7 632.7,412.7 639.1,417.9 645.5,419.0" stroke="#0000ff"/><path d="M491.9,341.2 498.3,381.2 504.7,417.4 511.1,425.6 517.5,428.7 523.9,441.1 530.3,429.3 536.7,434.1 543.1,439.2 549.5,428.3 555.9,421.3 562.3,447.2 568.7,447.8 575.1,446.4 581.5,414.8 587.9,431.0 594.3,428.2 600.7,435.7 607.1,435.8 613.5,443.2 619.9,428.0 626.3,428.9 632.7,446.5 639.1,438.7 645.5,441.7" stroke="#0000ff"/><path d="M491.9,380.9 498.3,393.1 504.7,434.9 511.1,406.8 517.5,424.5 523.9,415.8 530.3,406.5 536.7,444.7 543.1,425.3 549.5,417.5 555.9,414.2 562.3,400.2 568.7,399.5 575.1,392.1 581.5,395.3 587.9,393.6 594.3,398.5 600.7,387.1 607.1,397.8 613.5,391.9 619.9,382.1 626.3,386.1 632.7,400.6 639.1,398.4 645.5,388.0" stroke="#ff0000"/><path d="M491.9,396.1 498.3,424.3 504.7,447.8 511.1,420.9 517.5,426.9 523.9,431.7 530.3,440.7 536.7,417.7 543.1,420.8 549.5,418.1 555.9,433.7 562.3,371.4 568.7,432.0 575.1,402.0 581.5,431.9 587.9,398.8 594.3,400.8 600.7,425.1 607.1,402.3 613.5,405.0 619.9,410.3 626.3,400.8 632.7,403.3 639.1,387.0 645.5,387.2" stroke="#ff0000"/><path d="M491.9,382.1 498.3,407.3 504.7,423.6 511.1,432.7 517.5,413.8 523.9,442.1 530.3,427.6 536.7,427.7 543.1,425.0 549.5,430.9 555.9,403.1 562.3,424.5 568.7,423.7 575.1,415.2 581.5,419.2 587.9,405.2 594.3,432.2 600.7,394.2 607.1,417.3 613.5,412.0 619.9,401.3 626.3,414.0 632.7,423.3 639.1,403.2 645.5,417.8" stroke="#ff0000"/><path d="M491.9,367.6 498.3,371.7 504.7,403.1 511.1,415.0 517.5,409.5 523.9,415.0 530.3,438.1 536.7,427.5 543.1,433.0 549.5,420.9 555.9,407.7 562.3,410.3 568.7,396.7 575.1,405.4 581.5,380.8 587.9,405.8 594.3,426.7 600.7,420.9 607.1,412.1 613.5,410.2 619.9,414.4 626.3,417.0 632.7,402.6 639.1,385.5 645.5,358.3" stroke="#ff0000"/><path d="M491.9,353.4 498.3,410.5 504.7,423.6 511.1,432.8 517.5,427.9 523.9,427.9 530.3,440.9 536.7,429.8 543.1,415.5 549.5,394.4 555.9,448.8 562.3,421.1 568.7,430.5 575.1,420.7 581.5,427.1 587.9,431.3 594.3,426.4 600.7,418.4 607.1,420.1 613.5,435.8 619.9,434.6 626.3,434.0 632.7,400.1 639.1,394.8 645.5,396.3" stroke="#ff0000"/><path d="M491.9,391.2 498.3,406.5 504.7,450.3 511.1,427.5 517.5,438.4 523.9,426.7 530.3,446.6 536.7,459.5 543.1,431.4 549.5,423.6 555.9,452.6 562.3,429.9 568.7,429.7 575.1,439.0 581.5,423.9 587.9,437.3 594.3,418.6 600.7,419.1 607.1,436.2 613.5,434.5 619.9,430.4 626.3,451.0 632.7,438.1 639.1,431.6 645.5,409.2" stroke="#ff0000"/><path d="M491.9,388.8 498.3,424.6 504.7,429.3 511.1,443.0 517.5,440.0 523.9,448.1 530.3,449.5 536.7,441.1 543.1,457.8 549.5,451.7 555.9,431.1 562.3,428.9 568.7,446.9 575.1,443.8 581.5,424.0 587.9,456.2 594.3,437.3 600.7,432.4 607.1,440.4 613.5,440.4 619.9,452.8 626.3,432.9 632.7,442.5 639.1,450.7 645.5,435.5" stroke="#ff0000"/><path d="M491.9,354.2 498.3,425.7 504.7,430.8 511.1,431.9 517.5,441.0 523.9,438.4 530.3,417.5 536.7,441.8 543.1,414.2 549.5,439.9 555.9,437.6 562.3,417.8 568.7,440.8 575.1,411.4 581.5,425.8 587.9,411.7 594.3,433.2 600.7,431.4 607.1,418.6 613.5,430.1 619.9,434.2 626.3,417.9 632.7,427.9 639.1,437.0 645.5,429.5" stroke="#ff0000"/><path d="M491.9,374.9 498.3,366.9 504.7,406.7 511.1,419.7 517.5,428.3 523.9,444.9 530.3,433.0 536.7,437.4 543.1,446.8 549.5,435.8 555.9,432.0 562.3,442.5 568.7,428.1 575.1,433.1 581.5,429.4 587.9,429.9 594.3,436.4 600.7,403.7 607.1,418.8 613.5,416.6 619.9,430.7 626.3,426.0 632.7,419.5 639.1,434.5 645.5,417.2" stroke="#ff0000"/><path d="M491.9,360.8 498.3,400.6 504.7,431.2 511.1,422.8 517.5,435.8 523.9,429.0 530.3,433.7 536.7,416.1 543.1,428.5 549.5,416.5 555.9,431.1 562.3,414.9 568.7,410.1 575.1,415.8 581.5,418.6 587.9,417.4 594.3,408.9 600.7,411.2 607.1,416.0 613.5,427.3 619.9,426.2 626.3,414.0 632.7,416.6 639.1,405.4 645.5,401.0" stroke="#ff0000"/></g><path d="M485.0 466.8H645.5" stroke="#404040" stroke-width="1" fill="none"/><path d="M485.5 358.6V466.5M485.5 413.5h2.2M485.5 358.5h2.2M485.5 389.5h2.2M485.5 371.5h2.2M485.5 454.5h2.2M485.5 461.5h2.2M549.5 466.5v-2.2M613.5 466.5v-2.2" stroke="#555" stroke-width="1" fill="none"/><text transform="translate(471.13,363.40) scale(1.0000,1)" font-family="'Liberation Sans',Arial,Helvetica,sans-serif" font-size="12" fill="#262626">5</text><text transform="translate(471.23,417.82) scale(1.0000,1)" font-family="'Liberation Sans',Arial,Helvetica,sans-serif" font-size="12" fill="#262626">2</text><text transform="translate(480.86,486.00) scale(1.0000,1)" font-family="'Liberation Sans',Arial,Helvetica,sans-serif" font-size="12" fill="#262626">0</text><text transform="translate(541.40,486.00) scale(1.0000,1)" font-family="'Liberation Sans',Arial,Helvetica,sans-serif" font-size="12" fill="#262626">10</text><text transform="translate(605.56,486.00) scale(1.0000,1)" font-family="'Liberation Sans',Arial,Helvetica,sans-serif" font-size="12" fill="#262626">20</text><text transform="translate(541.88,505.90) scale(1.0000,1)" font-family="'Liberation Sans',Arial,Helvetica,sans-serif" font-size="14.3" fill="#262626">epoch</text><text transform="translate(443.31,355.95) scale(1.0000,1)" font-family="'Liberation Sans',Arial,Helvetica,sans-serif" font-size="16.8" fill="#000" stroke="#000" stroke-width="0.55">G</text><text transform="translate(519.72,351.90) scale(1.0870,1)" font-family="'Liberation Sans',Arial,Helvetica,sans-serif" font-size="14.3" fill="#ff6600">Mometum</text><path d="M51.5 583.5H211.5M51.5 533.5H211.5M115.5 640.5V533.0M179.5 640.5V533.0" stroke="#e4e4e4" stroke-width="1" fill="none"/><path d="M52.5 561.5H211.5M52.5 545.5H211.5M52.5 622.5H211.5M52.5 627.5H211.5M52.5 634.5H211.5" stroke="#cfcfcf" stroke-width="1" stroke-dasharray="1.5 2.5" fill="none"/><clipPath id="clipH"><rect x="51.5" y="532.5" width="160.0" height="108.0"/></clipPath><g clip-path="url(#clipH)" fill="none" stroke-width="1" stroke-linejoin="miter"><path d="M57.9,511.6 64.3,556.6 70.7,581.6 77.1,595.8 83.5,597.6 89.9,600.1 96.3,602.8 102.7,600.2 109.1,606.7 115.5,606.1 121.9,604.3 128.3,610.2 134.7,609.7 141.1,609.2 147.5,611.6 153.9,616.6 160.3,615.9 166.7,614.7 173.1,625.7 179.5,620.2 185.9,624.3 192.3,626.8 198.7,619.9 205.1,624.2 211.5,633.1" stroke="#0000ff"/><path d="M57.9,512.1 64.3,557.2 70.7,579.7 77.1,588.0 83.5,593.8 89.9,598.7 96.3,598.9 102.7,601.9 109.1,600.7 115.5,604.7 121.9,607.7 128.3,605.6 134.7,608.0 141.1,606.5 147.5,611.2 153.9,609.8 160.3,618.1 166.7,615.1 173.1,621.7 179.5,622.2 185.9,617.4 192.3,620.1 198.7,618.3 205.1,613.5 211.5,621.1" stroke="#0000ff"/><path d="M57.9,514.0 64.3,551.9 70.7,575.5 77.1,587.6 83.5,594.1 89.9,596.5 96.3,601.3 102.7,598.6 109.1,604.7 115.5,606.2 121.9,608.0 128.3,608.1 134.7,610.6 141.1,605.1 147.5,609.9 153.9,609.9 160.3,614.6 166.7,617.1 173.1,619.3 179.5,619.8 185.9,620.9 192.3,621.7 198.7,623.1 205.1,625.9 211.5,624.8" stroke="#0000ff"/><path d="M57.9,509.1 64.3,554.4 70.7,582.0 77.1,593.4 83.5,601.3 89.9,599.6 96.3,601.5 102.7,606.6 109.1,606.7 115.5,608.9 121.9,609.2 128.3,610.5 134.7,615.5 141.1,612.2 147.5,622.2 153.9,615.9 160.3,618.5 166.7,618.1 173.1,616.4 179.5,619.0 185.9,627.7 192.3,629.3 198.7,623.5 205.1,629.5 211.5,627.5" stroke="#0000ff"/><path d="M57.9,518.1 64.3,560.9 70.7,583.1 77.1,594.1 83.5,599.6 89.9,605.2 96.3,604.2 102.7,610.7 109.1,620.7 115.5,618.2 121.9,622.8 128.3,627.0 134.7,621.6 141.1,618.3 147.5,624.0 153.9,629.5 160.3,629.8 166.7,626.1 173.1,629.5 179.5,630.6 185.9,629.5 192.3,631.7 198.7,629.5 205.1,631.3 211.5,633.1" stroke="#0000ff"/><path d="M57.9,509.0 64.3,556.1 70.7,582.0 77.1,592.1 83.5,598.2 89.9,600.3 96.3,601.3 102.7,603.1 109.1,600.2 115.5,604.4 121.9,609.9 128.3,612.0 134.7,613.2 141.1,607.8 147.5,613.0 153.9,615.5 160.3,617.8 166.7,619.6 173.1,617.3 179.5,615.7 185.9,618.3 192.3,619.2 198.7,620.4 205.1,622.3 211.5,626.0" stroke="#0000ff"/><path d="M57.9,512.8 64.3,553.7 70.7,572.9 77.1,583.2 83.5,593.8 89.9,595.9 96.3,597.5 102.7,598.2 109.1,600.9 115.5,599.4 121.9,600.2 128.3,602.8 134.7,604.0 141.1,603.8 147.5,606.7 153.9,607.1 160.3,602.8 166.7,608.1 173.1,609.3 179.5,613.2 185.9,607.8 192.3,614.3 198.7,611.2 205.1,605.8 211.5,607.4" stroke="#0000ff"/><path d="M57.9,516.0 64.3,558.1 70.7,578.0 77.1,585.7 83.5,593.6 89.9,593.7 96.3,598.7 102.7,604.8 109.1,607.2 115.5,604.3 121.9,607.4 128.3,613.6 134.7,604.3 141.1,606.1 147.5,605.5 153.9,610.6 160.3,611.5 166.7,615.2 173.1,606.4 179.5,616.3 185.9,613.7 192.3,619.8 198.7,618.5 205.1,624.0 211.5,620.1" stroke="#0000ff"/><path d="M57.9,507.1 64.3,555.4 70.7,583.7 77.1,589.9 83.5,594.2 89.9,594.9 96.3,603.5 102.7,603.2 109.1,610.9 115.5,607.5 121.9,613.1 128.3,614.9 134.7,612.5 141.1,610.0 147.5,618.7 153.9,619.4 160.3,618.3 166.7,620.8 173.1,615.8 179.5,620.7 185.9,620.7 192.3,617.9 198.7,623.0 205.1,619.6 211.5,624.3" stroke="#0000ff"/><path d="M57.9,505.2 64.3,553.5 70.7,579.7 77.1,590.7 83.5,591.1 89.9,590.4 96.3,594.2 102.7,597.7 109.1,603.4 115.5,603.7 121.9,603.4 128.3,599.5 134.7,599.6 141.1,607.4 147.5,610.2 153.9,607.4 160.3,612.8 166.7,613.3 173.1,613.3 179.5,615.6 185.9,612.8 192.3,615.5 198.7,616.7 205.1,619.5 211.5,620.0" stroke="#0000ff"/><path d="M57.9,570.6 64.3,610.6 70.7,599.3 77.1,617.5 83.5,629.4 89.9,615.4 96.3,605.4 102.7,618.3 109.1,605.0 115.5,606.0 121.9,621.4 128.3,630.7 134.7,623.6 141.1,607.2 147.5,620.9 153.9,624.2 160.3,624.3 166.7,616.1 173.1,616.2 179.5,610.2 185.9,611.6 192.3,624.3 198.7,619.6 205.1,626.6 211.5,619.0" stroke="#ff0000"/><path d="M57.9,541.1 64.3,581.8 70.7,583.0 77.1,595.7 83.5,582.4 89.9,592.2 96.3,597.5 102.7,603.9 109.1,597.1 115.5,601.9 121.9,600.9 128.3,610.9 134.7,604.1 141.1,599.5 147.5,608.9 153.9,598.9 160.3,596.0 166.7,602.4 173.1,602.7 179.5,603.3 185.9,592.6 192.3,607.6 198.7,599.2 205.1,601.0 211.5,599.7" stroke="#ff0000"/><path d="M57.9,559.1 64.3,586.6 70.7,592.9 77.1,600.9 83.5,595.8 89.9,597.0 96.3,604.7 102.7,613.3 109.1,602.8 115.5,607.3 121.9,621.6 128.3,614.5 134.7,607.7 141.1,616.6 147.5,613.6 153.9,620.4 160.3,606.4 166.7,606.7 173.1,607.1 179.5,599.3 185.9,610.9 192.3,612.1 198.7,596.1 205.1,619.3 211.5,607.0" stroke="#ff0000"/><path d="M57.9,550.2 64.3,581.5 70.7,596.0 77.1,588.7 83.5,588.7 89.9,588.3 96.3,588.5 102.7,591.3 109.1,603.8 115.5,605.3 121.9,603.8 128.3,598.0 134.7,601.9 141.1,598.3 147.5,594.3 153.9,608.2 160.3,601.3 166.7,610.3 173.1,616.6 179.5,616.9 185.9,610.9 192.3,621.0 198.7,604.9 205.1,599.7 211.5,617.9" stroke="#ff0000"/><path d="M57.9,549.3 64.3,575.6 70.7,585.9 77.1,598.4 83.5,609.2 89.9,594.4 96.3,620.3 102.7,613.6 109.1,614.8 115.5,604.5 121.9,619.2 128.3,617.7 134.7,627.6 141.1,612.6 147.5,613.2 153.9,612.7 160.3,621.6 166.7,616.1 173.1,625.1 179.5,621.5 185.9,619.0 192.3,611.5 198.7,624.9 205.1,620.6 211.5,626.4" stroke="#ff0000"/><path d="M57.9,562.2 64.3,587.2 70.7,595.0 77.1,608.4 83.5,599.4 89.9,605.5 96.3,622.7 102.7,610.9 109.1,614.4 115.5,619.0 121.9,607.6 128.3,625.8 134.7,623.2 141.1,618.7 147.5,608.7 153.9,626.4 160.3,621.7 166.7,622.8 173.1,626.4 179.5,620.0 185.9,624.5 192.3,618.5 198.7,614.2 205.1,622.8 211.5,621.0" stroke="#ff0000"/><path d="M57.9,560.7 64.3,593.8 70.7,613.5 77.1,594.3 83.5,599.9 89.9,611.6 96.3,611.9 102.7,610.6 109.1,616.1 115.5,618.7 121.9,613.7 128.3,617.5 134.7,617.9 141.1,630.2 147.5,631.6 153.9,609.8 160.3,630.1 166.7,616.0 173.1,616.3 179.5,616.7 185.9,623.1 192.3,613.8 198.7,619.1 205.1,624.6 211.5,631.2" stroke="#ff0000"/><path d="M57.9,566.7 64.3,588.7 70.7,606.6 77.1,616.8 83.5,604.2 89.9,609.4 96.3,607.7 102.7,624.6 109.1,606.4 115.5,608.3 121.9,607.6 128.3,600.0 134.7,609.3 141.1,593.1 147.5,603.4 153.9,602.8 160.3,623.5 166.7,620.6 173.1,597.4 179.5,606.6 185.9,603.6 192.3,614.0 198.7,612.7 205.1,607.7 211.5,616.0" stroke="#ff0000"/><path d="M57.9,559.6 64.3,595.2 70.7,587.6 77.1,602.2 83.5,604.2 89.9,607.1 96.3,609.4 102.7,603.8 109.1,612.5 115.5,590.3 121.9,603.1 128.3,606.2 134.7,609.7 141.1,602.6 147.5,599.6 153.9,605.3 160.3,615.0 166.7,609.7 173.1,620.4 179.5,599.8 185.9,604.5 192.3,605.7 198.7,606.1 205.1,612.9 211.5,609.1" stroke="#ff0000"/><path d="M57.9,547.4 64.3,591.3 70.7,608.2 77.1,600.9 83.5,594.6 89.9,601.0 96.3,604.8 102.7,599.0 109.1,611.7 115.5,602.1 121.9,605.4 128.3,613.1 134.7,601.5 141.1,599.9 147.5,610.5 153.9,607.0 160.3,610.6 166.7,615.9 173.1,604.2 179.5,617.1 185.9,606.9 192.3,616.0 198.7,620.8 205.1,608.4 211.5,612.1" stroke="#ff0000"/></g><path d="M51.0 640.8H211.5" stroke="#404040" stroke-width="1" fill="none"/><path d="M51.5 533.0V640.5M51.5 583.5h2.2M51.5 533.5h2.2M51.5 561.5h2.2M51.5 545.5h2.2M51.5 622.5h2.2M51.5 627.5h2.2M51.5 634.5h2.2M115.5 640.5v-2.2M179.5 640.5v-2.2" stroke="#555" stroke-width="1" fill="none"/><text transform="translate(37.13,537.80) scale(1.0000,1)" font-family="'Liberation Sans',Arial,Helvetica,sans-serif" font-size="12" fill="#262626">5</text><text transform="translate(37.23,588.20) scale(1.0000,1)" font-family="'Liberation Sans',Arial,Helvetica,sans-serif" font-size="12" fill="#262626">2</text><text transform="translate(46.86,660.00) scale(1.0000,1)" font-family="'Liberation Sans',Arial,Helvetica,sans-serif" font-size="12" fill="#262626">0</text><text transform="translate(107.40,660.00) scale(1.0000,1)" font-family="'Liberation Sans',Arial,Helvetica,sans-serif" font-size="12" fill="#262626">10</text><text transform="translate(171.56,660.00) scale(1.0000,1)" font-family="'Liberation Sans',Arial,Helvetica,sans-serif" font-size="12" fill="#262626">20</text><text transform="translate(12.87,524.15) scale(1.0000,1)" font-family="'Liberation Sans',Arial,Helvetica,sans-serif" font-size="16.8" fill="#000" stroke="#000" stroke-width="0.55">H</text><text transform="translate(83.37,525.70) scale(1.0164,1)" font-family="'Liberation Sans',Arial,Helvetica,sans-serif" font-size="14.3" fill="#e633bf">Adaptive lr</text><text transform="translate(28.40,620.69) rotate(-90) scale(1.0175,1)" font-family="'Liberation Sans',Arial,Helvetica,sans-serif" font-size="14.5" fill="#262626">log error</text><rect x="82.4" y="546.5" width="115.3" height="36" fill="#fff" stroke="#333" stroke-width="1"/><path d="M87.1 556.5h41.1" stroke="#1010ff" stroke-width="1"/><path d="M87.1 572.5h41.1" stroke="#ff1010" stroke-width="1"/><text transform="translate(131.62,560.90) scale(1.0000,1)" font-family="'Liberation Sans',Arial,Helvetica,sans-serif" font-size="12" fill="#262626">train</text><text transform="translate(131.76,577.10) scale(1.0000,1)" font-family="'Liberation Sans',Arial,Helvetica,sans-serif" font-size="12" fill="#262626">validation</text><path d="M269.5 564.5H429.5M269.5 533.5H429.5M333.5 639.5V533.0M397.5 639.5V533.0" stroke="#e4e4e4" stroke-width="1" fill="none"/><path d="M270.5 550.5H429.5M270.5 540.5H429.5M270.5 588.5H429.5M270.5 591.5H429.5M270.5 595.5H429.5M270.5 600.5H429.5M270.5 605.5H429.5M270.5 612.5H429.5M270.5 619.5H429.5M270.5 629.5H429.5" stroke="#cfcfcf" stroke-width="1" stroke-dasharray="1.5 2.5" fill="none"/><clipPath id="clipI"><rect x="269.5" y="532.5" width="160.0" height="107.0"/></clipPath><g clip-path="url(#clipI)" fill="none" stroke-width="1" stroke-linejoin="miter"><path d="M275.9,547.2 282.3,565.3 288.7,580.1 295.1,582.7 301.5,592.9 307.9,596.5 314.3,595.5 320.7,601.2 327.1,600.9 333.5,601.7 339.9,601.5 346.3,599.4 352.7,600.3 359.1,599.9 365.5,599.3 371.9,601.2 378.3,604.5 384.7,603.2 391.1,602.7 397.5,604.7 403.9,600.8 410.3,605.9 416.7,606.5 423.1,605.7 429.5,602.4" stroke="#0000ff"/><path d="M275.9,544.4 282.3,572.3 288.7,581.2 295.1,588.8 301.5,598.8 307.9,593.7 314.3,603.5 320.7,605.8 327.1,601.7 333.5,604.0 339.9,607.4 346.3,606.0 352.7,607.6 359.1,610.4 365.5,610.5 371.9,614.5 378.3,617.9 384.7,612.6 391.1,623.7 397.5,617.8 403.9,624.9 410.3,624.1 416.7,628.7 423.1,626.9 429.5,630.6" stroke="#0000ff"/><path d="M275.9,541.6 282.3,565.6 288.7,578.8 295.1,580.5 301.5,589.5 307.9,594.6 314.3,594.4 320.7,595.4 327.1,592.2 333.5,601.5 339.9,608.2 346.3,603.9 352.7,602.3 359.1,605.8 365.5,605.3 371.9,606.8 378.3,610.4 384.7,615.1 391.1,612.6 397.5,616.3 403.9,613.0 410.3,611.1 416.7,609.7 423.1,613.3 429.5,617.0" stroke="#0000ff"/><path d="M275.9,548.3 282.3,567.0 288.7,583.2 295.1,586.4 301.5,599.9 307.9,592.0 314.3,593.6 320.7,599.6 327.1,601.5 333.5,603.2 339.9,603.7 346.3,604.8 352.7,613.9 359.1,607.7 365.5,613.9 371.9,613.0 378.3,614.9 384.7,613.8 391.1,618.7 397.5,622.5 403.9,630.8 410.3,629.7 416.7,627.0 423.1,629.9 429.5,630.1" stroke="#0000ff"/><path d="M275.9,543.5 282.3,567.9 288.7,578.4 295.1,581.9 301.5,587.2 307.9,590.2 314.3,596.9 320.7,595.2 327.1,591.8 333.5,591.4 339.9,590.0 346.3,599.8 352.7,599.0 359.1,602.1 365.5,611.1 371.9,606.6 378.3,609.1 384.7,603.7 391.1,608.4 397.5,612.0 403.9,609.5 410.3,607.9 416.7,606.6 423.1,611.7 429.5,611.0" stroke="#0000ff"/><path d="M275.9,548.5 282.3,568.1 288.7,572.8 295.1,577.8 301.5,585.8 307.9,587.8 314.3,588.6 320.7,587.9 327.1,589.1 333.5,594.1 339.9,594.2 346.3,594.9 352.7,596.0 359.1,604.3 365.5,596.5 371.9,600.2 378.3,602.8 384.7,606.7 391.1,601.1 397.5,610.1 403.9,614.0 410.3,605.5 416.7,607.4 423.1,608.1 429.5,608.6" stroke="#0000ff"/><path d="M275.9,543.9 282.3,561.3 288.7,570.0 295.1,575.0 301.5,583.2 307.9,585.9 314.3,587.7 320.7,583.1 327.1,589.9 333.5,593.2 339.9,592.4 346.3,595.0 352.7,594.4 359.1,596.9 365.5,592.4 371.9,592.2 378.3,596.3 384.7,594.3 391.1,604.7 397.5,600.9 403.9,602.6 410.3,606.2 416.7,600.4 423.1,605.2 429.5,607.8" stroke="#0000ff"/><path d="M275.9,550.6 282.3,575.6 288.7,581.1 295.1,594.8 301.5,601.8 307.9,601.0 314.3,600.5 320.7,609.4 327.1,601.2 333.5,609.3 339.9,611.0 346.3,609.4 352.7,608.3 359.1,602.1 365.5,605.4 371.9,607.8 378.3,609.7 384.7,612.6 391.1,608.6 397.5,607.3 403.9,609.8 410.3,609.4 416.7,617.7 423.1,618.5 429.5,621.6" stroke="#0000ff"/><path d="M275.9,537.9 282.3,566.7 288.7,583.5 295.1,575.4 301.5,588.3 307.9,584.2 314.3,587.0 320.7,591.8 327.1,597.1 333.5,602.4 339.9,599.3 346.3,602.9 352.7,600.5 359.1,607.6 365.5,614.8 371.9,612.8 378.3,614.4 384.7,615.4 391.1,615.3 397.5,619.8 403.9,612.9 410.3,619.9 416.7,616.4 423.1,625.2 429.5,621.9" stroke="#0000ff"/><path d="M275.9,548.0 282.3,571.9 288.7,580.1 295.1,592.1 301.5,597.2 307.9,590.3 314.3,598.2 320.7,598.7 327.1,597.0 333.5,605.9 339.9,603.2 346.3,606.3 352.7,606.1 359.1,612.3 365.5,612.9 371.9,612.2 378.3,611.7 384.7,615.9 391.1,615.3 397.5,621.6 403.9,622.7 410.3,613.0 416.7,607.7 423.1,613.1 429.5,619.6" stroke="#0000ff"/><path d="M275.9,564.7 282.3,575.0 288.7,585.8 295.1,596.3 301.5,610.0 307.9,596.4 314.3,599.4 320.7,599.2 327.1,591.0 333.5,602.0 339.9,601.7 346.3,599.5 352.7,606.4 359.1,610.4 365.5,610.5 371.9,602.1 378.3,604.1 384.7,610.5 391.1,600.2 397.5,607.7 403.9,618.0 410.3,603.1 416.7,607.4 423.1,616.5 429.5,603.7" stroke="#ff0000"/><path d="M275.9,567.2 282.3,574.0 288.7,588.2 295.1,596.1 301.5,603.6 307.9,587.0 314.3,593.4 320.7,612.6 327.1,609.9 333.5,601.1 339.9,611.3 346.3,607.5 352.7,602.4 359.1,608.0 365.5,609.2 371.9,610.7 378.3,608.6 384.7,605.7 391.1,595.9 397.5,600.8 403.9,610.0 410.3,601.5 416.7,606.9 423.1,616.7 429.5,606.9" stroke="#ff0000"/><path d="M275.9,572.2 282.3,579.1 288.7,594.4 295.1,589.6 301.5,587.2 307.9,594.0 314.3,591.2 320.7,603.0 327.1,594.7 333.5,595.2 339.9,601.2 346.3,607.6 352.7,596.7 359.1,596.3 365.5,588.4 371.9,600.4 378.3,586.5 384.7,614.2 391.1,598.8 397.5,600.9 403.9,600.6 410.3,601.9 416.7,599.4 423.1,588.8 429.5,601.6" stroke="#ff0000"/><path d="M275.9,567.4 282.3,582.1 288.7,595.2 295.1,608.0 301.5,607.8 307.9,596.3 314.3,595.3 320.7,603.9 327.1,600.6 333.5,603.1 339.9,607.6 346.3,601.3 352.7,613.6 359.1,614.1 365.5,626.3 371.9,617.7 378.3,621.1 384.7,613.6 391.1,612.3 397.5,619.4 403.9,614.0 410.3,607.8 416.7,613.7 423.1,615.0 429.5,616.0" stroke="#ff0000"/><path d="M275.9,563.7 282.3,585.1 288.7,589.6 295.1,593.7 301.5,603.8 307.9,606.6 314.3,587.1 320.7,596.6 327.1,612.9 333.5,590.0 339.9,596.5 346.3,601.1 352.7,611.8 359.1,596.0 365.5,600.9 371.9,604.0 378.3,594.7 384.7,595.4 391.1,608.6 397.5,597.7 403.9,600.7 410.3,591.7 416.7,598.4 423.1,590.6 429.5,601.2" stroke="#ff0000"/><path d="M275.9,570.2 282.3,572.9 288.7,591.5 295.1,593.0 301.5,607.9 307.9,591.5 314.3,608.0 320.7,610.8 327.1,611.6 333.5,621.6 339.9,618.0 346.3,611.0 352.7,611.5 359.1,595.0 365.5,603.1 371.9,606.4 378.3,602.6 384.7,616.2 391.1,614.6 397.5,616.1 403.9,627.4 410.3,594.2 416.7,607.2 423.1,609.5 429.5,604.3" stroke="#ff0000"/><path d="M275.9,574.3 282.3,570.9 288.7,581.4 295.1,592.0 301.5,594.8 307.9,608.4 314.3,588.8 320.7,603.0 327.1,600.6 333.5,604.0 339.9,599.5 346.3,604.7 352.7,603.4 359.1,603.8 365.5,607.9 371.9,610.0 378.3,602.0 384.7,602.6 391.1,598.5 397.5,592.9 403.9,609.9 410.3,612.8 416.7,600.0 423.1,588.7 429.5,597.8" stroke="#ff0000"/><path d="M275.9,558.2 282.3,569.3 288.7,582.7 295.1,600.1 301.5,596.3 307.9,607.6 314.3,595.9 320.7,593.1 327.1,597.9 333.5,585.3 339.9,606.9 346.3,597.5 352.7,602.1 359.1,611.4 365.5,599.8 371.9,596.6 378.3,598.1 384.7,607.0 391.1,602.5 397.5,610.6 403.9,596.0 410.3,592.6 416.7,601.0 423.1,599.5 429.5,607.5" stroke="#ff0000"/><path d="M275.9,562.7 282.3,563.0 288.7,587.1 295.1,581.9 301.5,595.7 307.9,587.5 314.3,590.5 320.7,586.7 327.1,603.6 333.5,592.5 339.9,593.5 346.3,586.6 352.7,597.0 359.1,597.1 365.5,589.9 371.9,592.5 378.3,611.9 384.7,597.1 391.1,591.6 397.5,599.5 403.9,608.4 410.3,617.0 416.7,593.8 423.1,620.4 429.5,591.9" stroke="#ff0000"/><path d="M275.9,566.8 282.3,587.8 288.7,607.0 295.1,586.7 301.5,596.2 307.9,586.5 314.3,606.5 320.7,608.8 327.1,602.6 333.5,593.1 339.9,604.4 346.3,602.4 352.7,624.4 359.1,601.6 365.5,592.1 371.9,602.0 378.3,603.0 384.7,597.8 391.1,597.9 397.5,598.7 403.9,584.7 410.3,592.6 416.7,596.0 423.1,599.2 429.5,596.2" stroke="#ff0000"/></g><path d="M269.0 639.8H429.5" stroke="#404040" stroke-width="1" fill="none"/><path d="M269.5 533.0V639.5M269.5 564.5h2.2M269.5 533.5h2.2M269.5 550.5h2.2M269.5 540.5h2.2M269.5 588.5h2.2M269.5 591.5h2.2M269.5 595.5h2.2M269.5 600.5h2.2M269.5 605.5h2.2M269.5 612.5h2.2M269.5 619.5h2.2M269.5 629.5h2.2M333.5 639.5v-2.2M397.5 639.5v-2.2" stroke="#555" stroke-width="1" fill="none"/><text transform="translate(255.13,537.80) scale(1.0000,1)" font-family="'Liberation Sans',Arial,Helvetica,sans-serif" font-size="12" fill="#262626">5</text><text transform="translate(255.23,568.98) scale(1.0000,1)" font-family="'Liberation Sans',Arial,Helvetica,sans-serif" font-size="12" fill="#262626">2</text><text transform="translate(264.86,660.00) scale(1.0000,1)" font-family="'Liberation Sans',Arial,Helvetica,sans-serif" font-size="12" fill="#262626">0</text><text transform="translate(325.40,660.00) scale(1.0000,1)" font-family="'Liberation Sans',Arial,Helvetica,sans-serif" font-size="12" fill="#262626">10</text><text transform="translate(389.56,660.00) scale(1.0000,1)" font-family="'Liberation Sans',Arial,Helvetica,sans-serif" font-size="12" fill="#262626">20</text><text transform="translate(240.70,522.65) scale(1.0000,1)" font-family="'Liberation Sans',Arial,Helvetica,sans-serif" font-size="16.8" fill="#000" stroke="#000" stroke-width="0.55">I</text><text transform="translate(300.67,525.70) scale(1.0134,1)" font-family="'Liberation Sans',Arial,Helvetica,sans-serif" font-size="14.3" fill="#e633bf">Adaptive lr</text><rect x="300.4" y="546.5" width="115.3" height="36" fill="#fff" stroke="#333" stroke-width="1"/><path d="M305.1 556.5h41.1" stroke="#1010ff" stroke-width="1"/><path d="M305.1 572.5h41.1" stroke="#ff1010" stroke-width="1"/><text transform="translate(349.62,560.90) scale(1.0000,1)" font-family="'Liberation Sans',Arial,Helvetica,sans-serif" font-size="12" fill="#262626">train</text><text transform="translate(349.76,577.10) scale(1.0000,1)" font-family="'Liberation Sans',Arial,Helvetica,sans-serif" font-size="12" fill="#262626">validation</text><path d="M485.5 564.5H645.5M485.5 533.5H645.5M549.5 639.5V533.0M613.5 639.5V533.0" stroke="#e4e4e4" stroke-width="1" fill="none"/><path d="M486.5 550.5H645.5M486.5 540.5H645.5M486.5 588.5H645.5M486.5 591.5H645.5M486.5 595.5H645.5M486.5 600.5H645.5M486.5 605.5H645.5M486.5 612.5H645.5M486.5 619.5H645.5M486.5 629.5H645.5" stroke="#cfcfcf" stroke-width="1" stroke-dasharray="1.5 2.5" fill="none"/><clipPath id="clipJ"><rect x="485.5" y="532.5" width="160.0" height="107.0"/></clipPath><g clip-path="url(#clipJ)" fill="none" stroke-width="1" stroke-linejoin="miter"><path d="M491.9,541.2 498.3,560.0 504.7,570.4 511.1,577.9 517.5,588.2 523.9,593.3 530.3,593.0 536.7,597.2 543.1,598.8 549.5,598.8 555.9,596.9 562.3,600.7 568.7,603.4 575.1,600.3 581.5,599.7 587.9,598.5 594.3,605.1 600.7,602.9 607.1,605.4 613.5,610.7 619.9,605.8 626.3,606.2 632.7,612.8 639.1,609.4 645.5,611.8" stroke="#0000ff"/><path d="M491.9,541.4 498.3,552.3 504.7,571.0 511.1,578.3 517.5,584.7 523.9,595.9 530.3,595.3 536.7,600.4 543.1,598.6 549.5,596.9 555.9,597.8 562.3,606.6 568.7,604.5 575.1,601.2 581.5,600.7 587.9,602.2 594.3,604.6 600.7,603.1 607.1,603.4 613.5,602.3 619.9,600.9 626.3,601.2 632.7,600.3 639.1,600.8 645.5,601.6" stroke="#0000ff"/><path d="M491.9,540.0 498.3,556.9 504.7,568.3 511.1,574.2 517.5,580.5 523.9,583.6 530.3,590.9 536.7,596.7 543.1,596.3 549.5,593.2 555.9,596.8 562.3,597.0 568.7,595.5 575.1,596.7 581.5,599.1 587.9,604.1 594.3,599.9 600.7,597.9 607.1,596.4 613.5,596.6 619.9,600.5 626.3,600.5 632.7,597.9 639.1,603.7 645.5,600.0" stroke="#0000ff"/><path d="M491.9,540.5 498.3,557.8 504.7,568.7 511.1,579.3 517.5,589.0 523.9,595.0 530.3,594.1 536.7,600.5 543.1,605.3 549.5,605.4 555.9,608.8 562.3,600.2 568.7,608.4 575.1,603.8 581.5,604.3 587.9,610.6 594.3,607.5 600.7,607.4 607.1,608.8 613.5,610.1 619.9,607.9 626.3,612.6 632.7,611.2 639.1,614.1 645.5,614.0" stroke="#0000ff"/><path d="M491.9,540.8 498.3,557.2 504.7,571.8 511.1,580.7 517.5,587.7 523.9,590.6 530.3,595.9 536.7,595.2 543.1,595.6 549.5,607.0 555.9,605.0 562.3,607.2 568.7,610.0 575.1,612.7 581.5,619.8 587.9,619.7 594.3,616.2 600.7,617.3 607.1,621.7 613.5,617.9 619.9,617.5 626.3,623.7 632.7,626.4 639.1,621.3 645.5,629.5" stroke="#0000ff"/><path d="M491.9,544.3 498.3,559.3 504.7,580.0 511.1,581.2 517.5,595.6 523.9,605.8 530.3,608.1 536.7,610.5 543.1,610.6 549.5,615.9 555.9,613.3 562.3,605.9 568.7,619.3 575.1,614.5 581.5,617.0 587.9,616.5 594.3,621.6 600.7,623.0 607.1,621.5 613.5,621.2 619.9,617.5 626.3,624.5 632.7,622.7 639.1,617.9 645.5,627.1" stroke="#0000ff"/><path d="M491.9,542.3 498.3,564.8 504.7,570.9 511.1,580.6 517.5,586.9 523.9,585.7 530.3,596.0 536.7,598.6 543.1,609.2 549.5,604.9 555.9,604.3 562.3,599.2 568.7,598.0 575.1,598.3 581.5,605.1 587.9,608.6 594.3,602.2 600.7,602.2 607.1,599.9 613.5,604.0 619.9,601.6 626.3,606.0 632.7,602.1 639.1,606.2 645.5,605.9" stroke="#0000ff"/><path d="M491.9,539.3 498.3,555.2 504.7,568.4 511.1,580.9 517.5,587.7 523.9,590.5 530.3,596.1 536.7,594.6 543.1,596.5 549.5,597.2 555.9,601.2 562.3,603.0 568.7,598.5 575.1,599.4 581.5,601.7 587.9,605.1 594.3,607.8 600.7,606.6 607.1,611.1 613.5,608.2 619.9,611.7 626.3,615.3 632.7,613.2 639.1,616.4 645.5,610.4" stroke="#0000ff"/><path d="M491.9,541.3 498.3,561.6 504.7,570.9 511.1,574.6 517.5,589.5 523.9,591.5 530.3,594.9 536.7,603.8 543.1,601.7 549.5,608.9 555.9,599.2 562.3,603.2 568.7,606.8 575.1,608.9 581.5,617.9 587.9,611.6 594.3,608.6 600.7,618.1 607.1,616.3 613.5,616.8 619.9,621.0 626.3,613.3 632.7,613.7 639.1,618.2 645.5,618.7" stroke="#0000ff"/><path d="M491.9,539.7 498.3,559.5 504.7,574.2 511.1,580.2 517.5,592.6 523.9,598.3 530.3,601.9 536.7,606.7 543.1,610.5 549.5,609.4 555.9,612.8 562.3,611.0 568.7,617.8 575.1,612.8 581.5,616.9 587.9,615.9 594.3,620.4 600.7,618.6 607.1,615.9 613.5,615.9 619.9,617.7 626.3,623.6 632.7,624.0 639.1,625.6 645.5,628.7" stroke="#0000ff"/><path d="M491.9,565.4 498.3,572.2 504.7,587.8 511.1,583.1 517.5,593.9 523.9,595.3 530.3,599.5 536.7,594.6 543.1,595.8 549.5,594.4 555.9,598.6 562.3,595.8 568.7,589.2 575.1,593.8 581.5,597.1 587.9,590.1 594.3,594.5 600.7,591.0 607.1,590.4 613.5,594.7 619.9,600.7 626.3,593.6 632.7,589.6 639.1,593.2 645.5,589.3" stroke="#ff0000"/><path d="M491.9,562.1 498.3,573.2 504.7,579.5 511.1,582.3 517.5,584.3 523.9,595.5 530.3,592.1 536.7,587.5 543.1,588.4 549.5,598.7 555.9,588.1 562.3,594.4 568.7,593.2 575.1,592.1 581.5,591.3 587.9,600.4 594.3,590.5 600.7,594.2 607.1,597.1 613.5,594.0 619.9,601.1 626.3,593.6 632.7,590.3 639.1,594.1 645.5,591.9" stroke="#ff0000"/><path d="M491.9,562.9 498.3,578.3 504.7,587.8 511.1,583.2 517.5,587.6 523.9,589.7 530.3,594.2 536.7,591.2 543.1,591.2 549.5,595.5 555.9,590.1 562.3,602.0 568.7,597.9 575.1,593.2 581.5,592.9 587.9,598.2 594.3,591.6 600.7,588.7 607.1,589.3 613.5,590.5 619.9,587.7 626.3,588.9 632.7,595.7 639.1,591.8 645.5,583.9" stroke="#ff0000"/><path d="M491.9,566.4 498.3,579.5 504.7,581.0 511.1,587.3 517.5,595.1 523.9,592.9 530.3,593.2 536.7,599.0 543.1,597.1 549.5,597.5 555.9,600.7 562.3,592.3 568.7,597.1 575.1,599.4 581.5,603.6 587.9,602.4 594.3,592.4 600.7,604.5 607.1,596.5 613.5,600.4 619.9,597.7 626.3,597.0 632.7,601.0 639.1,598.4 645.5,595.8" stroke="#ff0000"/><path d="M491.9,574.9 498.3,579.9 504.7,583.8 511.1,591.8 517.5,601.0 523.9,595.2 530.3,597.8 536.7,590.9 543.1,589.3 549.5,595.6 555.9,604.3 562.3,597.3 568.7,600.6 575.1,592.8 581.5,588.3 587.9,594.3 594.3,585.8 600.7,588.8 607.1,591.5 613.5,597.1 619.9,591.6 626.3,597.5 632.7,586.6 639.1,590.0 645.5,583.6" stroke="#ff0000"/><path d="M491.9,572.8 498.3,585.5 504.7,585.8 511.1,588.9 517.5,588.7 523.9,591.5 530.3,590.9 536.7,595.4 543.1,595.5 549.5,604.1 555.9,598.7 562.3,590.2 568.7,596.0 575.1,592.1 581.5,595.5 587.9,596.7 594.3,585.3 600.7,592.0 607.1,587.6 613.5,592.0 619.9,593.3 626.3,600.9 632.7,589.8 639.1,596.1 645.5,598.6" stroke="#ff0000"/><path d="M491.9,563.4 498.3,575.4 504.7,580.9 511.1,585.9 517.5,593.1 523.9,593.1 530.3,591.5 536.7,590.3 543.1,605.4 549.5,591.4 555.9,594.2 562.3,590.5 568.7,594.6 575.1,592.1 581.5,587.5 587.9,606.7 594.3,587.7 600.7,594.9 607.1,603.5 613.5,606.7 619.9,594.2 626.3,600.2 632.7,591.4 639.1,592.9 645.5,592.8" stroke="#ff0000"/><path d="M491.9,563.4 498.3,573.7 504.7,582.8 511.1,582.1 517.5,587.6 523.9,583.3 530.3,591.6 536.7,592.9 543.1,601.6 549.5,599.4 555.9,600.4 562.3,598.6 568.7,601.5 575.1,591.5 581.5,601.0 587.9,595.9 594.3,602.3 600.7,596.0 607.1,591.8 613.5,601.7 619.9,595.5 626.3,595.8 632.7,594.5 639.1,593.4 645.5,595.8" stroke="#ff0000"/><path d="M491.9,573.3 498.3,577.4 504.7,584.7 511.1,589.5 517.5,597.0 523.9,601.4 530.3,595.1 536.7,595.8 543.1,593.9 549.5,597.7 555.9,598.5 562.3,597.2 568.7,602.9 575.1,600.7 581.5,594.9 587.9,603.6 594.3,598.0 600.7,594.5 607.1,596.7 613.5,596.4 619.9,603.6 626.3,599.3 632.7,600.0 639.1,596.8 645.5,597.8" stroke="#ff0000"/><path d="M491.9,561.8 498.3,568.3 504.7,576.8 511.1,584.9 517.5,581.6 523.9,591.8 530.3,591.4 536.7,596.0 543.1,597.2 549.5,597.8 555.9,590.9 562.3,595.2 568.7,591.4 575.1,596.3 581.5,597.8 587.9,603.6 594.3,592.3 600.7,586.2 607.1,595.6 613.5,589.0 619.9,591.0 626.3,597.1 632.7,589.5 639.1,595.4 645.5,592.0" stroke="#ff0000"/></g><path d="M485.0 639.8H645.5" stroke="#404040" stroke-width="1" fill="none"/><path d="M485.5 533.0V639.5M485.5 564.5h2.2M485.5 533.5h2.2M485.5 550.5h2.2M485.5 540.5h2.2M485.5 588.5h2.2M485.5 591.5h2.2M485.5 595.5h2.2M485.5 600.5h2.2M485.5 605.5h2.2M485.5 612.5h2.2M485.5 619.5h2.2M485.5 629.5h2.2M549.5 639.5v-2.2M613.5 639.5v-2.2" stroke="#555" stroke-width="1" fill="none"/><text transform="translate(471.13,537.80) scale(1.0000,1)" font-family="'Liberation Sans',Arial,Helvetica,sans-serif" font-size="12" fill="#262626">5</text><text transform="translate(471.23,568.98) scale(1.0000,1)" font-family="'Liberation Sans',Arial,Helvetica,sans-serif" font-size="12" fill="#262626">2</text><text transform="translate(480.86,660.00) scale(1.0000,1)" font-family="'Liberation Sans',Arial,Helvetica,sans-serif" font-size="12" fill="#262626">0</text><text transform="translate(541.40,660.00) scale(1.0000,1)" font-family="'Liberation Sans',Arial,Helvetica,sans-serif" font-size="12" fill="#262626">10</text><text transform="translate(605.56,660.00) scale(1.0000,1)" font-family="'Liberation Sans',Arial,Helvetica,sans-serif" font-size="12" fill="#262626">20</text><text transform="translate(450.19,527.35) scale(1.0000,1)" font-family="'Liberation Sans',Arial,Helvetica,sans-serif" font-size="16.8" fill="#000" stroke="#000" stroke-width="0.55">J</text><text transform="translate(516.87,525.70) scale(1.0134,1)" font-family="'Liberation Sans',Arial,Helvetica,sans-serif" font-size="14.3" fill="#e633bf">Adaptive lr</text><rect x="516.4" y="546.5" width="115.3" height="36" fill="#fff" stroke="#333" stroke-width="1"/><path d="M521.1 556.5h41.1" stroke="#1010ff" stroke-width="1"/><path d="M521.1 572.5h41.1" stroke="#ff1010" stroke-width="1"/><text transform="translate(565.62,560.90) scale(1.0000,1)" font-family="'Liberation Sans',Arial,Helvetica,sans-serif" font-size="12" fill="#262626">train</text><text transform="translate(565.76,577.10) scale(1.0000,1)" font-family="'Liberation Sans',Arial,Helvetica,sans-serif" font-size="12" fill="#262626">validation</text></svg></body></html>
